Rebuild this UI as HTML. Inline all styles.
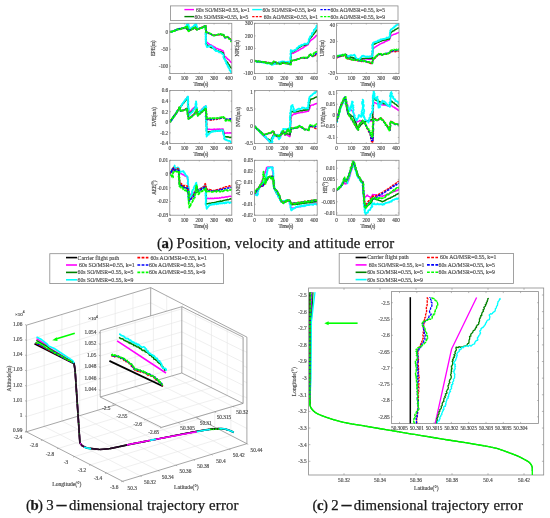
<!DOCTYPE html>
<html><head><meta charset="utf-8"><title>Figure</title>
<style>
html,body{margin:0;padding:0;background:#fff;width:550px;height:518px;overflow:hidden}
svg{position:absolute;left:0;top:0;display:block}
svg text{font-family:"Liberation Serif","Times New Roman",serif;stroke:#5a5a5a;stroke-width:0.18px}
.cap{position:absolute;letter-spacing:0.235px;-webkit-text-stroke:0.25px #1a1a1a;font-family:"Liberation Serif","DejaVu Serif",serif;color:#1a1a1a;white-space:nowrap;line-height:1}
.cap b{font-weight:bold}
.lab{letter-spacing:-0.55px}
.dash{display:inline-block;transform:translateY(-1.4px) scale(0.68,1.6)}
</style></head><body>
<svg width="550" height="518" viewBox="0 0 550 518">
<clipPath id="c0"><rect x="169.8" y="23.3" width="62" height="50.3"/></clipPath>
<g clip-path="url(#c0)">
<polyline points="169.77,32.19 170.51,31.85 171.34,31.79 172.02,31.28 172.85,31.2 173.58,30.87 174.3,30.47 175.12,30.39 175.81,29.93 176.63,29.82 177.34,29.4 178.13,29.14 179.04,29.12 179.96,29.14 180.78,28.67 181.68,28.56 182.59,28.57 183.5,28.55 184.36,28.23 185.21,28 186.01,27.65 186.39,26.8 187.27,26.52 187.9,25.83 188.21,26.58 188.48,27.34 188.66,28.14 188.71,28.98 189.04,29.57 189.94,29.37 190.77,29.02 191.55,28.55 192.41,28.26 193.15,27.7 193.98,27.33 194.85,27.02 196.1,26.79 196.63,27.51 197.1,28.25 197.47,29.1 198.28,28.77 199.08,28.43 199.98,28.36 200.79,28.05 201.55,27.58 202.43,27.45 203.25,27.15 204.1,26.86 204.84,26.37 205.65,25.86 205.37,26.67 205.78,27.45 205.67,28.26 205.55,29.06 205.84,29.85 205.72,30.66 205.94,31.45 205.69,32.26 205.67,33.06 205.78,33.86 205.68,34.66 205.95,35.46 205.81,36.26 205.88,37.06 205.91,37.86 205.99,38.66 205.85,39.46 205.83,40.26 206.06,41.06 206.03,41.92 206.95,42.21 207.57,42.96 208.35,43.45 208.98,44.02 209.72,44.4 210.54,44.64 211.22,45.12 211.86,45.67 212.71,45.87 213.31,46.48 214.08,46.81 214.79,47.23 215.51,47.65 216.07,48.37 216.95,48.39 217.72,48.72 218.48,49.07 219.2,49.55 220.1,49.51 220.83,49.94 221.6,50.27 222.34,50.69 223.05,50.85 223.24,51.71 223.71,52.5 223.86,53.37 224.1,54.22 224.09,55.13 224.33,56.08 225.19,56.41 225.79,57.01 226.38,57.61 226.99,58.2 227.53,58.87 228.11,59.49 228.82,59.97 229.51,60.47 229.99,61.19 230.62,61.76 231.17,62.41 231.8,62.98" fill="none" stroke="#ff00ff" stroke-width="1.5" stroke-linejoin="round"/>
<polyline points="169.87,32.45 170.59,32.07 171.32,31.73 172.1,31.51 172.87,31.26 173.54,30.74 174.42,30.82 175.16,30.5 175.94,30.27 176.68,29.97 177.39,29.54 178.15,29.27 179.01,28.98 179.94,29.05 180.78,28.65 181.66,28.49 182.56,28.39 183.44,28.21 184.34,28.13 185.36,27.88 186.02,28.38 186.62,28.94 187.27,29.43 187.85,30.04 188.37,30.4 189.3,30.41 190.04,29.96 190.75,29.43 191.55,29.13 192.36,28.83 193.14,28.49 193.89,28.05 194.8,28.01 195.33,27.62 195.88,28.24 196.22,28.97 196.49,29.53 197.33,29.22 198.2,28.99 199.03,28.64 199.95,28.55 200.68,27.96 201.5,27.58 202.48,27.64 203.25,27.15 203.94,26.58 204.8,26.3 205.77,25.85 205.57,26.67 205.39,27.48 205.47,28.28 205.56,29.09 205.78,29.89 205.75,30.7 205.86,31.5 205.62,32.32 205.75,33.12 205.66,33.93 205.88,34.73 205.95,35.54 205.71,36.35 205.66,37.16 205.74,37.97 205.78,38.77 205.8,39.58 205.86,40.39 206.1,41.19 206,42 206.09,42.8 206.26,43.61 206.18,44.24 206.84,44.75 207.56,45.15 208.18,45.73 208.84,46.24 209.67,46.46 210.28,47.05 210.98,47.48 211.71,47.88 212.55,48.07 213.3,48.43 214.02,48.84 214.74,49.24 215.46,49.65 216.09,50.23 216.83,50.63 217.63,50.89 218.47,51.02 219.23,51.38 219.99,51.72 220.89,51.71 221.59,52.24 222.33,52.62 223.06,52.76 223.26,53.58 223.56,54.38 223.87,55.18 223.79,56.06 224.17,56.84 224.16,57.7 224.3,58.62 224.99,59.15 225.48,59.84 225.77,60.66 226.34,61.29 227.03,61.83 227.53,62.5 228.01,63.19 228.23,64.06 228.76,64.72 229.48,65.23 229.73,66.09 230.16,66.81 230.77,67.41 231.36,68.02 231.8,68.74" fill="none" stroke="#008000" stroke-width="1.5" stroke-linejoin="round"/>
<polyline points="169.82,32.3 170.44,31.67 171.17,31.28 172.23,31.77 172.89,31.22 173.61,30.83 174.5,30.87 175.1,30.17 176,30.24 176.74,29.91 177.31,29.11 178.12,28.84 179.01,28.72 179.89,28.51 180.83,28.65 181.66,28.21 182.57,28.19 183.41,27.78 184.42,28.29 185.12,27.72 185.57,27.03 186.04,26.35 186.66,25.75 186.64,24.82 187.4,24.29 187.44,23.39 187.78,22.67 187.95,23.5 188.55,24.24 188.34,25.15 188.73,25.93 189.04,26.74 188.51,27.7 189.22,28.43 189.08,29.3 189.93,28.97 190.57,28.33 191.18,27.65 192,27.28 192.74,26.8 193.58,26.45 193.96,25.45 194.93,25.24 195.11,24.19 195.56,23.26 195.93,22.45 196.32,23.24 196.44,24.08 196.43,24.94 196.46,25.8 197.02,26.55 197.04,27.41 197.29,28.23 197.46,29.07 198.34,28.95 199.1,28.47 199.95,28.26 200.76,27.94 201.71,28.06 202.47,27.58 203.4,27.43 204.2,27.05 204.69,26.1 205.51,25.86 205.19,26.67 205.3,27.47 205.94,28.25 205.98,29.05 205.72,29.86 206.06,30.65 205.94,31.45 206.11,32.25 205.6,33.06 205.52,33.87 205.45,34.67 206.12,35.45 205.65,36.26 205.72,37.06 206.19,37.85 205.57,38.67 205.51,39.47 206.19,40.25 205.57,41.07 206.08,41.86 206.02,42.66 205.6,43.47 205.76,44.27 206.34,44.93 206.47,45.76 206.75,46.51 207.05,47.1 207.78,46.68 208.59,46.47 209.49,46.49 210.03,45.61 210.93,45.73 211.57,46.23 212.4,46.54 212.78,47.3 213.17,48.05 213.81,48.55 214.66,48.84 214.66,49.98 215.36,50.43 215.94,51.2 217.04,50.86 217.76,51.34 218.63,51.52 219.15,52.46 220.12,52.41 220.96,52.65 221.64,53.24 222.25,53.99 222.9,54.06 223.55,54.94 223.81,55.89 223.3,56.96 223.77,57.88 224.03,58.66 224.87,59.15 225.26,59.87 225.13,60.84 225.7,61.46 226.34,62.05 226.02,63.12 226.62,63.73 226.85,64.52 227.78,64.97 227.53,66 228.52,66.41 228.25,67.45 228.94,68.02 229.39,68.7 229.58,69.51 229.65,70.39 230.53,70.86 231,71.53 231.05,72.41 231.64,73.03 231.8,73.86" fill="none" stroke="#00ffff" stroke-width="1.8" stroke-linejoin="round"/>
<polyline points="169.73,32.06 170.5,31.82 171.24,31.49 172.03,31.3 172.81,31.09 173.56,30.82 174.41,30.79 175.08,30.28 175.88,30.12 176.58,29.68 177.37,29.5 178.1,29.06 178.95,28.98 179.74,28.66 180.65,28.85 181.44,28.55 182.21,28.16 183.07,28.12 183.95,28.16 184.66,27.52 185.57,27.71 186.34,27.3 187.17,27.14 187.25,27.97 187.74,28.66 187.93,29.44 188.1,30.24 188.57,31.22 189.2,30.52 190.1,30.38 190.86,29.93 191.63,29.51 192.36,29.01 193.13,28.6 193.85,28.07 194.65,27.72 195.75,27.46 195.72,28.65 196.12,29.57 196.89,29.24 197.66,28.92 198.59,29.02 199.38,28.75 200.13,28.37 200.84,27.88 201.62,27.58 202.42,27.32 203.23,27.12 203.92,26.55 204.77,26.26 205.69,25.85 205.38,26.74 205.45,27.6 205.75,28.44 205.99,29.29 205.67,30.18 206.1,31.01 206.11,31.81 206.98,32.06 207.65,32.67 208.4,33.14 209.12,33.52 209.93,33.74 210.59,34.25 211.45,34.37 212.12,34.87 212.9,35.15 213.52,35.66 214.29,35.31 215.09,35.14 215.93,35.13 216.72,34.93 217.56,34.96 218.36,34.77 219.19,34.73 219.95,34.52 220.91,34.74 221.85,35.02 222.87,34.95 223.91,35.16 224.02,36.18 224.85,36.82 225.15,37.88 225.99,37.58 226.75,37.01 227.58,37.14 228.24,37.66 229.02,38.03 229.67,38.57 230.33,39.1 231.23,39.29 231.8,39.94" fill="none" stroke="#ff0000" stroke-width="1.5" stroke-linejoin="round" stroke-dasharray="2.6 0.9"/>
<polyline points="169.8,32.27 170.56,31.99 171.38,31.9 172.14,31.61 172.9,31.36 173.62,30.96 174.43,30.86 175.15,30.48 175.92,30.22 176.59,29.71 177.32,29.34 178.11,29.12 178.96,29.04 179.75,28.71 180.66,28.9 181.44,28.56 182.27,28.39 183.09,28.2 183.91,28.03 184.71,27.73 185.46,27.27 186.39,27.5 187.04,27.18 187.42,27.91 187.66,28.68 187.85,29.47 188.42,30.14 188.51,31.1 189.18,30.47 189.92,30 190.75,29.71 191.65,29.56 192.31,28.91 193.23,28.79 194.07,28.53 194.74,27.9 195.59,27.51 195.86,28.61 196.2,29.79 197.01,29.55 197.76,29.19 198.55,28.92 199.23,28.34 200.03,28.1 200.84,27.87 201.72,27.83 202.42,27.32 203.26,27.17 203.89,26.48 204.67,26.07 205.69,25.85 205.54,26.69 205.6,27.51 205.68,28.34 205.97,29.14 205.92,29.97 206.02,30.79 206.08,31.6 206.95,31.91 207.5,32.74 208.46,32.88 209.01,33.63 209.75,33.97 210.71,33.89 211.34,34.47 211.99,35.01 212.68,35.45 213.53,35.56 214.31,35.3 215.11,35.11 215.99,35.35 216.72,34.79 217.56,34.83 218.32,34.43 219.16,34.48 219.93,34.55 220.96,34.27 221.87,34.8 222.86,34.79 223.63,35.03 224.04,35.76 224.6,36.43 224.59,37.34 225.11,38.01 225.88,37.47 226.74,37.16 227.69,37.12 228.39,37.72 229.13,38.28 229.87,38.83 230.49,39.53 231.18,40.14 231.8,40.83" fill="none" stroke="#0000ff" stroke-width="1.5" stroke-linejoin="round" stroke-dasharray="2.6 0.9" stroke-dashoffset="1.6"/>
<polyline points="169.92,32.57 170.38,31.51 171.41,31.91 172.2,31.7 172.71,30.74 173.75,31.2 174.44,30.71 175.26,30.59 175.81,29.74 176.6,29.52 177.36,29.25 178.01,29.53 179.1,29.46 180.03,29.57 180.85,29.28 181.57,28.79 182.26,28.23 183.07,27.92 184.16,28.22 184.72,27.37 185.77,27.6 186.28,26.63 187.39,26.44 187.41,27.4 187.97,28.21 188.06,29.15 187.76,30.21 188.63,31.31 189.31,30.87 189.93,30.33 190.77,30.19 191.49,29.83 192.01,29.1 192.8,28.87 193.19,27.9 194.22,28.11 194.8,27.48 195.28,27.2 195.6,28.03 196.16,28.79 196.02,29.28 197.1,29.81 197.62,28.78 198.52,28.82 199.26,28.42 200.03,28.09 200.97,28.22 201.83,28.15 202.38,27.2 203.32,27.27 203.92,26.54 204.82,26.34 205.66,25.85 205.96,26.65 206.04,27.48 206.07,28.3 205.45,29.19 205.93,29.97 206.28,30.77 205.88,31.97 206.61,32.48 207.64,32.43 208.55,32.58 209.26,32.99 210.04,33.27 210.66,33.86 211.51,34 212.18,34.5 212.91,34.88 213.55,35.53 214.41,35.68 215.19,35.38 215.93,34.89 216.73,34.74 217.56,34.68 218.33,34.38 219.13,34.18 220.04,33.75 220.97,34.12 221.82,34.96 222.92,34.29 223.82,34.82 224.03,35.67 224.13,36.55 225.05,37.11 225.01,37.82 225.86,37.37 226.78,37.08 227.73,36.71 227.85,37.66 228.44,38.24 228.94,38.89 230.11,39 230.62,39.65 230.61,40.71 230.98,41.46 231.8,41.86" fill="none" stroke="#00ff00" stroke-width="1.7" stroke-linejoin="round" stroke-dasharray="3.6 0.6"/>
</g>
<rect x="169.8" y="23.3" width="62" height="50.3" fill="none" stroke="#8a8a8a" stroke-width="0.8"/>
<line x1="169.8" y1="73.6" x2="169.8" y2="72.4" stroke="#8a8a8a" stroke-width="0.6"/>
<line x1="169.8" y1="23.3" x2="169.8" y2="24.5" stroke="#8a8a8a" stroke-width="0.6"/>
<text x="169.8" y="79.9" font-size="5.2" text-anchor="middle" fill="#4a4a4a">0</text>
<line x1="184.56" y1="73.6" x2="184.56" y2="72.4" stroke="#8a8a8a" stroke-width="0.6"/>
<line x1="184.56" y1="23.3" x2="184.56" y2="24.5" stroke="#8a8a8a" stroke-width="0.6"/>
<text x="184.56" y="79.9" font-size="5.2" text-anchor="middle" fill="#4a4a4a">100</text>
<line x1="199.32" y1="73.6" x2="199.32" y2="72.4" stroke="#8a8a8a" stroke-width="0.6"/>
<line x1="199.32" y1="23.3" x2="199.32" y2="24.5" stroke="#8a8a8a" stroke-width="0.6"/>
<text x="199.32" y="79.9" font-size="5.2" text-anchor="middle" fill="#4a4a4a">200</text>
<line x1="214.09" y1="73.6" x2="214.09" y2="72.4" stroke="#8a8a8a" stroke-width="0.6"/>
<line x1="214.09" y1="23.3" x2="214.09" y2="24.5" stroke="#8a8a8a" stroke-width="0.6"/>
<text x="214.09" y="79.9" font-size="5.2" text-anchor="middle" fill="#4a4a4a">300</text>
<line x1="228.85" y1="73.6" x2="228.85" y2="72.4" stroke="#8a8a8a" stroke-width="0.6"/>
<line x1="228.85" y1="23.3" x2="228.85" y2="24.5" stroke="#8a8a8a" stroke-width="0.6"/>
<text x="228.85" y="79.9" font-size="5.2" text-anchor="middle" fill="#4a4a4a">400</text>
<text x="200.8" y="86.2" font-size="5.3" text-anchor="middle" fill="#4a4a4a" letter-spacing="-0.3">Time(s)</text>
<line x1="169.8" y1="32.24" x2="171" y2="32.24" stroke="#8a8a8a" stroke-width="0.6"/>
<line x1="231.8" y1="32.24" x2="230.6" y2="32.24" stroke="#8a8a8a" stroke-width="0.6"/>
<text x="168.2" y="34.04" font-size="5.2" text-anchor="end" fill="#4a4a4a">0</text>
<line x1="169.8" y1="49.25" x2="171" y2="49.25" stroke="#8a8a8a" stroke-width="0.6"/>
<line x1="231.8" y1="49.25" x2="230.6" y2="49.25" stroke="#8a8a8a" stroke-width="0.6"/>
<text x="168.2" y="51.05" font-size="5.2" text-anchor="end" fill="#4a4a4a">-50</text>
<line x1="169.8" y1="66.25" x2="171" y2="66.25" stroke="#8a8a8a" stroke-width="0.6"/>
<line x1="231.8" y1="66.25" x2="230.6" y2="66.25" stroke="#8a8a8a" stroke-width="0.6"/>
<text x="168.2" y="68.05" font-size="5.2" text-anchor="end" fill="#4a4a4a">-100</text>
<text x="153.2" y="48.45" font-size="5.3" text-anchor="middle" transform="rotate(-90 153.2 48.45)" fill="#4a4a4a" dominant-baseline="central" letter-spacing="-0.3">EPE(m)</text>
<clipPath id="c36"><rect x="254.5" y="23.3" width="62.7" height="50.3"/></clipPath>
<g clip-path="url(#c36)">
<polyline points="254.5,61.05 255.32,61.19 256.17,61.04 256.97,61.3 257.76,61.64 258.58,61.69 259.4,61.8 260.22,61.95 261.08,61.73 261.9,61.77 262.72,61.89 263.52,62.15 264.33,62.32 265.12,62.53 265.93,62.6 266.72,62.74 267.49,62.96 268.31,63 269.09,63.21 269.92,63.16 270.63,63.65 271.47,63.59 272.25,64.06 273.04,63.86 273.83,63.64 274.62,63.49 275.43,63.47 276.25,63.56 277.06,63.51 277.84,63.18 278.64,63.09 279.46,63.21 280.26,63.16 281.06,63 281.88,62.86 282.74,63.09 283.63,62.89 284.49,63.08 285.36,63.22 286.22,63.5 287.1,63.42 287.97,63.59 288.86,63.48 289.74,63.44 290.49,63.61 290.83,62.82 290.74,62.02 290.58,61.21 290.48,60.41 290.71,59.62 290.81,58.82 290.72,58.02 290.67,57.21 290.87,56.42 291.01,55.62 290.72,54.81 290.79,53.82 291.69,53.65 292.56,53.39 293.47,53.19 294.14,52.58 295.04,52.39 295.79,51.95 296.52,51.43 297.22,50.9 298.16,50.77 298.79,50.09 299.67,49.87 300.31,49.22 301.07,48.79 301.91,48.55 302.5,47.93 303.37,47.72 303.97,47.1 304.6,46.54 305.31,46.11 306.07,45.73 306.83,45.38 307.61,45.03 308.07,44.35 308.59,43.54 308.95,42.66 309.63,42.01 309.98,41.2 310.54,40.63 311.14,40.09 311.83,39.66 312.57,39.28 313.16,38.73 313.71,38.14 314.38,37.69 314.96,37.13 315.37,36.39 315.92,35.8 316.74,35.5 317.2,34.82" fill="none" stroke="#ff00ff" stroke-width="1.5" stroke-linejoin="round"/>
<polyline points="254.49,61.16 255.34,60.95 256.13,61.33 256.97,61.3 257.79,61.4 258.61,61.48 259.44,61.5 260.27,61.53 261.07,61.75 261.89,61.88 262.68,62.24 263.54,61.98 264.32,62.44 265.19,62.21 265.96,62.45 266.7,62.82 267.49,62.99 268.31,62.99 269.13,63 269.88,63.35 270.67,63.48 271.41,63.88 272.22,63.74 273.03,63.74 273.85,63.9 274.62,63.44 275.44,63.54 276.26,63.64 277.06,63.54 277.83,63.15 278.64,63.07 279.44,63.01 280.28,63.31 281.05,62.95 281.86,63.09 282.73,63.22 283.62,63.03 284.5,63.07 285.35,63.43 286.23,63.35 287.12,63.26 287.98,63.52 288.86,63.41 289.74,63.45 290.39,63.61 290.73,62.8 290.82,61.98 290.72,61.15 290.87,60.33 290.49,59.5 290.6,58.68 290.72,57.86 290.95,57.04 290.97,56.22 290.74,55.39 290.7,54.56 290.79,53.74 290.84,52.92 290.91,52.28 291.68,51.75 292.61,51.8 293.49,51.55 294.21,51.11 294.9,50.63 295.56,50.1 296.19,49.53 296.89,49.06 297.6,48.61 298.4,48.3 298.93,47.58 299.66,47.16 300.5,46.9 301.1,46.23 301.86,45.87 302.64,45.58 303.5,45.51 304.25,45.13 305.14,45.11 305.91,44.79 306.71,44.55 307.39,43.97 308.03,43.73 308.29,42.83 308.72,41.99 309.07,41.12 309.21,40.19 309.4,39.23 309.98,38.64 310.56,38.05 311.09,37.43 311.63,36.81 312.18,36.19 312.63,35.5 312.96,34.71 313.72,34.27 314.05,33.48 314.65,32.92 315.1,32.22 315.74,31.68 316.07,30.9 316.6,30.27 317.2,29.7" fill="none" stroke="#008000" stroke-width="1.5" stroke-linejoin="round"/>
<polyline points="254.54,60.81 255.37,60.84 256.09,61.67 256.95,61.49 257.81,61.36 258.62,61.55 259.35,62.25 260.24,61.89 261.1,61.74 261.84,62.42 262.68,62.39 263.45,62.84 264.4,62.09 265.17,62.57 265.88,63.14 266.67,63.4 267.46,63.71 268.51,63.12 269.24,63.6 270.09,63.67 270.87,63.98 271.71,64.96 272.4,64.38 273.28,64.49 273.93,63.74 274.85,64 275.53,63.38 276.27,62.98 277.2,63.26 278.03,63.21 278.6,62.19 279.52,62.44 280.32,62.24 281,61.64 281.88,61.57 282.77,61.41 283.64,61.53 284.51,61.65 285.35,62.05 286.22,62.17 287.13,61.79 288.02,61.66 288.87,62.04 289.72,62.45 290.29,62.33 290.44,61.52 290.34,60.71 290.95,59.91 290.72,59.1 290.26,58.27 290.31,57.46 290.62,56.66 290.79,55.85 290.9,55.04 290.37,54.22 290.46,53.41 291,52.61 290.74,51.8 290.63,50.98 290.92,50 291.57,50.9 292.64,50.6 293.47,51.13 293.99,50.46 294.66,50.01 295.58,49.85 296.3,49.46 296.56,48.46 297.1,47.83 298.07,47.74 298.39,46.83 298.91,46.18 300.1,46.37 300.45,45.5 301.22,45.36 301.9,44.76 302.81,45 303.48,44.38 304.19,43.88 304.94,43.53 305.86,43.83 306.67,43.7 307.53,43.74 307.81,43.04 308.54,42.31 308.51,41.4 308.85,40.58 308.72,39.64 309.07,38.82 309.51,38.03 310.28,37.53 310.02,36.4 310.77,35.88 311.46,35.33 312.03,34.7 311.8,33.6 312.17,32.85 313.29,32.56 313.75,31.86 313.76,30.9 313.82,29.97 314.99,29.7 314.96,28.72 315.83,28.27 316.02,27.41 316.62,26.81 316.48,25.76 317.2,25.22" fill="none" stroke="#00ffff" stroke-width="1.8" stroke-linejoin="round"/>
<polyline points="254.48,61.21 255.34,61 256.15,61.2 256.94,61.54 257.76,61.63 258.62,61.38 259.44,61.49 260.25,61.69 261.06,61.85 261.89,61.88 262.73,61.84 263.54,62 264.33,62.36 265.13,62.55 266.09,62.25 266.92,62.69 267.79,62.96 268.74,62.73 269.55,63.32 270.5,63.09 271.34,63.51 272.25,63.63 272.93,62.7 273.55,61.6 274.32,61.94 275.07,62.31 275.89,62.51 276.63,62.92 277.45,63.09 278.24,63.37 279.1,63.44 279.77,64.03 280.58,64.25 281.1,63.22 281.84,62.48 282.64,62.65 283.48,62.63 284.31,62.64 285.08,62.96 285.92,62.92 286.73,63.1 287.5,63.42 288.35,63.4 289.46,63.91 290.61,64.26 290.48,63.42 290.93,62.67 290.76,61.82 291.15,61.18 291.97,60.99 292.75,60.64 293.5,60.18 294.37,60.21 295.17,59.93 296.09,60.01 296.79,59.27 297.78,59.32 298.67,59.07 299.47,58.62 300.34,58.34 301.14,57.69 301.94,58.12 302.75,57.85 303.55,58.11 304.35,58.09 305.15,57.67 305.96,58.02 306.76,58.09 307.38,57.71 308.01,57.17 308.7,56.67 308.96,55.82 309.79,55.43 310.21,54.56 310.67,55.28 311.54,55.46 312.06,56.1 312.79,56.79 313.39,56.11 314.15,55.82 314.95,55.62 315.66,55.21 316.35,54.74 317.2,54.66" fill="none" stroke="#ff0000" stroke-width="1.5" stroke-linejoin="round" stroke-dasharray="2.6 0.9"/>
<polyline points="254.52,60.88 255.34,60.97 256.11,61.49 256.95,61.45 257.76,61.67 258.62,61.37 259.4,61.8 260.27,61.54 261.06,61.86 261.87,62.02 262.71,61.96 263.5,62.34 264.34,62.27 265.16,62.38 266.01,62.7 266.97,62.44 267.77,63.08 268.68,63.05 269.59,63.08 270.43,63.46 271.37,63.33 272.45,63.77 272.91,62.68 273.54,61.62 274.25,62.12 275.1,62.24 275.93,62.38 276.61,62.96 277.53,62.89 278.17,63.57 279.06,63.56 279.77,64.04 280.8,64.4 281.26,63.32 281.85,62.43 282.69,62.4 283.53,62.39 284.33,62.57 285.12,62.79 285.87,63.2 286.69,63.26 287.49,63.46 288.23,63.83 289.5,63.74 290.46,64.23 290.82,63.47 290.6,62.62 290.72,61.81 291.1,60.98 291.88,60.63 292.73,60.55 293.52,60.27 294.38,60.25 295.2,60.04 295.94,59.62 296.88,59.52 297.71,59.12 298.5,58.63 299.51,58.72 300.23,58.05 301.14,57.66 301.94,57.63 302.75,57.93 303.55,58.06 304.35,58.01 305.15,57.8 305.96,57.73 306.76,57.59 307.63,57.91 308.1,57.24 308.53,56.53 309.17,55.99 309.6,55.28 310.01,54.86 310.92,55.28 311.92,55.56 312.82,56.38 313.32,55.51 314.21,55.27 314.92,54.74 315.62,54.19 316.32,53.64 317.2,53.38" fill="none" stroke="#0000ff" stroke-width="1.5" stroke-linejoin="round" stroke-dasharray="2.6 0.9" stroke-dashoffset="1.6"/>
<polyline points="254.47,61.33 255.38,60.68 256.13,61.3 256.91,61.79 257.82,61.1 258.64,61.25 259.41,61.75 260.24,61.75 261.05,61.98 261.85,62.25 262.74,61.72 263.55,61.95 264.37,62.04 265.24,61.9 265.98,62.88 266.88,62.93 267.78,63.03 268.78,62.5 269.52,63.47 270.42,63.54 271.35,63.42 272.43,63.75 272.83,62.63 273.61,61.44 274.44,61.63 275.18,62.05 276.03,62.17 276.71,62.74 277.35,63.42 278.16,63.67 278.89,64.11 279.72,64.28 280.39,64.26 281.06,63.73 281.39,62.99 281.81,62.62 282.67,62.52 283.52,62.43 284.25,62.95 284.99,63.43 285.94,62.86 286.61,63.67 287.58,62.99 288.39,63.4 289.17,63.72 289.74,64.52 291.04,64.7 290.97,63.71 290.69,62.7 291.36,61.81 291.08,60.63 291.88,60.38 292.83,60.85 293.59,60.42 294.41,60.31 295.22,60.11 296.19,60.21 296.84,59.39 297.84,59.36 298.65,58.87 299.56,58.65 300.26,57.91 301.13,57.82 301.94,57.7 302.75,57.48 303.56,57.41 304.35,57.85 305.17,57.34 305.94,58.2 306.77,57.47 307.19,57.58 307.77,56.93 308.93,56.73 308.98,55.69 309.33,54.88 310.37,54 311.22,54.52 311.75,55.59 312.82,56 313.26,55.26 313.68,54.51 313.48,53.44 314.32,52.91 314.6,51.97 315.56,52.19 316.42,51.98 317.2,51.46" fill="none" stroke="#00ff00" stroke-width="1.7" stroke-linejoin="round" stroke-dasharray="3.6 0.6"/>
</g>
<rect x="254.5" y="23.3" width="62.7" height="50.3" fill="none" stroke="#8a8a8a" stroke-width="0.8"/>
<line x1="254.5" y1="73.6" x2="254.5" y2="72.4" stroke="#8a8a8a" stroke-width="0.6"/>
<line x1="254.5" y1="23.3" x2="254.5" y2="24.5" stroke="#8a8a8a" stroke-width="0.6"/>
<text x="254.5" y="79.9" font-size="5.2" text-anchor="middle" fill="#4a4a4a">0</text>
<line x1="269.43" y1="73.6" x2="269.43" y2="72.4" stroke="#8a8a8a" stroke-width="0.6"/>
<line x1="269.43" y1="23.3" x2="269.43" y2="24.5" stroke="#8a8a8a" stroke-width="0.6"/>
<text x="269.43" y="79.9" font-size="5.2" text-anchor="middle" fill="#4a4a4a">100</text>
<line x1="284.36" y1="73.6" x2="284.36" y2="72.4" stroke="#8a8a8a" stroke-width="0.6"/>
<line x1="284.36" y1="23.3" x2="284.36" y2="24.5" stroke="#8a8a8a" stroke-width="0.6"/>
<text x="284.36" y="79.9" font-size="5.2" text-anchor="middle" fill="#4a4a4a">200</text>
<line x1="299.29" y1="73.6" x2="299.29" y2="72.4" stroke="#8a8a8a" stroke-width="0.6"/>
<line x1="299.29" y1="23.3" x2="299.29" y2="24.5" stroke="#8a8a8a" stroke-width="0.6"/>
<text x="299.29" y="79.9" font-size="5.2" text-anchor="middle" fill="#4a4a4a">300</text>
<line x1="314.21" y1="73.6" x2="314.21" y2="72.4" stroke="#8a8a8a" stroke-width="0.6"/>
<line x1="314.21" y1="23.3" x2="314.21" y2="24.5" stroke="#8a8a8a" stroke-width="0.6"/>
<text x="314.21" y="79.9" font-size="5.2" text-anchor="middle" fill="#4a4a4a">400</text>
<text x="285.85" y="86.2" font-size="5.3" text-anchor="middle" fill="#4a4a4a" letter-spacing="-0.3">Time(s)</text>
<line x1="254.5" y1="23.3" x2="255.7" y2="23.3" stroke="#8a8a8a" stroke-width="0.6"/>
<line x1="317.2" y1="23.3" x2="316" y2="23.3" stroke="#8a8a8a" stroke-width="0.6"/>
<text x="252.9" y="25.1" font-size="5.2" text-anchor="end" fill="#4a4a4a">300</text>
<line x1="254.5" y1="35.88" x2="255.7" y2="35.88" stroke="#8a8a8a" stroke-width="0.6"/>
<line x1="317.2" y1="35.88" x2="316" y2="35.88" stroke="#8a8a8a" stroke-width="0.6"/>
<text x="252.9" y="37.67" font-size="5.2" text-anchor="end" fill="#4a4a4a">200</text>
<line x1="254.5" y1="48.45" x2="255.7" y2="48.45" stroke="#8a8a8a" stroke-width="0.6"/>
<line x1="317.2" y1="48.45" x2="316" y2="48.45" stroke="#8a8a8a" stroke-width="0.6"/>
<text x="252.9" y="50.25" font-size="5.2" text-anchor="end" fill="#4a4a4a">100</text>
<line x1="254.5" y1="61.02" x2="255.7" y2="61.02" stroke="#8a8a8a" stroke-width="0.6"/>
<line x1="317.2" y1="61.02" x2="316" y2="61.02" stroke="#8a8a8a" stroke-width="0.6"/>
<text x="252.9" y="62.82" font-size="5.2" text-anchor="end" fill="#4a4a4a">0</text>
<line x1="254.5" y1="73.6" x2="255.7" y2="73.6" stroke="#8a8a8a" stroke-width="0.6"/>
<line x1="317.2" y1="73.6" x2="316" y2="73.6" stroke="#8a8a8a" stroke-width="0.6"/>
<text x="252.9" y="75.4" font-size="5.2" text-anchor="end" fill="#4a4a4a">-100</text>
<text x="237.3" y="48.45" font-size="5.3" text-anchor="middle" transform="rotate(-90 237.3 48.45)" fill="#4a4a4a" dominant-baseline="central" letter-spacing="-0.3">NPE(m)</text>
<clipPath id="c78"><rect x="336.6" y="23.3" width="62.4" height="50.3"/></clipPath>
<g clip-path="url(#c78)">
<polyline points="336.65,57.27 337.36,56.7 338.26,56.81 339.08,56.61 339.89,56.4 340.61,55.82 341.43,55.63 342.23,55.37 343.03,55.11 343.93,55.23 344.74,54.99 345.48,54.68 346.23,55.41 347.1,56 347.97,56.52 348.8,56.66 349.61,56.87 350.35,57.36 351.22,57.34 352.02,57.6 352.82,57.85 353.67,57.89 354.46,58.21 355.26,58.43 356.03,58.83 356.87,58.89 357.69,59.08 358.43,59.57 359.29,59.58 360.12,59.63 360.92,59.43 361.7,59.07 362.53,59.13 363.34,59.04 364.17,59.08 364.96,58.79 365.76,58.85 366.58,58.88 367.41,58.84 368.19,59.22 369.04,58.99 369.81,59.41 370.65,59.23 371.47,59.26 372.13,59.58 372.41,58.76 372.54,57.94 372.15,57.1 372.4,56.28 372.44,55.46 372.61,54.64 372.38,53.8 372.55,52.99 372.53,52.16 372.78,51.34 372.56,50.51 372.9,49.7 372.69,48.78 373.34,48.3 374.13,48.02 374.74,47.49 375.31,46.89 376.11,46.62 376.64,45.96 377.48,45.76 378.12,45.27 378.79,44.85 379.52,44.44 380.22,43.98 380.98,43.64 381.73,43.28 382.58,43.13 383.18,42.45 384.08,42.42 384.67,41.72 385.46,41.44 386.22,41.11 387.09,41.01 387.77,40.5 388.5,40.1 389.43,39.85 389.49,38.92 389.91,38.14 390.26,37.32 390.68,36.53 390.94,35.77 391.73,35.4 392.49,34.95 393.3,34.61 394.08,34.21 395,34.16 395.79,33.76 396.61,33.46 397.32,32.9 398.18,32.68 399,32.37" fill="none" stroke="#ff00ff" stroke-width="1.5" stroke-linejoin="round"/>
<polyline points="336.63,56.73 337.42,56.44 338.18,56.03 339.03,55.97 339.88,55.94 340.62,55.45 341.43,55.22 342.25,55.06 343.11,55.02 343.93,54.87 344.67,54.37 345.61,54.19 346.39,54.88 347.18,55.56 347.94,56.29 348.8,56.38 349.59,56.68 350.41,56.86 351.13,57.43 351.97,57.56 352.86,57.53 353.56,58.13 354.48,58 355.25,58.36 355.99,58.84 356.82,59 357.64,59.21 358.49,59.32 359.26,59.45 360.11,59.48 360.88,59.08 361.7,58.96 362.52,58.87 363.3,58.56 364.14,58.55 364.99,58.55 365.77,58.35 366.58,58.26 367.39,58.32 368.21,58.25 369.02,58.11 369.83,58.31 370.64,58.22 371.45,58.37 372.44,58.27 372.26,57.42 372.35,56.57 372.46,55.73 372.34,54.88 372.29,54.03 372.54,53.19 372.64,52.35 372.62,51.51 372.62,50.66 372.72,49.82 372.67,48.97 372.68,48.12 372.63,47.27 372.6,46.43 372.77,45.59 372.67,44.58 373.5,44.36 374.33,44.17 375.09,43.79 375.85,43.42 376.55,42.92 377.35,42.65 378.12,42.32 378.92,42.04 379.66,41.61 380.47,41.37 381.29,41.13 381.95,40.48 382.81,40.5 383.63,40.37 384.4,40.02 385.22,39.88 386.08,39.9 386.8,39.32 387.66,39.35 388.43,39 389.4,39 389.67,38.19 389.69,37.32 389.71,36.45 390.12,35.68 390.31,34.85 390.58,34.04 390.7,33.2 390.93,32.42 391.71,32.04 392.37,31.48 393.09,30.99 393.95,30.74 394.51,30.01 395.36,29.74 396.03,29.18 396.85,28.87 397.44,28.18 398.37,28.05 399,27.42" fill="none" stroke="#008000" stroke-width="1.5" stroke-linejoin="round"/>
<polyline points="336.58,56.13 337.34,55.68 338.18,55.8 339.02,55.81 339.76,55.27 340.64,55.6 341.45,55.48 342.3,55.66 343.06,55.16 343.86,54.95 344.66,54.78 345.39,55.2 346.09,55.83 347.12,55.87 347.87,55.98 348.84,56.4 349.54,55.76 350.3,55.36 351.09,55.06 352.07,55.55 352.89,55.38 353.65,54.98 354.46,54.62 354.77,55.49 355.51,56.15 355.19,57.33 356.12,57.79 356.79,58.48 357.51,59.07 358.32,59.48 359.26,59.56 359.65,58.75 360.41,58.24 360.59,57.27 361.74,57.06 361.87,56.05 362.36,55.8 363.46,55.64 364.22,56.16 365.09,56.45 365.76,57.03 366.54,56.66 367.33,56.36 368.24,57.04 368.99,56.46 369.79,56.31 370.61,56.27 371.44,56.36 372.18,56.28 372.44,55.46 372.49,54.64 372.2,53.8 372.85,53 372.8,52.18 371.95,51.32 372.83,50.52 372.95,49.7 372.84,48.87 372.17,48.02 372.96,47.23 372.77,46.39 372.12,45.54 372.15,44.72 373.21,43.93 372.79,43.25 373.58,42.55 374.45,42.12 375.32,41.92 376.09,41.64 377.08,41.8 377.58,41.02 378.21,40.46 379.3,40.83 379.97,40.35 380.38,39.37 381.46,39.72 382.01,39.08 382.86,39.09 383.64,38.78 384.51,38.84 385.29,38.54 386.12,38.41 386.77,37.54 387.7,37.89 388.47,37.53 389.54,37.37 389.39,36.48 390.05,35.76 389.87,34.86 389.74,33.96 389.89,33.13 389.97,32.29 390.53,31.54 390.24,30.62 390.87,29.87 391.27,29.07 392.14,28.82 392.76,28.3 393.42,27.8 394.27,27.54 394.28,26.29 395.5,26.45 395.86,25.61 396.55,25.15 397.25,24.71 398,24.32 398.29,23.4 399,22.97" fill="none" stroke="#00ffff" stroke-width="1.8" stroke-linejoin="round"/>
<polyline points="336.58,57.55 337.5,57.65 338.14,56.85 339.06,56.97 339.87,56.73 340.56,56.11 341.48,56.23 342.31,56.04 343.16,55.96 343.86,55.34 344.79,55.51 345.51,54.97 345.73,55.79 345.66,56.68 346.42,57.36 346.29,58.4 347.11,58.55 347.97,58.57 348.7,59.11 349.59,59 350.38,59.28 351.18,59.52 351.95,59.88 352.84,59.72 353.62,59.99 354.44,60.11 355.23,60.32 356.02,60.62 356.88,60.4 357.64,60.87 358.49,60.71 359.29,60.9 360.12,60.83 360.91,61.07 361.69,61.46 362.52,61.33 363.32,61.51 364.16,61.29 364.98,61.36 365.82,61.44 366.57,61.88 367.37,62.18 368.15,62.54 369.11,62.34 369.78,63.04 370.56,63.41 371.44,63.47 371.97,63.65 372.29,62.85 372.26,61.99 372.54,61.19 373.18,60.46 373.12,59.63 373.77,59.07 374.46,58.55 375.14,58.02 375.64,57.29 376.27,56.71 376.91,56.12 377.57,55.57 378.15,54.94 378.72,54.42 379.59,54.28 380.34,54.74 381.18,54.77 382.02,55.13 382.73,54.5 383.55,54.35 384.34,54.05 385.27,54.32 386.1,54.2 386.87,53.83 387.63,53.44 388.56,53.5 389.36,53.07 390.1,52.53 390.82,51.94 391.7,51.54 392.51,51.58 393.32,51.47 394.14,51.51 394.95,51.61 395.77,51.77 396.56,51.15 397.38,51.45 398.18,51.07 399,51.34" fill="none" stroke="#ff0000" stroke-width="1.5" stroke-linejoin="round" stroke-dasharray="2.6 0.9"/>
<polyline points="336.53,56.87 337.47,57.08 338.23,56.71 339.11,56.7 339.83,56.17 340.57,55.67 341.44,55.69 342.29,55.59 343.16,55.59 343.98,55.39 344.7,54.84 345.57,54.62 345.97,55.4 345.83,56.31 346.31,57.06 346.38,57.71 347.21,57.83 348.03,58.03 348.73,58.67 349.63,58.52 350.3,59.26 351.25,58.91 351.94,59.61 352.84,59.34 353.67,59.39 354.41,59.97 355.26,59.78 356.03,60.23 356.89,60 357.71,60.03 358.45,60.63 359.28,60.71 360.08,60.89 360.9,60.89 361.75,60.55 362.52,60.99 363.33,61.12 364.16,61.04 364.93,61.43 365.82,61.08 366.49,61.79 367.35,61.9 368.31,61.73 369.12,62 369.79,62.67 370.57,63.04 371.53,62.84 372.14,63.35 372.61,62.46 372.45,61.43 373.1,60.58 373.06,59.58 373.49,58.75 374.27,58.27 374.99,57.75 375.56,57.06 376.3,56.55 376.68,55.68 377.62,55.36 378.05,54.53 378.72,54.07 379.53,54.22 380.37,54.25 381.19,54.4 382.03,54.82 382.86,54.71 383.65,54.4 384.42,54.06 385.19,53.68 385.96,53.32 386.92,53.7 387.69,53.32 388.58,53.17 389.22,52.4 390.12,52.06 391.06,51.77 391.74,51.22 392.53,50.96 393.31,50.66 394.13,50.63 394.98,50.82 395.75,50.38 396.59,50.47 397.39,50.3 398.22,50.39 399,50.02" fill="none" stroke="#0000ff" stroke-width="1.5" stroke-linejoin="round" stroke-dasharray="2.6 0.9" stroke-dashoffset="1.6"/>
<polyline points="336.68,56.94 337.35,56.17 338.08,55.66 338.97,55.73 339.82,55.69 340.68,55.66 341.55,55.69 342.38,55.56 342.96,54.45 343.99,55.08 344.79,54.85 345.12,54.39 345.64,55.23 346.16,56.06 345.75,57.11 346.24,58.26 347.08,58.34 347.83,58.79 348.8,58.39 349.68,58.32 350.36,59.02 351.11,59.49 352.08,59.06 352.77,59.85 353.56,60.16 354.47,59.5 355.22,60.01 356.02,60.19 356.86,60.06 357.71,59.88 358.51,60.04 359.26,60.68 360.06,60.83 360.92,60.57 361.78,60.27 362.49,61.15 363.31,61.22 364.19,60.73 364.95,61.21 365.65,61.65 366.46,61.88 367.39,61.75 368.21,61.95 368.99,62.31 369.93,62.14 370.74,62.39 371.55,62.63 372.47,63.26 372.31,62.27 372.73,61.41 372.76,60.47 373.08,59.6 373.36,58.73 373.84,58.08 375.16,58.23 375.24,57.18 375.59,56.39 376.58,56.22 377.26,55.76 377.34,54.7 378.25,54.46 378.78,53.64 379.55,54.04 380.49,53.71 381.3,53.93 382.11,55.16 382.89,54.82 383.6,54.21 384.43,54.09 385.16,53.56 386.11,53.9 386.82,53.32 387.78,53.67 388.64,53.22 389.33,52.77 390.07,52.4 390.25,51.29 390.75,50.6 391.63,50.19 392.44,49.99 393.23,49.7 394.03,49.48 394.96,49.84 395.85,49.99 396.56,49.37 397.49,49.71 398.29,49.49 399,48.86" fill="none" stroke="#00ff00" stroke-width="1.7" stroke-linejoin="round" stroke-dasharray="3.6 0.6"/>
</g>
<rect x="336.6" y="23.3" width="62.4" height="50.3" fill="none" stroke="#8a8a8a" stroke-width="0.8"/>
<line x1="336.6" y1="73.6" x2="336.6" y2="72.4" stroke="#8a8a8a" stroke-width="0.6"/>
<line x1="336.6" y1="23.3" x2="336.6" y2="24.5" stroke="#8a8a8a" stroke-width="0.6"/>
<text x="336.6" y="79.9" font-size="5.2" text-anchor="middle" fill="#4a4a4a">0</text>
<line x1="351.46" y1="73.6" x2="351.46" y2="72.4" stroke="#8a8a8a" stroke-width="0.6"/>
<line x1="351.46" y1="23.3" x2="351.46" y2="24.5" stroke="#8a8a8a" stroke-width="0.6"/>
<text x="351.46" y="79.9" font-size="5.2" text-anchor="middle" fill="#4a4a4a">100</text>
<line x1="366.31" y1="73.6" x2="366.31" y2="72.4" stroke="#8a8a8a" stroke-width="0.6"/>
<line x1="366.31" y1="23.3" x2="366.31" y2="24.5" stroke="#8a8a8a" stroke-width="0.6"/>
<text x="366.31" y="79.9" font-size="5.2" text-anchor="middle" fill="#4a4a4a">200</text>
<line x1="381.17" y1="73.6" x2="381.17" y2="72.4" stroke="#8a8a8a" stroke-width="0.6"/>
<line x1="381.17" y1="23.3" x2="381.17" y2="24.5" stroke="#8a8a8a" stroke-width="0.6"/>
<text x="381.17" y="79.9" font-size="5.2" text-anchor="middle" fill="#4a4a4a">300</text>
<line x1="396.03" y1="73.6" x2="396.03" y2="72.4" stroke="#8a8a8a" stroke-width="0.6"/>
<line x1="396.03" y1="23.3" x2="396.03" y2="24.5" stroke="#8a8a8a" stroke-width="0.6"/>
<text x="396.03" y="79.9" font-size="5.2" text-anchor="middle" fill="#4a4a4a">400</text>
<text x="367.8" y="86.2" font-size="5.3" text-anchor="middle" fill="#4a4a4a" letter-spacing="-0.3">Time(s)</text>
<line x1="336.6" y1="25.39" x2="337.8" y2="25.39" stroke="#8a8a8a" stroke-width="0.6"/>
<line x1="399" y1="25.39" x2="397.8" y2="25.39" stroke="#8a8a8a" stroke-width="0.6"/>
<text x="335" y="27.19" font-size="5.2" text-anchor="end" fill="#4a4a4a">40</text>
<line x1="336.6" y1="41.46" x2="337.8" y2="41.46" stroke="#8a8a8a" stroke-width="0.6"/>
<line x1="399" y1="41.46" x2="397.8" y2="41.46" stroke="#8a8a8a" stroke-width="0.6"/>
<text x="335" y="43.26" font-size="5.2" text-anchor="end" fill="#4a4a4a">20</text>
<line x1="336.6" y1="57.53" x2="337.8" y2="57.53" stroke="#8a8a8a" stroke-width="0.6"/>
<line x1="399" y1="57.53" x2="397.8" y2="57.53" stroke="#8a8a8a" stroke-width="0.6"/>
<text x="335" y="59.33" font-size="5.2" text-anchor="end" fill="#4a4a4a">0</text>
<line x1="336.6" y1="73.6" x2="337.8" y2="73.6" stroke="#8a8a8a" stroke-width="0.6"/>
<line x1="399" y1="73.6" x2="397.8" y2="73.6" stroke="#8a8a8a" stroke-width="0.6"/>
<text x="335" y="75.4" font-size="5.2" text-anchor="end" fill="#4a4a4a">-20</text>
<text x="322.4" y="48.45" font-size="5.3" text-anchor="middle" transform="rotate(-90 322.4 48.45)" fill="#4a4a4a" dominant-baseline="central" letter-spacing="-0.3">UPE(m)</text>
<clipPath id="c117"><rect x="169.8" y="90.5" width="62" height="53"/></clipPath>
<g clip-path="url(#c117)">
<polyline points="169.6,122.02 170.31,121.51 170.7,120.78 171.04,120.02 171.89,119.61 172.04,118.72 172.65,118.14 173.16,117.5 173.77,116.92 174.11,116.16 174.46,115.4 174.95,114.75 175.29,113.99 176.13,113.57 176.61,112.9 176.73,111.99 177.12,111.26 177.69,110.66 178.21,110.01 178.92,109.52 179.4,108.85 179.83,108.15 179.96,107.24 180.76,106.82 181.2,106.13 181.65,105.45 182.28,104.9 182.34,103.94 182.86,103.31 183.6,102.85 184.16,102.25 184.52,101.51 184.83,100.72 185.43,100.16 185.98,99.55 186.17,98.68 186.74,98.09 187.19,97.41 187.98,96.82 187.83,97.64 188.04,98.45 188.05,99.27 188.15,100.08 187.9,100.91 188.31,101.7 187.97,102.54 188.3,103.33 188.43,104.14 187.99,104.98 188.42,105.78 188.07,106.61 188.15,107.42 188.19,108.24 188.64,109.03 188.52,109.85 188.76,110.66 188.34,111.5 188.44,112.31 188.72,113.16 189.25,112.49 189.81,111.84 190.59,111.43 191.06,110.69 191.71,110.15 192.12,109.35 192.75,108.78 193.29,108.12 194.14,107.77 194.68,107.1 195.12,106.34 195.66,105.92 196.18,106.65 196.3,107.47 196.64,108.24 196.78,109.06 196.68,109.94 197.14,110.68 197.43,111.46 197.46,112.31 197.59,113.04 198.43,112.72 198.76,111.84 199.7,111.64 199.98,110.7 200.91,110.49 201.45,109.84 201.9,109.1 202.62,108.65 203.18,108.01 203.79,107.45 204.39,106.87 205.07,106.38 205.47,105.89 205.5,106.7 205.57,107.51 206.06,108.3 205.98,109.11 205.68,109.94 206.17,110.73 205.83,111.56 206.1,112.36 205.76,113.18 206.32,113.97 205.91,114.8 206.2,115.6 206.34,116.41 206.45,117.22 206.02,118.05 206.22,118.85 206.44,119.65 206.34,120.47 206.1,121.29 206.52,122.09 206.35,122.91 206.62,123.71 206.63,124.52 206.34,125.34 206.4,126.15 206.71,126.95 206.81,127.76 206.84,128.57 206.64,129.45 207.54,129.39 208.44,129.27 209.34,129.23 210.23,129.45 211.13,129.51 212.03,129.56 212.93,129.44 213.75,129.2 214.57,129.09 215.41,129.43 216.22,129.22 217.05,129.36 217.86,128.97 218.7,129.35 219.52,129.06 220.35,129.31 221.17,129.29 221.99,129.06 223.06,128.92 222.97,129.92 223.55,130.62 223.71,131.5 224.37,132.16 224.61,132.84 225.51,133.19 226.41,132.94 227.31,132.82 228.21,132.94 229.1,133.06 230,132.74 230.9,133.02 231.8,133.01" fill="none" stroke="#ff00ff" stroke-width="1.5" stroke-linejoin="round"/>
<polyline points="169.78,122.14 170.28,121.49 170.57,120.69 171.31,120.21 171.83,119.57 172.32,118.91 172.54,118.07 173.19,117.52 173.51,116.74 174.15,116.19 174.31,115.3 175.15,114.88 175.65,114.24 175.92,113.42 176.4,112.75 176.87,112.09 177.35,111.42 177.59,110.58 178.48,110.21 178.62,109.3 179.07,108.62 179.51,107.91 180.08,107.32 180.83,106.86 181,105.95 181.53,105.33 182.3,104.89 182.58,104.08 183.01,103.37 183.77,102.92 184.27,102.27 184.75,101.61 185.33,101.03 185.58,100.18 186.41,99.79 186.85,99.1 187.07,98.23 187.98,97.72 187.82,98.54 187.86,99.34 188.02,100.13 188.15,100.93 188.04,101.74 188.23,102.53 188.02,103.35 187.92,104.15 188.35,104.93 188.16,105.75 188.11,106.55 188.47,107.34 188.15,108.16 188.13,108.96 188.47,109.75 188.5,110.55 188.31,111.36 188.53,112.16 188.64,112.95 188.38,113.77 188.78,114.67 189.21,113.89 189.77,113.25 190.4,112.69 191.04,112.12 191.85,111.73 192.38,111.06 193.02,110.5 193.58,109.86 194.2,109.27 194.49,108.36 195.27,107.93 195.62,107.39 195.85,108.16 196.44,108.82 196.57,109.62 196.69,110.42 197.05,111.15 197.19,111.94 197.66,112.64 197.63,113.44 198.28,112.96 198.73,112.24 199.39,111.78 200.31,111.61 200.86,111.02 201.54,110.57 202.06,109.93 202.74,109.49 203.39,109 204.01,108.49 204.33,107.61 205.17,107.35 205.87,106.78 205.67,107.6 205.92,108.41 205.81,109.23 205.62,110.06 205.82,110.87 206.05,111.68 205.93,112.5 206.01,113.31 205.76,114.14 206.15,114.94 206.17,115.76 206.01,116.59 206.33,117.39 206.1,118.22 205.93,119.04 206.2,119.85 206.36,120.66 206.28,121.48 206.27,122.3 206.51,123.11 206.56,123.93 206.58,124.74 206.52,125.56 206.49,126.38 206.58,127.2 206.64,128.01 206.75,128.83 206.53,129.65 206.4,130.48 206.55,131.29 206.64,132.14 207.46,132.1 208.24,131.76 209.08,131.95 209.87,131.72 210.69,131.68 211.5,131.62 212.3,131.45 213.1,131.28 213.9,131.15 214.71,131.05 215.54,131.12 216.34,130.95 217.16,130.98 217.93,130.57 218.76,130.67 219.6,130.85 220.37,130.42 221.2,130.51 222.01,130.38 222.93,130.26 222.78,131.16 223.37,131.85 223.34,132.71 223.89,133.41 224.17,134.19 223.97,135.1 224.42,135.83 224.64,136.39 225.42,136.67 226.21,136.79 226.99,137.06 227.83,136.82 228.62,136.98 229.37,137.48 230.19,137.46 231.03,137.24 231.8,137.53" fill="none" stroke="#008000" stroke-width="1.5" stroke-linejoin="round"/>
<polyline points="169.65,122.05 170.14,121.37 170.9,120.89 171.32,120.16 172,119.62 172.45,118.91 172.64,118.03 173.31,117.48 173.79,116.79 174.27,116.11 174.48,115.25 175.24,114.75 175.64,114.02 176.3,113.45 176.05,112.28 177.2,112.05 176.88,110.82 178.04,110.61 178.35,109.8 178.74,109.06 179.63,108.66 179.75,107.73 180.09,106.97 180.89,106.55 181.44,105.95 181.68,105.11 181.96,104.31 182.5,103.7 182.98,103.04 183.69,102.55 183.78,101.61 184.34,101.02 184.97,100.46 185.29,99.69 185.71,98.99 186.6,98.63 187.13,98.01 187.29,97.13 187.83,96.47 188.16,97.26 188.06,98.07 188.27,98.87 187.84,99.7 187.87,100.51 188.45,101.29 187.57,102.14 188.26,102.91 187.73,103.74 187.77,104.55 187.68,105.36 188.55,106.13 188.34,106.95 187.84,107.78 188.87,108.54 188.87,109.35 188.34,110.18 188.45,110.99 188.02,111.81 188.22,112.61 188.51,113.41 188.05,114.24 188.61,115.02 188.68,115.84 189.4,115.3 189.72,114.43 190.27,113.75 191.04,113.26 191.4,112.43 192.47,112.2 192.82,111.35 193.26,110.58 193.48,109.61 194.28,109.16 194.85,108.58 195.13,107.79 195.24,106.99 195.67,106.23 195.87,105.44 195.44,104.57 195.49,103.76 195.79,102.98 196.3,102.22 196.03,101.33 195.94,102.2 195.75,103.09 196.58,103.83 196.54,104.7 195.94,105.65 196.22,106.47 196.68,107.26 197.24,108.05 196.51,109.01 196.85,109.82 196.83,110.69 196.76,111.56 196.99,112.39 197.62,113.16 197.39,113.75 198.07,113.27 198.82,112.86 199.39,112.27 199.72,111.45 200.3,110.86 201.22,110.63 201.78,110.03 202.16,109.25 203.24,109.17 203.54,108.31 203.65,107.26 204.52,106.97 205.39,106.68 205.95,105.87 205.56,106.69 206.33,107.48 206.03,108.3 205.46,109.12 205.77,109.92 205.7,110.74 206.24,111.53 205.93,112.35 205.9,113.16 206.24,113.96 205.84,114.78 205.99,115.59 205.5,116.41 205.99,117.21 206.19,118.01 206.54,118.81 206.52,119.62 205.88,120.45 206.62,121.24 206.65,122.05 206.6,122.86 206.24,123.68 205.93,124.5 206.19,125.3 206,126.12 206.84,126.9 206.92,127.71 206.11,128.54 206.62,129.34 206.21,130.16 206.64,130.96 206.86,131.76 206.78,132.57 206.99,133.38 206.13,134.21 206.5,135.01 206.78,135.81 206.6,136.59 207.08,135.83 207.33,134.89 208.6,134.71 208.87,133.79 209.56,133.46 210.03,132.59 210.83,132.4 211.37,131.68 211.99,131.11 212.97,131.67 213.79,131.51 214.56,130.85 215.44,131.41 216.26,131.24 217.03,130.61 217.88,130.86 218.74,131.18 219.52,130.59 220.39,131.01 221.14,130.16 221.98,130.25 222.58,130.34 223.28,131.06 223.35,131.9 222.9,132.84 223.48,133.58 223.32,134.47 224.07,135.17 224.31,135.98 224.27,136.84 224.62,137.63 223.94,138.62 224.7,139.13 225.38,139.74 226.38,139.63 226.99,140.4 227.86,140.59 228.65,140.95 229.59,140.95 230.37,141.35 230.86,142.4 231.8,142.41" fill="none" stroke="#00ffff" stroke-width="1.8" stroke-linejoin="round"/>
<polyline points="169.72,122.1 170.14,121.39 170.59,120.71 171.12,120.08 171.58,119.4 171.95,118.66 172.76,118.24 173.07,117.45 173.45,116.72 174.22,116.27 174.37,115.37 174.95,114.77 175.73,114.33 175.83,113.39 176.48,112.85 177.18,112.31 177.61,111.49 177.69,110.47 178.25,109.72 178.91,109.02 179.16,108.1 179.39,107.39 180.05,108.08 179.75,108.98 180.22,109.71 180.58,110.47 180.57,111.27 181.27,110.74 182.21,110.75 182.88,110.14 183.83,110.19 184.54,109.66 185.27,109.19 186.02,108.77 186.8,108.6 187.21,109.38 186.93,110.29 187.57,111.03 187.46,111.91 187.59,112.74 187.92,113.54 187.74,114.42 188.15,115.21 188.12,116.07 188.33,116.89 188.64,117.69 188.62,118.48 189.13,117.82 189.79,117.36 190.7,117.2 191.11,116.42 191.88,116.09 192.28,115.3 193.1,115.02 193.64,114.41 194.33,113.98 194.84,113.42 195.06,112.56 195.56,111.83 195.87,111.01 196.17,110.19 196.62,109.52 197.03,110.3 197.08,111.14 196.87,112.02 197.09,112.83 197.15,113.67 197.29,114.49 197.51,115.09 198.26,114.62 198.86,113.95 199.82,113.75 200.52,113.2 201.09,112.49 201.81,111.98 202.61,111.57 203.33,111.04 203.83,110.28 204.71,109.96 205.07,109.12 205.66,108.6 206.02,109.41 206.13,110.24 205.68,111.12 205.86,111.94 205.95,112.77 206.46,113.57 206.53,114.41 206.52,115.25 206.56,116.09 206.56,116.93 206.58,117.77 206.87,118.58 206.66,119.32 207.53,119.64 208.46,119.45 209.31,119.99 210.23,119.92 211.16,120.13 211.92,119.69 212.76,119.68 213.6,119.71 214.38,119.36 215.17,119 216.07,119.41 216.88,119.24 217.65,118.79 218.44,118.5 219.34,118.9 220.14,118.61 220.94,118.02 221.87,117.92 222.75,117.61 223.58,117.77 224.45,118.1 224.72,119.03 225.51,119.61 226.41,119.17 227.31,119.57 228.21,119.37 229.1,119.61 230,119.66 230.9,119.3 231.8,119.44" fill="none" stroke="#ff0000" stroke-width="1.5" stroke-linejoin="round" stroke-dasharray="2.6 0.9"/>
<polyline points="169.58,122 170.52,121.66 170.72,120.8 171.47,120.33 171.82,119.58 172.32,118.93 172.85,118.3 173.22,117.56 173.61,116.83 173.87,116.01 174.7,115.6 175.03,114.83 175.56,114.2 176.26,113.7 176.31,112.73 177.14,112.29 177.17,111.25 178,110.64 178.51,109.86 178.65,108.87 179.26,108.15 179.38,107.39 179.78,108.14 180.02,108.92 180.38,109.67 180.69,110.44 180.55,111.22 181.35,110.91 182.08,110.44 182.89,110.17 183.63,109.73 184.57,109.73 185.34,109.37 186.02,108.77 187.04,108.56 187,109.38 187.18,110.17 187,111.02 187.52,111.74 187.69,112.53 187.45,113.39 188.07,114.1 187.94,114.94 188.22,115.71 188.05,116.56 188.36,117.32 188.36,118.14 188.53,118.73 189.37,118.46 189.97,117.9 190.54,117.31 191.3,116.94 191.95,116.44 192.28,115.56 192.98,115.12 193.64,114.63 194.21,114.03 194.69,113.54 195.19,112.76 195.49,111.91 196.16,111.21 196.37,110.31 197.01,109.46 197,110.33 197.03,111.2 197.23,112.04 197.49,112.87 197.68,113.71 197.85,114.56 197.86,115.72 198.39,115.08 198.74,114.24 199.63,114.05 200.37,113.68 200.83,112.96 201.27,112.22 202.05,111.91 202.66,111.38 203.19,110.74 203.97,110.42 204.31,109.57 205.34,109.39 205.65,108.6 205.73,109.4 205.59,110.23 205.85,111.02 206.18,111.8 206.25,112.61 206.39,113.41 206.54,114.21 206.11,115.06 206.14,115.87 206.57,116.65 206.71,117.45 206.48,118.28 206.63,119.31 207.53,119.4 208.45,118.93 209.33,119.38 210.23,119.44 211.15,119.42 211.94,119.05 212.74,118.86 213.61,119.18 214.39,118.75 215.21,118.68 216.04,118.7 216.84,118.48 217.69,118.69 218.46,118.2 219.27,117.97 220.13,118.22 221.04,118.03 221.97,117.93 222.85,117.63 223.51,117.44 224.09,118.18 224.91,118.72 225.51,119.44 226.39,119.14 227.3,119.16 228.21,119.26 229.08,118.86 230.01,119.18 230.88,118.76 231.8,118.9" fill="none" stroke="#0000ff" stroke-width="1.5" stroke-linejoin="round" stroke-dasharray="2.6 0.9" stroke-dashoffset="1.6"/>
<polyline points="169.75,122.12 170.7,121.79 170.39,120.56 170.83,119.87 171.66,119.46 171.92,118.64 172.87,118.32 172.71,117.19 173.94,117.07 174.43,116.41 174.85,115.71 175.01,114.81 175.36,114.06 176.17,113.64 176.52,112.88 176.91,112.17 177.21,111.35 177.7,110.63 178.31,109.96 178.85,109.27 179.31,108.53 178.97,107.39 179.9,106.74 179.93,107.67 179.98,108.6 180.39,109.46 180.73,110.33 180.4,110.88 181.29,110.78 182.14,110.58 183.15,110.76 183.91,110.36 184.67,109.98 185.51,109.75 186.29,109.39 186.74,108.61 186.67,109.48 187.63,110.18 187.1,111.13 187.31,111.95 187.78,112.73 187.62,113.61 187.35,114.51 188,115.26 187.96,116.13 188.47,116.9 188.56,117.74 188.11,118.68 188.33,119.05 189.07,118.64 190.06,118.51 190.52,117.77 190.89,116.93 191.93,116.86 192.35,116.08 193.13,115.71 193.64,115.03 194.35,114.58 195.03,114.04 195.15,113.22 195.16,112.35 195.53,111.62 196.56,111.16 196.51,110.27 197.18,109.43 196.49,110.45 197.28,111.26 197.58,112.14 197.24,113.12 197.67,113.98 197.54,114.92 197.69,115.87 198.09,115.05 198.97,114.8 199.26,113.87 200.18,113.66 200.86,113.18 201.13,112.22 201.99,111.95 202.38,111.13 203.27,110.89 204.23,110.68 204.58,109.83 205.31,109.36 205.46,108.61 206.24,109.38 205.35,110.3 205.72,111.1 206.48,111.87 205.75,112.77 206.31,113.55 206.63,114.36 205.84,115.27 206.35,116.06 206.19,116.91 206.96,117.67 206.64,118.84 207.54,118.05 208.44,118.25 209.34,118.4 210.23,118 211.14,118.64 211.92,118.14 212.75,118.15 213.61,118.52 214.39,118.13 215.26,118.55 216.05,118.18 216.89,118.37 217.68,117.95 218.53,118.25 219.34,118.12 220.03,117.28 221.08,117.67 221.87,117.01 222.89,117.24 223.54,116.82 223.75,117.61 224.8,117.99 224.92,118.84 224.92,119.74 225.48,120.84 226.39,120.64 227.34,119.95 228.2,120.62 229.13,120.11 230,120.66 230.88,120.99 231.8,120.71" fill="none" stroke="#00ff00" stroke-width="1.7" stroke-linejoin="round" stroke-dasharray="3.6 0.6"/>
</g>
<rect x="169.8" y="90.5" width="62" height="53" fill="none" stroke="#8a8a8a" stroke-width="0.8"/>
<line x1="169.8" y1="143.5" x2="169.8" y2="142.3" stroke="#8a8a8a" stroke-width="0.6"/>
<line x1="169.8" y1="90.5" x2="169.8" y2="91.7" stroke="#8a8a8a" stroke-width="0.6"/>
<text x="169.8" y="149.8" font-size="5.2" text-anchor="middle" fill="#4a4a4a">0</text>
<line x1="184.56" y1="143.5" x2="184.56" y2="142.3" stroke="#8a8a8a" stroke-width="0.6"/>
<line x1="184.56" y1="90.5" x2="184.56" y2="91.7" stroke="#8a8a8a" stroke-width="0.6"/>
<text x="184.56" y="149.8" font-size="5.2" text-anchor="middle" fill="#4a4a4a">100</text>
<line x1="199.32" y1="143.5" x2="199.32" y2="142.3" stroke="#8a8a8a" stroke-width="0.6"/>
<line x1="199.32" y1="90.5" x2="199.32" y2="91.7" stroke="#8a8a8a" stroke-width="0.6"/>
<text x="199.32" y="149.8" font-size="5.2" text-anchor="middle" fill="#4a4a4a">200</text>
<line x1="214.09" y1="143.5" x2="214.09" y2="142.3" stroke="#8a8a8a" stroke-width="0.6"/>
<line x1="214.09" y1="90.5" x2="214.09" y2="91.7" stroke="#8a8a8a" stroke-width="0.6"/>
<text x="214.09" y="149.8" font-size="5.2" text-anchor="middle" fill="#4a4a4a">300</text>
<line x1="228.85" y1="143.5" x2="228.85" y2="142.3" stroke="#8a8a8a" stroke-width="0.6"/>
<line x1="228.85" y1="90.5" x2="228.85" y2="91.7" stroke="#8a8a8a" stroke-width="0.6"/>
<text x="228.85" y="149.8" font-size="5.2" text-anchor="middle" fill="#4a4a4a">400</text>
<text x="200.8" y="156.1" font-size="5.3" text-anchor="middle" fill="#4a4a4a" letter-spacing="-0.3">Time(s)</text>
<line x1="169.8" y1="90.5" x2="171" y2="90.5" stroke="#8a8a8a" stroke-width="0.6"/>
<line x1="231.8" y1="90.5" x2="230.6" y2="90.5" stroke="#8a8a8a" stroke-width="0.6"/>
<text x="168.2" y="92.3" font-size="5.2" text-anchor="end" fill="#4a4a4a">0.6</text>
<line x1="169.8" y1="101.1" x2="171" y2="101.1" stroke="#8a8a8a" stroke-width="0.6"/>
<line x1="231.8" y1="101.1" x2="230.6" y2="101.1" stroke="#8a8a8a" stroke-width="0.6"/>
<text x="168.2" y="102.9" font-size="5.2" text-anchor="end" fill="#4a4a4a">0.4</text>
<line x1="169.8" y1="111.7" x2="171" y2="111.7" stroke="#8a8a8a" stroke-width="0.6"/>
<line x1="231.8" y1="111.7" x2="230.6" y2="111.7" stroke="#8a8a8a" stroke-width="0.6"/>
<text x="168.2" y="113.5" font-size="5.2" text-anchor="end" fill="#4a4a4a">0.2</text>
<line x1="169.8" y1="122.3" x2="171" y2="122.3" stroke="#8a8a8a" stroke-width="0.6"/>
<line x1="231.8" y1="122.3" x2="230.6" y2="122.3" stroke="#8a8a8a" stroke-width="0.6"/>
<text x="168.2" y="124.1" font-size="5.2" text-anchor="end" fill="#4a4a4a">0</text>
<line x1="169.8" y1="132.9" x2="171" y2="132.9" stroke="#8a8a8a" stroke-width="0.6"/>
<line x1="231.8" y1="132.9" x2="230.6" y2="132.9" stroke="#8a8a8a" stroke-width="0.6"/>
<text x="168.2" y="134.7" font-size="5.2" text-anchor="end" fill="#4a4a4a">-0.2</text>
<line x1="169.8" y1="143.5" x2="171" y2="143.5" stroke="#8a8a8a" stroke-width="0.6"/>
<line x1="231.8" y1="143.5" x2="230.6" y2="143.5" stroke="#8a8a8a" stroke-width="0.6"/>
<text x="168.2" y="145.3" font-size="5.2" text-anchor="end" fill="#4a4a4a">-0.4</text>
<text x="153.6" y="117" font-size="5.3" text-anchor="middle" transform="rotate(-90 153.6 117)" fill="#4a4a4a" dominant-baseline="central" letter-spacing="-0.3">EVE(m/s)</text>
<clipPath id="c162"><rect x="254.5" y="90.5" width="62.7" height="53"/></clipPath>
<g clip-path="url(#c162)">
<polyline points="254.66,126.17 254.9,127.11 255.58,127.65 256.32,128.12 256.92,128.73 257.39,129.46 257.81,130.24 258.48,130.78 259.25,131.24 259.86,131.84 260.4,132.5 260.69,133.39 261.5,133.78 261.99,134.5 262.71,134.96 263.19,135.69 263.92,136.13 264.63,136.59 264.98,137.46 265.73,137.89 266.3,138.51 266.88,139.13 267.45,139.75 268.42,139.93 268.92,140.63 269.61,141.12 270.11,141.83 270.59,142.54 271.51,142.99 271.28,142.09 271.54,141.29 272.07,140.55 272.17,139.72 272.2,138.87 272.43,138.07 272.44,137.22 272.99,136.49 272.93,135.62 273.08,135.01 273.93,135.21 274.84,135.28 275.58,135.75 276.4,136.03 277.04,136.71 277.9,136.9 278.81,136.96 279.37,137.42 279.97,136.84 280.53,136.23 281.09,135.62 281.53,134.91 282.03,134.25 282.4,133.48 283.11,133.05 283.94,133.33 284.78,133.58 285.44,134.19 286.07,134.85 287.07,134.8 287.81,135.25 288.44,135.91 289.31,136.11 289.89,136.62 290.05,135.8 289.95,134.96 290.15,134.14 290.15,133.31 290.42,132.49 290.47,131.66 289.97,130.81 290.29,129.99 290.44,129.17 290.52,128.34 290.5,127.51 290.45,126.68 290.48,125.85 290.37,125.02 290.35,124.19 290.66,123.37 290.74,122.54 290.8,121.71 290.69,120.88 290.51,120.04 290.8,119.22 290.81,118.39 290.72,117.56 290.79,116.79 291.34,116.12 292.07,115.66 292.67,115.06 293.2,114.37 293.99,113.93 294.81,113.76 295.7,113.95 296.47,113.51 297.29,113.29 298.1,113.05 298.92,112.89 299.75,112.78 300.55,112.5 301.36,112.27 302.28,112.57 303.06,112.18 303.97,112.03 304.88,111.94 305.77,111.65 306.66,111.42 307.56,111.22 308.4,111.27 308.66,110.49 309.14,109.79 309.31,108.99 309.77,108.28 309.71,107.4 310.27,106.72 310.33,105.92 310.99,105.36 311.78,105.11 312.63,105.01 313.47,104.92 314.11,104.29 314.96,104.21 315.66,103.73 316.51,103.65 317.2,103.16" fill="none" stroke="#ff00ff" stroke-width="1.5" stroke-linejoin="round"/>
<polyline points="254.67,126.15 255.08,126.9 255.49,127.64 256.31,127.99 256.89,128.57 257.56,129.07 258.08,129.71 258.61,130.34 259.01,131.1 259.78,131.5 260.28,132.16 260.93,132.67 261.35,133.41 261.9,134.08 262.63,134.54 263.44,134.91 263.89,135.69 264.46,136.34 265.23,136.75 266.07,137.08 266.45,137.94 267.08,138.53 267.91,138.86 268.64,139.33 269.26,139.91 269.79,140.61 270.63,141.24 270.9,140.41 271.43,139.7 271.47,138.75 271.91,138 272.51,137.33 272.85,136.53 273.17,135.67 273.94,135.93 274.76,135.86 275.58,135.82 276.34,136.13 277.16,136.04 277.91,136.47 278.73,136.42 279.51,136.62 280.15,136 280.62,135.21 281.3,134.62 281.73,133.79 282.7,133.47 283.12,132.68 283.82,133.14 284.74,132.9 285.41,133.43 286.16,133.73 286.99,133.76 287.79,133.88 288.54,134.15 289.31,134.39 290.16,134.82 289.82,134 290.24,133.2 290.05,132.38 290.14,131.57 290.19,130.76 290.2,129.95 290.28,129.14 290.27,128.33 290.15,127.52 290.4,126.71 290.16,125.89 290.43,125.09 290.49,124.28 290.52,123.47 290.29,122.65 290.57,121.85 290.71,121.04 290.44,120.22 290.37,119.41 290.53,118.6 290.79,117.8 290.37,116.97 290.32,116.16 290.6,115.36 290.73,114.55 290.82,113.74 290.62,112.92 290.99,112.12 290.78,111.16 291.52,111.66 292.43,111.54 293.26,111.73 293.97,112.01 294.78,111.8 295.65,111.88 296.48,111.74 297.27,111.38 298.17,111.62 298.93,111.15 299.73,110.87 300.56,110.72 301.44,110.85 302.29,110.79 303.03,110.21 303.93,109.99 304.9,110.25 305.76,109.81 306.73,110.06 307.6,109.64 308.58,109.51 308.57,108.65 308.97,107.86 308.93,107 309.01,106.16 309.48,105.39 309.2,104.48 309.69,103.71 309.47,102.82 309.94,102.05 309.96,101.19 310.36,100.41 310.23,99.32 311.09,99.28 311.83,98.9 312.69,98.85 313.46,98.57 314.17,98.1 314.85,97.59 315.62,97.31 316.39,97.01 317.2,96.83" fill="none" stroke="#008000" stroke-width="1.5" stroke-linejoin="round"/>
<polyline points="254.56,126.26 255.3,126.64 255.9,127.17 256,128.21 256.68,128.67 257.54,128.93 257.53,130.09 258.76,129.97 259.03,130.84 259.95,131.04 259.93,132.21 260.5,132.77 261.59,132.81 261.78,133.83 262.32,134.49 263.38,134.63 263.95,135.28 264.42,136.01 264.68,136.96 265.9,136.94 266.06,137.99 266.74,138.52 267.47,139 267.96,139.71 268.26,140.52 269.46,140.76 269.35,141.97 270.4,142.31 270.54,143.34 271.78,143.97 271.18,142.96 272.18,142.36 272.54,141.6 271.92,140.59 271.8,139.7 272.11,138.92 273.32,138.37 272.39,137.29 273.35,137.09 273.76,135.93 274.78,136.29 275.25,135.27 276.04,135.05 277.02,135.32 278.16,134.63 278.18,135.5 277.83,136.51 278.36,137.18 278.47,138 278.67,138.8 278.96,139.18 279.43,138.46 280.3,137.85 280.41,137.03 279.88,136.02 280.65,135.38 280.55,134.5 281.01,133.78 280.89,132.79 281.16,132.02 282.58,131.83 282.21,130.74 283.18,130.32 283.13,128.93 284.04,129.38 284.94,128.95 285.85,129.3 286.76,129 287.74,129.6 288.29,128.69 289.34,129.06 290.02,128.49 289.58,127.67 289.89,126.87 290.09,126.07 290.63,125.29 289.97,124.46 289.83,123.65 290.77,122.88 290.7,122.07 290.54,121.26 290.01,120.44 289.92,119.63 290.06,118.83 289.85,118.02 289.84,117.21 290.43,116.43 290.34,115.62 290.54,114.82 290.34,114.01 289.94,113.19 290.78,112.42 290.77,111.61 290.66,110.8 290.69,110 290.89,109.2 291.27,108.41 291.17,107.6 290.93,106.97 291.26,106.09 291.8,105.42 292.65,104.95 292.18,105.89 293.05,106.52 293.23,107.31 293.39,108.11 293.88,108.83 293.05,109.85 294.41,110.38 294.06,111.42 294.96,111.4 295.32,110.31 296.24,110.34 296.84,109.72 297.53,109.2 298.29,108.89 299.04,108.54 300.09,109.11 300.84,108.79 301.67,108.67 302.12,107.43 303.02,107.91 304.01,107.66 304.84,108.22 305.77,108.29 306.73,108.19 308.16,108.68 307.13,107.66 308.15,106.95 308.41,106.13 308.13,105.23 308.35,104.41 308.96,103.64 308.18,102.66 308.79,101.89 309.05,101.08 308.75,100.17 309.27,99.39 309.02,98.49 309.31,97.68 309.48,96.94 310.21,96.56 310.65,95.75 311.53,95.6 312.16,95.06 312.54,94.21 313.49,93.99 313.84,93.11 314.99,93.13 315.28,92.17 316.11,91.83 316.58,91.09 317.2,90.5" fill="none" stroke="#00ffff" stroke-width="1.8" stroke-linejoin="round"/>
<polyline points="254.51,126.3 255.22,126.75 255.85,127.28 256.09,128.23 256.87,128.6 257.47,129.17 258.06,129.74 258.54,130.45 259.46,130.73 260.17,131.26 260.57,132.15 261.4,132.54 262.01,133.19 262.61,133.85 263.26,134.45 264.17,135.05 264.81,134.3 265.67,134.29 266.54,134.35 267.33,134.11 268,133.45 268.8,133.24 269.61,133.08 270.3,132.79 271.07,132.48 271.92,132.27 272.49,131.66 273.19,131.19 273.77,131.8 273.95,132.62 273.96,133.52 274.5,134.15 274.99,134.79 275.89,135.09 276.73,135.58 277.64,135.85 278.67,135.75 279.6,136.33 279.95,135.49 280.55,134.83 280.92,133.99 281.51,133.32 282.01,132.59 282.55,131.88 283.42,131.06 283.67,131.83 283.82,132.67 284.48,133.24 284.77,134 285.07,134.88 285.2,133.98 285.62,133.21 285.96,132.42 286.69,131.82 286.64,130.82 287.35,130.21 287.47,129.53 288.36,130 288.79,130.81 289.14,131.68 289.77,132.33 290.3,132.99 290.27,132.04 290.71,131.19 290.84,130.28 291.24,129.42 291.27,128.35 292.07,128.31 292.89,128.36 293.69,128.35 294.44,127.94 295.24,127.85 296.05,127.86 296.88,127.97 297.5,127.42 298.73,127.1 299.37,126.25 300.26,126.53 300.94,127.16 301.83,127.43 302.69,127.75 303.24,128.61 304.14,128.86 304.88,129.41 305.78,129.48 306.66,129.84 307.58,129.83 308.22,129.62 308.92,128.98 309.2,128.15 309.57,127.35 310.16,126.66 310.34,125.72 311.05,126.12 311.65,126.73 312.51,126.82 313.22,127.21 313.93,127.59 314.67,128.14 315.52,128.41 316.32,128.81 317.2,129.03" fill="none" stroke="#ff0000" stroke-width="1.5" stroke-linejoin="round" stroke-dasharray="2.6 0.9"/>
<polyline points="254.54,126.27 255.3,126.66 255.61,127.54 256.26,128.05 256.76,128.72 257.35,129.29 258.25,129.54 258.79,130.15 259.53,130.65 259.89,131.59 260.87,131.79 261.56,132.35 261.96,133.25 262.72,133.72 263.61,134.03 264.14,134.93 264.94,134.73 265.69,134.35 266.4,133.86 267.31,134.03 268.05,133.63 268.88,133.51 269.74,133.55 270.56,133.18 271.26,132.76 271.68,131.91 272.42,131.56 273.15,131.21 273.82,131.78 273.6,132.79 274.39,133.3 274.75,134.02 275.01,134.7 275.93,134.95 276.72,135.62 277.68,135.72 278.6,135.98 279.46,136.23 279.78,135.37 280.44,134.74 281.26,134.23 281.74,133.49 282.29,132.78 282.48,131.83 283.31,131.11 283.76,131.79 283.83,132.66 284.29,133.33 284.6,134.08 284.94,134.81 285.38,134.07 285.64,133.23 286.29,132.58 286.32,131.63 287.13,131.07 287.31,130.18 287.9,129.21 288.3,130.04 288.73,130.85 289.34,131.53 289.8,132.31 290.27,132.99 290.42,132.07 290.93,131.24 290.79,130.27 291.24,129.42 291.31,128.68 292.09,128.43 292.87,128.23 293.71,128.43 294.45,128 295.29,128.17 296,127.52 296.83,127.65 297.69,127.65 298.03,126.82 299,126.67 299.59,125.72 300.09,126.44 300.91,126.63 301.33,127.48 302.14,127.71 302.73,128.27 303.52,128.53 304.14,129.06 304.86,129.5 305.8,129.39 306.72,129.47 307.56,130.02 308.28,129.85 309.06,129.28 308.93,128.35 309.16,127.57 309.46,126.82 310.19,126.23 310.19,125.68 311.24,125.77 312.08,126.32 313.1,126.49 313.97,127.31 314.77,127.07 315.54,126.63 316.35,126.48 317.2,126.68" fill="none" stroke="#0000ff" stroke-width="1.5" stroke-linejoin="round" stroke-dasharray="2.6 0.9" stroke-dashoffset="1.6"/>
<polyline points="254.34,126.49 255.48,126.48 255.41,127.75 256.46,127.84 257.11,128.36 257.41,129.23 258.22,129.57 258.62,130.35 259.62,130.54 259.71,131.81 260.84,131.83 261.12,132.87 262.34,132.8 262.51,133.97 263.05,134.7 264.07,134.69 264.74,134.05 265.65,134.23 266.53,134.3 267.18,133.59 268.08,133.74 268.73,132.99 269.64,133.19 270.6,133.24 271.08,132.49 271.93,132.28 272.23,131.26 272.81,131.38 273.94,131.72 273.43,132.88 273.72,133.64 274.14,134.33 274.97,134.85 275.96,134.87 276.85,135.22 277.6,135.97 278.6,135.97 279.93,136.57 279.62,135.25 280.53,134.81 281.42,134.35 281.67,133.44 282.14,132.68 282.21,131.63 283.52,131 283.74,131.8 283.43,132.86 283.85,133.56 284.88,133.95 285.4,135.05 284.83,133.79 285.83,133.32 286.61,132.74 286.33,131.63 287.37,131.18 287.44,130.25 288.1,129.06 288.37,129.99 288.8,130.8 289.54,131.38 289.6,132.46 290,132.93 290.9,132.17 290.5,131.15 290.41,130.19 291.18,129.4 291.22,128 292.09,128.44 292.92,128.61 293.68,128.26 294.45,127.99 295.17,127.36 296.05,127.82 296.77,127.21 297.75,127.71 297.92,126.66 298.9,126.44 299.54,125.62 300.2,126.1 300.69,126.84 301.71,126.79 302.38,127.25 302.54,128.48 303.63,128.32 303.97,129.28 304.77,129.83 305.79,129.59 306.79,129.43 307.71,129.59 308.94,130.44 308.32,129.37 309.02,128.74 309.32,127.98 309.1,127.05 309.76,126.41 309.67,125.52 310.29,124.91 311.04,125.24 311.84,125.45 312.65,125.63 313.27,126.21 313.67,126.44 314.15,125.77 314.79,125.26 315.9,125.17 316.11,124.27 317.01,123.98 317.2,123.06" fill="none" stroke="#00ff00" stroke-width="1.7" stroke-linejoin="round" stroke-dasharray="3.6 0.6"/>
</g>
<rect x="254.5" y="90.5" width="62.7" height="53" fill="none" stroke="#8a8a8a" stroke-width="0.8"/>
<line x1="254.5" y1="143.5" x2="254.5" y2="142.3" stroke="#8a8a8a" stroke-width="0.6"/>
<line x1="254.5" y1="90.5" x2="254.5" y2="91.7" stroke="#8a8a8a" stroke-width="0.6"/>
<text x="254.5" y="149.8" font-size="5.2" text-anchor="middle" fill="#4a4a4a">0</text>
<line x1="269.43" y1="143.5" x2="269.43" y2="142.3" stroke="#8a8a8a" stroke-width="0.6"/>
<line x1="269.43" y1="90.5" x2="269.43" y2="91.7" stroke="#8a8a8a" stroke-width="0.6"/>
<text x="269.43" y="149.8" font-size="5.2" text-anchor="middle" fill="#4a4a4a">100</text>
<line x1="284.36" y1="143.5" x2="284.36" y2="142.3" stroke="#8a8a8a" stroke-width="0.6"/>
<line x1="284.36" y1="90.5" x2="284.36" y2="91.7" stroke="#8a8a8a" stroke-width="0.6"/>
<text x="284.36" y="149.8" font-size="5.2" text-anchor="middle" fill="#4a4a4a">200</text>
<line x1="299.29" y1="143.5" x2="299.29" y2="142.3" stroke="#8a8a8a" stroke-width="0.6"/>
<line x1="299.29" y1="90.5" x2="299.29" y2="91.7" stroke="#8a8a8a" stroke-width="0.6"/>
<text x="299.29" y="149.8" font-size="5.2" text-anchor="middle" fill="#4a4a4a">300</text>
<line x1="314.21" y1="143.5" x2="314.21" y2="142.3" stroke="#8a8a8a" stroke-width="0.6"/>
<line x1="314.21" y1="90.5" x2="314.21" y2="91.7" stroke="#8a8a8a" stroke-width="0.6"/>
<text x="314.21" y="149.8" font-size="5.2" text-anchor="middle" fill="#4a4a4a">400</text>
<text x="285.85" y="156.1" font-size="5.3" text-anchor="middle" fill="#4a4a4a" letter-spacing="-0.3">Time(s)</text>
<line x1="254.5" y1="91.71" x2="255.7" y2="91.71" stroke="#8a8a8a" stroke-width="0.6"/>
<line x1="317.2" y1="91.71" x2="316" y2="91.71" stroke="#8a8a8a" stroke-width="0.6"/>
<text x="252.9" y="93.51" font-size="5.2" text-anchor="end" fill="#4a4a4a">1</text>
<line x1="254.5" y1="108.97" x2="255.7" y2="108.97" stroke="#8a8a8a" stroke-width="0.6"/>
<line x1="317.2" y1="108.97" x2="316" y2="108.97" stroke="#8a8a8a" stroke-width="0.6"/>
<text x="252.9" y="110.77" font-size="5.2" text-anchor="end" fill="#4a4a4a">0.5</text>
<line x1="254.5" y1="126.24" x2="255.7" y2="126.24" stroke="#8a8a8a" stroke-width="0.6"/>
<line x1="317.2" y1="126.24" x2="316" y2="126.24" stroke="#8a8a8a" stroke-width="0.6"/>
<text x="252.9" y="128.04" font-size="5.2" text-anchor="end" fill="#4a4a4a">0</text>
<line x1="254.5" y1="143.5" x2="255.7" y2="143.5" stroke="#8a8a8a" stroke-width="0.6"/>
<line x1="317.2" y1="143.5" x2="316" y2="143.5" stroke="#8a8a8a" stroke-width="0.6"/>
<text x="252.9" y="145.3" font-size="5.2" text-anchor="end" fill="#4a4a4a">-0.5</text>
<text x="237.7" y="117" font-size="5.3" text-anchor="middle" transform="rotate(-90 237.7 117)" fill="#4a4a4a" dominant-baseline="central" letter-spacing="-0.3">NVE(m/s)</text>
<clipPath id="c201"><rect x="336.6" y="90.5" width="62.4" height="53"/></clipPath>
<g clip-path="url(#c201)">
<polyline points="336.34,121.5 337.06,120.82 337.04,119.94 337.42,119.17 337.53,118.33 337.82,117.54 337.79,116.66 338.29,115.92 338.2,115.02 338.48,114.22 338.58,113.38 339,112.62 339.29,111.82 339.39,110.98 339.93,110.25 339.72,109.32 340.21,108.58 340.25,107.72 340.66,106.97 341.17,106.28 341.54,105.51 341.65,104.59 342.15,103.89 342.74,103.24 343.33,102.59 343.3,101.59 343.99,101 344.44,100.27 344.91,99.56 345.26,98.69 345.3,99.56 345.76,100.26 345.8,101.12 346.55,101.73 346.35,102.67 346.91,103.35 347.19,104.12 347.63,104.83 347.83,105.64 347.86,106.5 348.17,107.26 348.72,107.94 348.87,108.7 349.69,109.06 350.43,109.55 351.18,110.01 351.91,110.52 352.49,111.28 353.12,111.56 353.37,112.39 353.68,113.2 353.81,114.05 353.8,114.92 353.87,115.77 354.09,116.6 354.29,117.43 354.67,118.24 354.58,119.12 354.6,119.98 354.77,120.82 355.29,121.6 355.26,122.59 355.94,122.1 356.66,121.7 357.59,121.81 358.29,121.35 359.06,121.09 359.81,120.46 360.65,121.02 361.55,121.26 362.47,121.42 363.39,121.52 364.35,121.75 365.17,121.64 365.98,121.44 366.79,121.26 367.64,121.38 368.46,121.27 369.28,121.22 370.07,120.82 370.93,121.09 371.72,120.76 372.79,120.67 372.37,119.81 372.88,119.01 372.83,118.17 372.57,117.33 372.94,116.51 372.65,115.66 372.67,114.83 372.85,114.01 372.77,113.17 372.95,112.35 373.22,111.53 373.14,110.69 373.2,109.86 373.07,109.02 373.32,108.2 373.37,107.37 373.35,106.54 373.53,105.71 373.51,104.88 373.32,104.04 373.19,103.2 373.43,102.46 374.18,102.82 375.05,102.82 375.79,103.21 376.53,103.6 377.31,103.84 378.23,103.69 378.93,104.2 379.82,104.09 380.65,104.28 381.43,104.8 382.31,104.73 383.13,104.97 383.99,105.03 384.84,105.1 385.69,105.18 386.52,105.39 387.32,105.8 388.18,105.82 389.05,105.78 389.72,105.87 390.86,105.02 391.41,105.67 392.18,106.01 392.79,106.57 393.43,107.09 394.33,107.23 394.84,107.95 395.72,108.11 396.16,108.92 397.04,109.09 397.7,109.59 398.18,110.36 399,110.6" fill="none" stroke="#ff00ff" stroke-width="1.5" stroke-linejoin="round"/>
<polyline points="336.53,121.55 336.66,120.73 337.23,120.03 337.29,119.19 337.65,118.43 337.6,117.56 337.87,116.78 338.32,116.04 338.29,115.18 338.76,114.45 338.55,113.54 339.1,112.83 338.96,111.94 339.36,111.19 339.29,110.32 339.6,109.55 340.22,108.86 340.17,107.99 340.57,107.24 340.49,106.34 340.92,105.65 341.18,104.87 341.78,104.27 342.31,103.63 342.52,102.82 342.83,102.07 343.48,101.5 343.85,100.78 344.12,100 344.21,99.13 344.86,98.56 345.21,97.81 345.07,98.67 345.54,99.43 345.52,100.28 345.68,101.09 345.96,101.89 346.03,102.72 346.09,103.55 346.11,104.39 346.47,105.17 346.69,105.97 346.5,106.85 347.14,107.58 346.87,108.47 347.09,109.27 347.31,110.08 347.51,110.89 347.49,111.73 347.56,112.56 347.84,113.45 348.52,113.92 349.42,114.05 350.02,114.64 350.76,115.01 351.19,115.84 351.9,116.27 352.81,116.38 353.34,117.02 353.67,117.8 354.27,118.47 354.42,119.33 354.56,120.19 354.94,120.95 355.45,121.65 355.53,122.54 356.1,123.22 356.3,124.06 356.68,124.82 356.73,125.72 357.22,126.43 357.47,127.25 358.02,128.03 358.48,127.34 359.29,126.98 359.77,126.3 360.34,125.71 360.76,124.97 361.3,124.35 362.04,123.92 362.72,123.44 363.29,122.85 363.69,122.09 364.29,121.38 365.16,121.39 366.02,121.41 366.76,120.84 367.65,120.97 368.4,120.48 369.24,120.37 370.03,120.05 370.88,120 371.71,119.86 372.8,119.75 372.83,118.94 372.44,118.12 372.54,117.31 372.93,116.52 372.55,115.69 372.66,114.89 372.76,114.08 372.61,113.27 372.73,112.46 372.84,111.66 372.87,110.85 373.22,110.05 372.87,109.23 372.87,108.42 373.29,107.63 373.08,106.81 373.33,106.01 373.25,105.19 373.36,104.39 373.14,103.57 373.09,102.76 373.46,101.96 373.33,101.15 373.42,100.34 373.51,99.54 373.39,98.85 374.29,99.01 375.05,99.44 375.7,100.1 376.58,100.31 377.42,100.58 378.12,101.14 378.98,101.34 379.65,101.93 380.59,101.89 381.21,102.61 382.04,102.8 382.87,103.02 383.53,103.65 384.45,103.63 385.24,103.95 386.06,104.18 386.74,104.75 387.48,105.18 388.28,105.47 389.11,105.66 390.04,106.06 389.82,105.09 390.08,104.19 390.41,103.31 390.74,102.42 390.71,101.48 390.72,100.64 391.33,101.16 392.09,101.49 392.54,102.22 393.23,102.63 394,102.94 394.62,103.46 395.11,104.13 395.89,104.42 396.58,104.84 396.98,105.63 397.73,105.98 398.36,106.47 399,106.95" fill="none" stroke="#008000" stroke-width="1.5" stroke-linejoin="round"/>
<polyline points="336.82,122.54 337.31,121.84 336.53,120.81 337,120.1 336.85,119.23 337.49,118.57 337.81,117.82 338.45,117.16 338.42,116.32 338.51,115.52 338.48,114.68 338.9,113.96 338.72,113.09 339.65,112.5 339.78,111.7 340.04,110.94 339.37,109.94 340.23,109.34 340.54,108.59 340.41,107.73 341.08,107.18 341.47,106.42 341.66,105.57 342.13,104.85 342.31,103.99 342.96,103.36 342.46,102.16 343.52,101.74 343.9,100.98 344.17,100.16 344.15,99.2 344.28,98.32 345.04,97.83 344.87,98.67 345.7,99.37 345.89,100.16 345.99,100.96 346.28,101.73 345.63,102.64 345.35,103.5 345.73,104.39 346.62,104.86 346.58,105.79 347.69,106.15 347.15,107.33 348.12,107.76 348.86,108.3 348.49,109.4 349.43,109.84 349.64,110.65 349.18,111.36 349.88,110.73 350.23,109.99 350.76,109.3 349.99,108.26 351.21,107.76 350.5,106.74 350.86,106.01 351.59,105.38 351.43,104.5 351.63,103.73 352.14,103.04 351.9,102.14 352.09,101.5 352.92,102.28 352.16,103.2 352.26,104.04 352.69,104.86 353.42,105.66 352.5,106.58 353.55,107.36 352.99,108.25 353.16,109.09 353.7,109.91 353.02,110.81 352.96,111.67 353.21,112.5 353.5,113.29 353.74,114.08 354.01,114.86 354.8,115.38 354.41,116.49 354.63,117.29 355.22,117.91 355.4,118.73 356.51,119.09 356.1,120.21 356.5,120.48 357.27,119.86 357.1,118.94 357.76,118.29 358.31,117.6 358.6,116.83 358.54,115.94 358.98,115 359.77,115.29 360.3,115.98 361.07,116.3 361.19,116.97 361.97,116.2 361.74,115.35 361.7,114.51 361.44,113.66 362.17,112.89 361.56,112.01 361.71,111.19 362.16,110.39 362.41,109.58 362.83,108.78 362.59,107.93 362.92,107.12 362.94,106.29 362.74,105.45 362.8,104.62 361.99,103.73 362.24,102.92 362.05,102.07 363.23,101.33 363.11,100.49 362.7,99.65 363.25,100.41 363.19,101.22 363.5,102 362.94,102.85 362.53,103.68 363.49,104.42 363.9,105.19 363.79,106 363.61,106.82 362.96,107.67 363.14,108.46 363.66,109.23 364.19,109.99 364.24,110.79 364.24,111.6 363.48,112.46 363.95,113.23 363.32,114.08 363.49,114.87 363.7,115.66 364.18,116.43 363.79,117.26 364.76,117.99 364.7,118.46 364.88,119.5 365.54,120.05 366.43,120.38 367,121.03 367.82,121.43 368.49,122.65 368.51,121.79 369.06,121.1 369.37,120.33 368.95,119.32 369.58,118.66 369.4,117.73 370.18,117.18 370.6,116.42 370.16,115.22 370.4,114.36 371.03,113.7 371.86,113.13 372.01,112.23 371.9,111.49 373.02,110.73 372.99,109.93 372.61,109.1 372.09,108.27 373.24,107.52 372.81,106.69 372.23,105.86 372.6,105.07 373.04,104.29 373.42,103.5 372.92,102.67 373.17,101.88 372.63,101.05 372.72,100.24 373.63,99.48 372.97,98.64 372.64,97.82 373.32,97.05 372.74,96.22 372.88,95.42 373.25,94.63 373.46,93.83 373.56,93.03 373.69,92.23 373.53,91.39 374.21,92.09 373.57,93.11 374.64,93.71 374.3,94.65 374.6,95.44 374.45,96.34 374.6,97.17 375.41,97.83 375.42,98.86 376.07,98.29 376.47,97.48 377.57,96.82 376.71,97.83 377.26,98.61 378.1,99.33 378.01,100.21 377.17,101.22 378.3,101.9 378.23,102.78 377.85,103.71 377.95,104.56 378.33,105.36 378.33,106.23 379.39,106.92 378.45,107.62 379.86,107.41 380.02,106.58 379.48,105.4 379.86,104.67 380.45,104.05 381.63,103.73 381.15,102.58 382.05,102.12 382.72,101.54 382.46,100.69 382.82,101.5 384,101.38 384.71,101.81 385.43,102.21 385.4,103.47 386.57,103.36 386.42,104.75 387.26,105.02 388.33,105.04 388.39,106.19 389.56,106.08 389.89,106.95 389.41,106.1 390.36,105.35 390.54,104.54 390.63,103.73 389.47,102.85 390.64,102.1 390.31,101.27 390.71,100.48 390.34,99.64 390.54,98.84 390.56,98.02 390.88,97.23 389.98,96.35 390,95.54 390.7,94.77 390.41,93.93 390.6,93.13 391.39,92.07 390.83,93.25 392.05,93.68 391.42,94.9 391.78,95.69 392.55,96.3 393.3,96.93 393,98 393.77,98.43 394.27,99.22 395.22,99.47 395.18,100.92 396.22,101.06 397.07,101.43 397.97,101.74 398.12,102.96 399,103.29" fill="none" stroke="#00ffff" stroke-width="1.8" stroke-linejoin="round"/>
<polyline points="336.82,121.63 337.02,120.85 336.75,119.95 337.12,119.22 337.28,118.43 337.77,117.73 337.58,116.85 338.07,116.15 338.51,115.43 338.58,114.62 338.29,113.72 338.54,112.95 338.76,112.18 339.33,111.5 339.47,110.71 339.62,109.92 339.78,109.13 339.95,108.35 340.28,107.61 340.51,106.84 340.86,106.16 341.13,105.34 341.55,104.6 342,103.87 342.33,103.09 342.64,102.29 342.62,101.33 343.38,100.76 343.86,100.05 343.99,99.16 344.64,98.53 344.61,97.56 344.89,96.94 345.37,97.8 345.35,98.75 345.79,99.61 345.91,100.53 346.03,101.45 346.2,102.36 346.49,103.18 346.41,104.06 346.2,104.96 346.55,105.77 346.51,106.64 346.76,107.47 346.85,108.32 346.89,109.18 347.19,110 347.64,110.79 347.79,111.63 347.83,112.49 348.18,113.17 348.52,113.93 348.61,114.86 349.05,115.55 349.83,116.02 350.04,116.87 350.5,117.56 350.89,118.28 351.39,118.93 351.97,119.57 352.64,120.16 352.65,121.13 353.37,121.69 353.62,122.52 354.19,123.17 354.52,123.96 354.7,124.83 355.59,125.29 355.8,126.15 356.16,126.92 356.65,127.61 356.85,128.48 357.57,129.03 358.21,129.88 358.33,129.05 358.76,128.32 358.47,127.36 358.81,126.6 359.12,125.83 359.77,125.18 359.51,124.12 360.19,123.48 360.98,122.93 361.67,122.31 361.79,121.26 362.54,120.63 363.03,121.35 363.64,121.96 364.19,122.56 364.55,123.29 365.21,123.87 365.57,124.6 366.07,125.27 366.05,126.19 366.69,126.78 367.03,127.53 366.98,128.47 367.53,129.1 367.93,129.82 368.26,130.57 368.65,131.28 368.96,132.04 369.56,132.66 370.09,133.38 370.27,134.18 370.48,134.96 370.44,135.8 370.77,136.56 370.97,137.35 370.91,138.2 370.78,139.06 371.15,139.81 371.59,140.54 371.46,141.41 372.02,142.11 371.78,142.8 372.78,141.67 372.87,140.85 373.07,140.04 372.93,139.21 373.13,138.4 372.74,137.57 373.31,136.76 372.94,135.94 373.28,135.12 372.77,134.29 373.31,133.48 372.94,132.66 373.37,131.85 373.35,131.03 373.29,130.21 373.05,129.38 372.89,128.56 373.03,127.74 373.52,126.93 373.04,126.1 373.39,125.29 373.36,124.47 373.43,123.65 373.13,122.82 373.13,122 373.11,121.18 373.72,120.38 373.34,119.55 373.54,118.74 373.43,117.95 374.29,118.24 375.07,118.62 375.82,119.07 376.25,120.01 376.97,120.09 378,120.07 378.52,119.26 379.37,118.99 379.89,118.19 380.61,118.04 381.49,118.51 382.04,119.26 382.57,120.03 383.38,120.55 383.92,121.31 384.24,122.23 385.02,122.73 385.46,123.47 385.75,124.31 386.54,124.8 387.06,125.49 387.54,126.2 387.95,126.96 388.46,127.65 388.81,128.45 389.39,129.08 390.12,129.82 389.67,128.94 390.17,128.16 390.37,127.35 390.07,126.48 390.02,125.65 390.38,124.85 390.26,124.01 390.58,123.21 390.84,122.41 390.91,121.33 391.67,121.74 392.32,122.35 393.17,122.57 393.91,123 394.61,123.51 395.4,123.7 396.32,123.85 397.19,124.22 398.09,124.47 399,124.68" fill="none" stroke="#ff0000" stroke-width="1.5" stroke-linejoin="round" stroke-dasharray="2.6 0.9"/>
<polyline points="336.88,121.64 336.84,120.8 336.73,119.94 337.02,119.19 337.56,118.5 337.64,117.7 338.04,116.97 338.3,116.21 338.43,115.41 338.16,114.51 338.89,113.87 338.82,113.03 338.84,112.21 339,111.42 339.64,110.76 339.43,109.87 339.54,109.07 339.86,108.33 340.48,107.66 340.39,106.8 340.75,106.1 340.74,105.15 341.35,104.5 341.65,103.7 341.96,102.9 342.61,102.28 342.81,101.42 343.05,100.59 343.94,100.09 344.02,99.18 344.23,98.33 344.51,97.51 345.08,96.91 345.32,97.81 345.79,98.67 345.65,99.63 345.63,100.58 345.91,101.47 346.26,102.35 346.23,103.22 346.3,104.08 346.41,104.93 346.88,105.71 346.59,106.63 346.64,107.49 346.91,108.31 346.98,109.17 347.44,109.96 347.23,110.86 347.84,111.62 347.95,112.47 347.86,113.38 348.15,114.18 349.05,114.56 349.44,115.3 349.99,115.92 350.23,116.75 350.85,117.33 351.27,118.03 351.42,118.91 351.94,119.59 352.16,120.44 352.89,120.99 353.16,121.81 353.97,122.32 353.86,123.36 354.69,123.86 354.98,124.67 355.39,125.41 355.56,126.29 356.25,126.87 356.39,127.76 357.03,128.37 357.68,128.97 358.16,129.86 358.02,128.95 358.78,128.33 358.7,127.43 358.82,126.6 359.54,125.97 359.4,125.06 359.72,124.27 360.24,123.52 360.96,122.91 361.16,121.93 361.89,121.34 362.67,120.5 362.96,121.42 363.96,121.64 364.27,122.52 364.86,123.12 365.14,123.9 365.47,124.66 365.77,125.42 366.5,125.96 366.83,126.71 367.29,127.39 367.19,128.37 368.06,128.83 368.45,129.55 368.62,130.39 368.98,131.12 369.19,131.94 370.09,132.46 370.2,133.31 370.46,134.12 370.41,135.02 370.71,135.82 370.96,136.63 370.87,137.53 371.24,138.32 371.33,139.17 371.49,140.01 371.89,140.65 373.2,139.85 372.87,139.02 372.66,138.19 373.25,137.38 372.73,136.55 372.7,135.72 372.9,134.91 372.92,134.08 373.39,133.27 373.34,132.45 373.07,131.62 373.16,130.8 373.39,129.98 373.39,129.16 373.3,128.33 373.23,127.51 372.99,126.68 373.1,125.86 373.39,125.04 373.37,124.22 373.53,123.4 373.61,122.58 373.68,121.76 373.19,120.92 373.13,120.1 373.7,119.29 373.43,118.5 374.29,118.72 374.85,119.45 375.73,119.64 376.47,120.07 377.05,120.58 377.84,120.16 378.63,119.73 379.13,118.89 380.12,118.74 380.69,118.15 381.29,118.71 381.71,119.42 382.17,120.1 383.09,120.4 383.37,121.22 383.79,121.93 384.29,122.56 384.82,123.24 385.57,123.76 385.65,124.75 386.24,125.38 387.04,125.87 387.43,126.64 387.64,127.54 388.54,127.95 388.93,128.73 389.13,129.64 390.14,130.19 389.79,129.3 390.21,128.49 390.06,127.63 390.35,126.81 390.51,125.97 390.18,125.09 390.33,124.25 390.42,123.41 390.54,122.58 390.94,121.48 391.67,121.97 392.34,122.55 393.1,122.99 393.97,123.21 394.56,123.93 395.35,124.6 396.26,124.36 397.18,124.22 398.09,124.45 399,124.31" fill="none" stroke="#0000ff" stroke-width="1.5" stroke-linejoin="round" stroke-dasharray="2.6 0.9" stroke-dashoffset="1.6"/>
<polyline points="336.52,121.55 336.39,120.69 336.98,120.01 336.59,119.08 337.63,118.52 337.17,117.57 337.64,116.87 338.6,116.28 338.55,115.44 338.84,114.69 338.79,113.85 338.98,113.07 339.27,112.32 339.81,111.63 339.02,110.59 339.95,110.01 339.56,109.08 339.7,108.28 340.62,107.69 340.54,106.84 341.03,106.24 341.44,105.49 341.48,104.56 341.4,103.57 341.56,102.7 342.56,102.25 343.16,101.6 343.01,100.57 343.15,99.69 343.45,98.89 344.03,98.23 345.03,97.77 345.82,96.79 345.68,97.75 345.79,98.67 345.36,99.68 345.15,100.66 346.56,101.36 346.59,102.3 345.66,103.32 345.76,104.17 346.97,104.83 346.86,105.72 346.76,106.6 347.16,107.4 347.18,108.27 347.24,109.12 347.67,109.92 348.07,110.72 348.17,111.57 348.21,112.43 348.36,113.05 348.23,114.12 348.61,114.86 349.54,115.23 349.42,116.3 349.94,116.94 350.82,117.34 351.11,118.14 351.92,118.62 351.5,119.84 352.34,120.33 353.35,120.72 353.66,121.52 353.47,122.61 354.25,123.14 354.29,124.09 355.28,124.5 355.05,125.6 355.47,126.34 356.71,126.6 356.57,127.66 357.45,128.13 357.28,129.2 358.33,129.92 358.57,129.13 358.13,128.11 358.22,127.27 359.19,126.73 359.33,125.9 359.06,124.94 359.45,124.07 360.41,123.64 360.45,122.54 361.56,122.22 361.69,121.18 362.73,120.43 363.19,121.19 363.69,121.9 364.08,122.63 365.29,122.87 364.92,124.04 365.91,124.4 366.25,125.15 366.28,126.09 366.64,126.83 367.15,127.48 367.25,128.38 368.46,128.61 368.76,129.38 368.78,130.33 369.66,130.76 370.21,131.42 370.52,132.24 370.27,133.35 370.59,134.16 371.12,134.88 371.22,135.81 371.81,136.49 372.29,137.09 372.34,136.26 372.92,135.46 372.08,134.58 372.85,133.79 372.21,132.92 372.2,132.09 372.85,131.29 372.42,130.43 373.49,129.66 373.46,128.82 372.95,127.96 372.64,127.11 372.58,126.28 373.13,125.47 373.19,124.64 373.03,123.8 373.53,123 373.33,122.15 373.69,121.34 372.85,120.46 372.85,119.63 373.52,118.69 374.2,119.17 375.06,119.27 375.55,120.12 376.54,119.96 376.96,120.46 377.82,120.08 378.73,119.78 379.51,119.3 379.92,118.33 380.81,117.87 380.83,118.92 381.35,119.58 382.2,119.97 383.25,120.2 383.41,121.14 383.74,121.94 384.65,122.32 385.37,122.83 384.79,124.21 385.32,124.84 386.64,124.95 386.72,125.88 387.01,126.68 387.82,127.13 388.53,127.65 388.23,128.83 388.67,129.53 389.49,129.98 389.33,130.65 389.82,129.86 389.51,128.99 390.73,128.28 389.62,127.33 390.01,126.53 390.73,125.76 389.98,124.84 390.02,124.01 390.06,123.17 390.27,122.36 390.77,121.61 391.32,122.4 392.53,122.11 393.29,122.57 393.65,123.7 394.64,123.77 395.35,124.1 396.26,123.81 397.18,123.97 398.09,124.93 399,124.31" fill="none" stroke="#00ff00" stroke-width="1.7" stroke-linejoin="round" stroke-dasharray="3.6 0.6"/>
</g>
<rect x="336.6" y="90.5" width="62.4" height="53" fill="none" stroke="#8a8a8a" stroke-width="0.8"/>
<line x1="336.6" y1="143.5" x2="336.6" y2="142.3" stroke="#8a8a8a" stroke-width="0.6"/>
<line x1="336.6" y1="90.5" x2="336.6" y2="91.7" stroke="#8a8a8a" stroke-width="0.6"/>
<text x="336.6" y="149.8" font-size="5.2" text-anchor="middle" fill="#4a4a4a">0</text>
<line x1="351.46" y1="143.5" x2="351.46" y2="142.3" stroke="#8a8a8a" stroke-width="0.6"/>
<line x1="351.46" y1="90.5" x2="351.46" y2="91.7" stroke="#8a8a8a" stroke-width="0.6"/>
<text x="351.46" y="149.8" font-size="5.2" text-anchor="middle" fill="#4a4a4a">100</text>
<line x1="366.31" y1="143.5" x2="366.31" y2="142.3" stroke="#8a8a8a" stroke-width="0.6"/>
<line x1="366.31" y1="90.5" x2="366.31" y2="91.7" stroke="#8a8a8a" stroke-width="0.6"/>
<text x="366.31" y="149.8" font-size="5.2" text-anchor="middle" fill="#4a4a4a">200</text>
<line x1="381.17" y1="143.5" x2="381.17" y2="142.3" stroke="#8a8a8a" stroke-width="0.6"/>
<line x1="381.17" y1="90.5" x2="381.17" y2="91.7" stroke="#8a8a8a" stroke-width="0.6"/>
<text x="381.17" y="149.8" font-size="5.2" text-anchor="middle" fill="#4a4a4a">300</text>
<line x1="396.03" y1="143.5" x2="396.03" y2="142.3" stroke="#8a8a8a" stroke-width="0.6"/>
<line x1="396.03" y1="90.5" x2="396.03" y2="91.7" stroke="#8a8a8a" stroke-width="0.6"/>
<text x="396.03" y="149.8" font-size="5.2" text-anchor="middle" fill="#4a4a4a">400</text>
<text x="367.8" y="156.1" font-size="5.3" text-anchor="middle" fill="#4a4a4a" letter-spacing="-0.3">Time(s)</text>
<line x1="336.6" y1="93.2" x2="337.8" y2="93.2" stroke="#8a8a8a" stroke-width="0.6"/>
<line x1="399" y1="93.2" x2="397.8" y2="93.2" stroke="#8a8a8a" stroke-width="0.6"/>
<text x="335" y="95" font-size="5.2" text-anchor="end" fill="#4a4a4a">0.1</text>
<line x1="336.6" y1="104.26" x2="337.8" y2="104.26" stroke="#8a8a8a" stroke-width="0.6"/>
<line x1="399" y1="104.26" x2="397.8" y2="104.26" stroke="#8a8a8a" stroke-width="0.6"/>
<text x="335" y="106.06" font-size="5.2" text-anchor="end" fill="#4a4a4a">0.05</text>
<line x1="336.6" y1="115.33" x2="337.8" y2="115.33" stroke="#8a8a8a" stroke-width="0.6"/>
<line x1="399" y1="115.33" x2="397.8" y2="115.33" stroke="#8a8a8a" stroke-width="0.6"/>
<text x="335" y="117.13" font-size="5.2" text-anchor="end" fill="#4a4a4a">0</text>
<line x1="336.6" y1="126.39" x2="337.8" y2="126.39" stroke="#8a8a8a" stroke-width="0.6"/>
<line x1="399" y1="126.39" x2="397.8" y2="126.39" stroke="#8a8a8a" stroke-width="0.6"/>
<text x="335" y="128.19" font-size="5.2" text-anchor="end" fill="#4a4a4a">-0.05</text>
<line x1="336.6" y1="137.46" x2="337.8" y2="137.46" stroke="#8a8a8a" stroke-width="0.6"/>
<line x1="399" y1="137.46" x2="397.8" y2="137.46" stroke="#8a8a8a" stroke-width="0.6"/>
<text x="335" y="139.26" font-size="5.2" text-anchor="end" fill="#4a4a4a">-0.1</text>
<text x="323" y="117" font-size="5.3" text-anchor="middle" transform="rotate(-90 323 117)" fill="#4a4a4a" dominant-baseline="central" letter-spacing="-0.3">UVE(m/s)</text>
<clipPath id="c243"><rect x="169.8" y="160.3" width="62" height="54.9"/></clipPath>
<g clip-path="url(#c243)">
<polyline points="169.63,173.59 170.19,172.94 170.9,172.4 171.46,171.75 171.96,171.06 172.26,170.23 172.97,169.68 173.31,168.88 173.66,168.08 174.26,167.43 175.12,167.75 176.01,167.94 176.97,167.79 177.85,168 178.46,168.4 179.1,169.2 178.9,170.17 179.33,171.01 179.56,171.9 179.66,172.7 180.34,173.21 180.93,173.87 181.88,173.87 182.42,174.61 183.29,174.76 184.06,175.1 184.64,175.78 185.47,175.99 186.24,176.33 186.91,176.84 187.44,177.3 187.48,178.12 187.7,178.92 188.08,179.71 187.73,180.55 187.88,181.36 187.79,182.18 187.82,183 188.23,183.78 188.01,184.62 188.09,185.43 188.46,186.22 188.47,187.04 188.53,187.85 188.6,188.66 188.65,189.48 188.87,190.28 188.87,191.1 188.56,191.94 188.9,192.73 188.84,193.55 188.76,194.38 189.12,195.29 189.68,194.61 190.59,194.47 191.27,193.97 192.04,193.61 192.67,193.04 193.39,192.61 194.12,192.19 194.7,191.47 195.66,191.38 196.5,190.94 197.52,190.86 197.97,190.09 198.76,189.82 199.37,189.28 200.19,189.06 200.71,188.39 201.53,188.18 202.2,187.73 202.88,187.3 203.32,186.51 204.23,186.43 204.84,185.89 205.34,185.34 205.4,186.18 205.79,187 205.4,187.86 205.63,188.69 205.73,189.53 205.85,190.36 205.67,191.21 205.72,192.05 205.73,192.89 206.15,193.71 206.13,194.55 206.24,195.39 206.38,196.22 206.31,197.07 206.53,197.89 206.33,198.91 207.15,198.54 207.98,198.4 208.81,198.34 209.67,198.66 210.49,198.3 211.33,198.39 212.17,198.3 213.02,198.47 213.86,198.49 214.67,198.08 215.51,198.21 216.36,198.29 217.18,198.01 218.03,198.18 218.86,198.04 219.67,197.75 220.52,197.94 221.31,197.66 222.08,197.28 222.92,197.42 223.75,197.44 224.53,197.15 225.34,197.01 226.14,196.85 226.98,196.99 227.77,196.75 228.55,196.38 229.37,196.35 230.17,196.23 231.03,196.43 231.8,196.07" fill="none" stroke="#ff00ff" stroke-width="1.5" stroke-linejoin="round"/>
<polyline points="169.88,173.78 170.2,172.91 171.09,172.52 171.27,171.54 172.07,171.06 172.56,170.34 173.23,169.76 173.67,168.99 174.3,168.13 175.14,168.54 176,168.88 176.9,169.04 177.83,168.99 178.86,169.23 178.62,170.05 178.64,170.85 179,171.63 178.69,172.45 178.67,173.26 179.03,174.04 179.1,174.84 178.97,175.65 178.89,176.46 179.34,177.23 179.33,178.04 179.36,178.84 179.19,179.65 179.54,180.43 179.39,181.24 179.46,182.04 179.41,182.85 179.75,183.63 179.48,184.66 180.19,185.09 181.04,185.28 181.71,185.8 182.6,185.92 183.13,186.67 183.96,186.9 184.63,187.41 185.33,187.87 186.2,188.03 186.77,188.71 187.78,188.89 188,189.68 187.87,190.54 187.79,191.39 187.92,192.2 188.02,193.02 188.39,193.79 188.29,194.64 188.62,195.42 188.98,196.2 188.84,197.05 189.14,197.99 189.65,197.32 190.34,196.9 190.86,196.26 191.5,195.77 192.18,195.34 192.85,194.88 193.46,194.36 193.97,193.7 194.57,193.17 195.36,192.78 196.15,192.4 196.83,191.88 197.34,191.11 198.07,190.67 198.88,190.33 199.51,189.72 200.36,189.46 201.18,189.15 201.7,188.37 202.54,188.09 203.31,187.7 204.05,187.26 204.77,186.78 205.32,186.24 205.6,187.04 205.33,187.86 205.32,188.68 205.84,189.47 205.39,190.31 205.71,191.11 205.94,191.91 205.99,192.72 205.63,193.55 205.74,194.36 206.07,195.16 205.94,195.98 205.88,196.8 205.73,197.62 206.13,198.42 205.93,199.24 206.26,200.04 206.33,200.85 206.39,201.66 206.29,202.48 206.22,203.3 206.3,204.01 207.07,203.77 207.86,203.65 208.64,203.42 209.43,203.32 210.23,203.22 211.04,203.17 211.79,202.84 212.61,202.84 213.39,202.66 214.23,202.79 214.97,202.37 215.8,202.46 216.54,202.05 217.29,201.74 218.12,201.8 218.86,201.4 219.65,201.25 220.44,201.02 221.32,201.18 222.16,201.14 222.9,200.66 223.71,200.46 224.52,200.32 225.32,200.1 226.17,200.1 226.94,199.76 227.72,199.46 228.61,199.66 229.39,199.32 230.13,198.84 231.03,199.11 231.8,198.75" fill="none" stroke="#008000" stroke-width="1.5" stroke-linejoin="round"/>
<polyline points="170.04,173.85 170.05,172.9 170.75,172.33 171.46,171.76 171.32,170.73 171.75,170.01 172.02,169.2 172.69,168.62 173.21,167.95 173.69,167.27 174.32,166.66 174.66,165.53 174.71,166.51 174.44,167.59 175.23,168.69 176.06,168.23 176.98,168.11 177.77,167.49 178.18,167.54 178.8,168.36 179.12,169.22 179.53,170.07 179.76,170.95 178.98,172 179.76,173.14 180.23,171.86 181.28,171.73 182.26,171.45 183.17,171.03 183.79,171.63 183.76,172.7 184.79,173.01 185.11,173.83 185.21,174.81 185.99,175.3 186.65,175.88 187.29,176.48 187.75,177.28 187.53,178.1 187.37,178.91 188.05,179.68 187.97,180.49 188,181.29 188.08,182.09 187.46,182.93 187.96,183.7 188.33,184.49 188.31,185.29 187.77,186.13 188.62,186.88 188.03,187.72 188.88,188.48 188.72,189.29 188.93,190.08 188.08,190.94 188.93,191.69 188.88,192.5 189.13,193.29 188.93,194.11 188.42,194.94 188.48,195.74 188.3,196.56 188.31,197.36 188.83,198.14 188.43,198.96 189.49,199.7 189.52,200.73 189.27,199.74 189.31,198.87 190.24,198.35 190.67,197.63 190.44,196.65 190.42,195.76 191.6,195.34 191.76,194.54 191.88,193.72 192.61,193.15 191.85,191.98 192.16,191.25 192.54,190.53 192.72,189.74 193.79,189.3 194,188.52 193.71,187.55 194.07,186.82 194.38,186.09 195.22,185.38 195.65,184.52 196.34,183.76 196.33,182.63 195.71,183.55 196.47,184.27 196.64,185.07 196.92,185.86 197.06,186.67 196.28,187.61 196.37,188.43 196.83,189.19 197.58,189.91 197.69,190.73 197.16,191.26 197.97,190.93 198.93,190.78 199.09,189.61 200.11,189.54 200.89,189.16 201.08,188.02 202.05,187.89 202.98,187.7 203.48,186.97 204.06,186.33 205.05,186.22 205.31,185.34 205.66,186.13 205.62,186.93 204.99,187.76 205.12,188.56 205.08,189.36 205.54,190.15 206.08,190.93 206.07,191.73 205.85,192.55 205.51,193.36 206.37,194.13 205.44,194.97 205.49,195.77 205.84,196.56 206.49,197.34 205.56,198.18 206.06,198.96 205.78,199.77 205.93,200.57 205.77,201.38 206.19,202.17 205.55,202.99 205.59,203.79 205.65,204.6 206.06,205.38 206.45,206.17 206.41,206.97 206.57,207.77 206.71,208.88 207.14,208.08 207.67,207.36 208.24,206.67 208.94,206.08 209.03,205.23 209.78,204.65 210.69,205.04 211.41,204.31 212.31,204.59 213.04,203.91 214,204.61 214.75,204.03 215.53,203.64 216.48,204.27 217.13,203.13 218.13,204.01 218.91,203.66 219.65,202.8 220.52,203.47 221.31,203.19 222.14,203.53 222.92,203.08 223.72,202.83 224.57,203.38 225.3,202.3 226.17,203.08 226.92,202.2 227.74,202.35 228.53,202.1 229.41,202.95 230.18,202.37 231.01,202.66 231.8,202.32" fill="none" stroke="#00ffff" stroke-width="1.8" stroke-linejoin="round"/>
<polyline points="169.66,173.63 170.33,173.09 170.68,172.37 170.76,171.49 171.38,170.93 171.91,170.31 172.01,169.45 172.66,168.89 172.84,168.08 173.44,167.43 173.4,168.43 173.68,169.33 174.4,170.43 175.12,169.65 176.06,169.28 177.02,168.98 177.7,168.47 178.74,169.24 178.52,170.1 178.88,170.91 178.58,171.78 178.95,172.59 179.24,173.42 178.88,174.28 179.33,175.09 179.04,175.96 179.5,176.77 178.94,177.65 179.29,178.46 179.22,179.31 179.67,180.12 179.4,180.98 179.62,181.81 179.7,182.52 180.19,183.36 181.21,183.48 181.75,184.25 182.61,184.58 183.12,185.56 184,185.77 185,185.39 185.84,185.85 186.73,186.03 187.47,186.25 187.56,187.08 187.91,187.89 187.62,188.77 188.2,189.54 188.33,190.38 187.98,191.26 188.53,192.04 188.58,192.88 188.47,193.74 188.67,194.56 188.88,195.38 188.47,196.28 188.87,197.08 188.76,197.93 189.14,198.61 190.5,199.82 190.7,198.85 191.61,198.47 192.02,197.68 192.75,197.16 193.21,196.4 193.7,195.67 194.2,194.96 194.97,194.33 194.9,193.47 194.88,192.62 195.6,191.96 195.73,191.15 195.85,190.33 196.09,189.55 195.96,188.67 196.3,187.91 196.32,187.18 196.45,188.09 196.7,188.98 197.41,189.75 197.48,190.8 198.15,190.28 198.81,189.75 199.44,189.17 200.14,188.71 200.97,188.45 201.69,188.01 202.32,187.44 203.07,187.05 203.85,186.71 204.71,186.28 204.89,185.35 204.92,184.37 205.18,183.59 205.67,184.43 205.43,185.39 205.56,186.28 206.26,187.09 206.12,188.03 206.24,189.21 207.12,189.06 207.87,189.39 208.7,189.46 209.53,189.51 210.27,189.84 211.07,190.02 211.82,190.34 212.58,190.78 213.36,190.54 214.21,190.59 214.96,190.22 215.7,189.82 216.59,189.99 217.33,189.59 218.11,189.34 218.95,189.34 219.72,189.02 220.47,188.59 221.32,188.5 222.07,188.07 223,188.26 223.68,187.56 224.62,187.78 225.26,186.97 226.05,186.69 226.96,186.8 227.71,186.34 228.57,186.29 229.31,185.81 230.25,186.03 231.02,185.68 231.8,185.34" fill="none" stroke="#ff0000" stroke-width="1.5" stroke-linejoin="round" stroke-dasharray="2.6 0.9"/>
<polyline points="169.9,174.13 170.48,173.5 170.97,172.81 171.24,171.99 171.7,171.28 171.75,170.32 172.22,169.62 172.88,169.04 173.08,168.47 173.92,169.37 174.26,170.54 175.12,170.1 176.03,170.29 176.95,170.54 177.82,170.27 178.49,170.15 179.08,170.96 179.01,171.81 179.08,172.65 178.7,173.52 179.23,174.33 178.74,175.2 179.23,176.02 178.88,176.88 179.17,177.71 179.35,178.54 178.98,179.41 179.4,180.23 179.26,181.08 179.73,181.9 179.28,182.77 179.23,183.62 179.75,184.24 180.21,185.11 181.12,185.39 181.88,185.87 182.5,186.52 183.14,187.23 183.99,187.6 184.88,187.8 185.77,187.98 186.71,187.92 187.52,188.03 187.93,188.83 187.65,189.71 187.85,190.54 188.06,191.36 187.8,192.24 188.31,193.03 188.47,193.86 188.55,194.7 188.65,195.54 188.45,196.41 188.4,197.26 188.91,198.05 188.77,198.92 188.81,199.76 188.91,200.6 189,201.39 189.63,200.82 189.95,199.96 190.54,199.36 191.28,198.89 191.76,198.18 192.59,197.79 192.91,196.93 193.76,196.57 194.05,195.68 194.48,195.12 194.89,194.36 194.99,193.53 195.12,192.71 195.56,191.95 195.37,191.07 195.82,190.32 196.09,189.52 196.01,188.66 196.2,187.86 196.64,187.1 196.46,186.25 196.97,187.07 197.27,187.95 197.5,188.84 197.58,189.78 197.97,190.63 198,191.68 198.64,191.11 199.31,190.59 200.09,190.26 200.95,190.05 201.42,189.22 202.1,188.72 202.87,188.36 203.59,187.92 204.51,187.8 204.95,187.18 205.43,187.87 205.9,188.56 206.29,189.29 206.37,189.92 207.17,190.54 208.09,190.57 209.03,190.4 209.87,190.86 210.83,190.64 211.67,191.09 212.54,191.13 213.31,190.86 214.17,191.16 214.96,191.02 215.73,190.77 216.49,190.42 217.33,190.63 218.09,190.36 218.91,190.39 219.62,189.9 220.56,190.22 221.22,189.44 222.06,189.38 222.9,189.29 223.67,188.96 224.46,188.68 225.37,188.87 226.23,188.86 226.93,188.23 227.72,187.99 228.6,188.04 229.33,187.55 230.17,187.47 231.02,187.45 231.8,187.12" fill="none" stroke="#0000ff" stroke-width="1.5" stroke-linejoin="round" stroke-dasharray="2.6 0.9" stroke-dashoffset="1.6"/>
<polyline points="169.86,174.55 170.76,174.98 171.5,175.58 171.77,176.65 173.06,177.39 173.12,176.48 172.29,175.42 172.92,174.61 173.05,173.71 172.85,172.76 173.4,172.13 174.25,171.77 175.21,171.99 175.99,171.23 177.01,171.85 177.88,171.55 178.74,171.03 179.19,171.8 178.82,172.63 179.3,173.4 178.67,174.24 178.7,175.04 178.89,175.84 178.46,176.66 179.63,177.4 178.87,178.25 178.81,179.05 179.69,179.8 179.49,180.62 179.86,181.4 179.26,182.24 179.14,183.05 179.64,183.82 179.27,184.64 179.71,185.42 179.44,186.43 180.4,186.53 180.51,187.7 181.55,187.7 182.52,187.81 183.09,188.4 183.25,189.51 183.89,190.22 184.88,190.32 185.99,190.13 186.56,191.3 187.52,191.48 188.97,191.57 188.7,192.39 188.39,193.22 189.24,193.98 189.24,194.78 188.91,195.61 188.32,196.45 188.22,197.26 189.08,198.02 188.41,198.86 188.61,199.66 188.56,200.47 188.93,201.26 188.52,202.09 188.96,202.87 188.63,203.7 189.14,204.47 189.63,205.25 189.29,206.08 189.37,206.88 189.22,207.6 189.64,206.85 190.17,206.16 190.64,205.44 190.62,204.47 191.07,203.74 191.69,203.09 192.07,202.33 192.36,201.51 193.01,200.88 192.87,199.86 193.63,199.28 193.74,198.37 194.65,197.87 194.99,197 195.21,196.18 195.02,195.3 194.82,194.42 195.76,193.72 195.39,192.81 195.36,191.96 195.38,191.11 195.64,190.3 196.14,189.53 196.4,188.72 196.12,187.82 196.55,187.04 196.05,186.11 196.58,185.32 196.85,186.12 197.08,186.92 197.18,187.74 196.87,188.65 197.06,189.46 197.84,190.14 197.97,190.96 197.48,191.91 197.8,192.69 197.93,193.51 198.41,194.4 199.11,193.88 199.42,192.93 199.9,192.17 200.79,191.87 201.17,191.01 202.56,191.28 202.86,190.32 203.62,189.88 204.51,189.58 205.03,188.86 205.75,187.94 205.85,188.86 206.34,189.69 205.75,190.79 206.33,191.88 207.16,191.56 207.99,191.39 208.82,191.25 209.66,191.49 210.51,191.74 211.35,191.94 212.18,191.86 213.02,191.86 213.84,191.32 214.67,191.28 215.5,191.12 216.36,191.9 217.17,190.92 218,190.87 218.84,190.99 219.74,191.74 220.54,191.57 221.28,190.84 222.16,191.37 222.97,191.33 223.71,190.67 224.49,190.3 225.38,190.9 226.13,190.32 226.9,189.92 227.82,190.77 228.56,190.12 229.36,189.97 230.2,190.11 230.96,189.61 231.8,189.81" fill="none" stroke="#00ff00" stroke-width="1.7" stroke-linejoin="round" stroke-dasharray="3.6 0.6"/>
</g>
<rect x="169.8" y="160.3" width="62" height="54.9" fill="none" stroke="#8a8a8a" stroke-width="0.8"/>
<line x1="169.8" y1="215.2" x2="169.8" y2="214" stroke="#8a8a8a" stroke-width="0.6"/>
<line x1="169.8" y1="160.3" x2="169.8" y2="161.5" stroke="#8a8a8a" stroke-width="0.6"/>
<text x="169.8" y="221.5" font-size="5.2" text-anchor="middle" fill="#4a4a4a">0</text>
<line x1="184.56" y1="215.2" x2="184.56" y2="214" stroke="#8a8a8a" stroke-width="0.6"/>
<line x1="184.56" y1="160.3" x2="184.56" y2="161.5" stroke="#8a8a8a" stroke-width="0.6"/>
<text x="184.56" y="221.5" font-size="5.2" text-anchor="middle" fill="#4a4a4a">100</text>
<line x1="199.32" y1="215.2" x2="199.32" y2="214" stroke="#8a8a8a" stroke-width="0.6"/>
<line x1="199.32" y1="160.3" x2="199.32" y2="161.5" stroke="#8a8a8a" stroke-width="0.6"/>
<text x="199.32" y="221.5" font-size="5.2" text-anchor="middle" fill="#4a4a4a">200</text>
<line x1="214.09" y1="215.2" x2="214.09" y2="214" stroke="#8a8a8a" stroke-width="0.6"/>
<line x1="214.09" y1="160.3" x2="214.09" y2="161.5" stroke="#8a8a8a" stroke-width="0.6"/>
<text x="214.09" y="221.5" font-size="5.2" text-anchor="middle" fill="#4a4a4a">300</text>
<line x1="228.85" y1="215.2" x2="228.85" y2="214" stroke="#8a8a8a" stroke-width="0.6"/>
<line x1="228.85" y1="160.3" x2="228.85" y2="161.5" stroke="#8a8a8a" stroke-width="0.6"/>
<text x="228.85" y="221.5" font-size="5.2" text-anchor="middle" fill="#4a4a4a">400</text>
<text x="200.8" y="227.8" font-size="5.3" text-anchor="middle" fill="#4a4a4a" letter-spacing="-0.3">Time(s)</text>
<line x1="169.8" y1="160.3" x2="171" y2="160.3" stroke="#8a8a8a" stroke-width="0.6"/>
<line x1="231.8" y1="160.3" x2="230.6" y2="160.3" stroke="#8a8a8a" stroke-width="0.6"/>
<text x="168.2" y="162.1" font-size="5.2" text-anchor="end" fill="#4a4a4a">0.01</text>
<line x1="169.8" y1="174.03" x2="171" y2="174.03" stroke="#8a8a8a" stroke-width="0.6"/>
<line x1="231.8" y1="174.03" x2="230.6" y2="174.03" stroke="#8a8a8a" stroke-width="0.6"/>
<text x="168.2" y="175.83" font-size="5.2" text-anchor="end" fill="#4a4a4a">0</text>
<line x1="169.8" y1="187.75" x2="171" y2="187.75" stroke="#8a8a8a" stroke-width="0.6"/>
<line x1="231.8" y1="187.75" x2="230.6" y2="187.75" stroke="#8a8a8a" stroke-width="0.6"/>
<text x="168.2" y="189.55" font-size="5.2" text-anchor="end" fill="#4a4a4a">-0.01</text>
<line x1="169.8" y1="201.47" x2="171" y2="201.47" stroke="#8a8a8a" stroke-width="0.6"/>
<line x1="231.8" y1="201.47" x2="230.6" y2="201.47" stroke="#8a8a8a" stroke-width="0.6"/>
<text x="168.2" y="203.28" font-size="5.2" text-anchor="end" fill="#4a4a4a">-0.02</text>
<line x1="169.8" y1="215.2" x2="171" y2="215.2" stroke="#8a8a8a" stroke-width="0.6"/>
<line x1="231.8" y1="215.2" x2="230.6" y2="215.2" stroke="#8a8a8a" stroke-width="0.6"/>
<text x="168.2" y="217" font-size="5.2" text-anchor="end" fill="#4a4a4a">-0.03</text>
<text x="153.6" y="187.75" font-size="5.3" text-anchor="middle" transform="rotate(-90 153.6 187.75)" fill="#4a4a4a" dominant-baseline="central" letter-spacing="-0.3">AEE(°)</text>
<clipPath id="c285"><rect x="254.5" y="160.3" width="62.7" height="54.9"/></clipPath>
<g clip-path="url(#c285)">
<polyline points="254.71,192.64 255.15,193.56 255.75,194.35 256.04,195.09 256.52,194.42 257.02,193.75 257.1,192.92 257.58,192.24 257.85,191.49 257.92,190.65 258.14,189.88 258.77,189.26 259.04,188.51 259.17,187.7 259.42,186.93 260.06,186.32 260.38,185.59 260.34,184.71 260.81,184.03 261.11,183.29 261.28,182.49 261.43,181.69 261.86,180.98 262.31,180.26 262.57,179.48 262.8,178.69 262.88,177.85 263.21,177.09 263.55,176.34 263.89,175.58 264.14,174.8 264.7,174.13 264.58,173.21 265.31,172.6 265.21,171.68 265.81,171.03 265.78,170.14 266.24,169.43 266.41,168.62 266.52,167.78 267.04,167.26 267.94,167.26 268.83,166.97 269.73,167.25 270.62,167.08 271.52,167.36 272.66,167.08 272.54,167.94 272.69,168.79 272.54,169.66 272.52,170.52 272.55,171.37 272.77,172.21 272.92,173.06 272.76,173.93 273.21,174.75 273.19,175.61 272.98,176.48 273.21,177.32 272.98,178.2 273.53,179.01 273.41,179.86 273.63,180.68 273.83,181.51 273.86,182.35 273.94,183.18 273.87,184.03 273.92,184.87 273.96,185.71 274.16,186.53 274.01,187.39 274.2,188.21 274.35,189.06 275.12,189.57 275.33,190.39 275.72,191.11 276.15,191.8 276.29,192.65 276.99,193.21 277.04,194.1 277.67,194.7 278.06,195.42 278.3,196.21 278.7,196.92 279.21,197.58 279.69,198.25 279.64,199.2 280.3,199.77 280.81,200.43 280.92,201.29 281.38,202 282.13,201.66 282.91,201.43 283.78,201.47 284.48,200.98 285.28,200.79 286.14,200.84 286.84,200.3 287.67,200.1 288.62,200.44 289.35,201.08 289.54,201.9 289.86,202.69 290.08,203.5 290.37,204.29 290.27,205.18 290.65,205.95 290.65,206.82 291.09,207.57 291.25,208.53 291.96,207.99 292.77,207.93 293.65,208.17 294.41,207.86 295.2,207.69 295.97,207.43 296.75,207.26 297.51,206.95 298.3,206.77 299.14,206.86 299.94,206.73 300.68,206.33 301.51,206.38 302.25,205.94 303.09,206.04 303.83,205.64 304.66,205.66 305.42,205.38 306.23,205.34 306.97,204.94 307.79,204.95 308.59,204.85 309.32,204.42 310.12,204.34 310.95,204.37 311.72,204.13 312.51,203.99 313.31,203.91 314.07,203.62 314.82,203.27 315.63,203.21 316.46,203.25 317.2,202.9" fill="none" stroke="#ff00ff" stroke-width="1.5" stroke-linejoin="round"/>
<polyline points="254.52,192.83 255.25,192.46 255.8,191.82 256.5,191.4 257.4,191.12 257.82,190.4 258.23,189.68 258.48,188.83 259.19,188.33 259.42,187.47 260.31,187.1 260.82,186.44 261.2,185.7 261.48,184.88 262.23,184.4 262.43,183.5 263.24,183.09 263.65,182.34 263.97,181.52 264.88,181.19 265.22,180.38 265.93,179.88 266.4,179.19 266.87,178.49 267.55,177.96 267.91,177.03 268.78,177.25 269.53,176.8 270.31,176.48 271.14,176.49 271.92,176.19 273.01,176.25 272.8,177.08 273.17,177.84 273.25,178.64 273.27,179.44 273.37,180.24 273.12,181.08 273.22,181.87 273.33,182.66 273.36,183.47 273.76,184.23 273.66,185.05 274.04,185.81 273.78,186.65 273.94,187.43 274.09,188.27 274.74,188.88 275.2,189.59 275.19,190.55 275.77,191.2 276.14,191.96 276.42,192.77 277.17,193.33 277.29,194.22 277.81,194.9 278.05,195.73 278.61,196.39 279.13,197.07 279.16,198.01 279.89,198.58 280.06,199.44 280.41,200.21 281.1,200.8 281.4,201.72 282.14,201.37 282.9,201.1 283.69,200.91 284.56,201.12 285.27,200.62 286.08,200.52 286.86,200.33 287.72,199.89 288.5,200.55 289.31,200.75 289.6,201.59 290.22,202.28 290.65,203.05 290.94,203.89 291.24,204.86 292.07,204.73 292.9,204.5 293.74,204.47 294.56,204.18 295.45,204.5 296.26,204.17 297.1,204.1 297.96,204.16 298.76,203.74 299.63,203.94 300.45,203.64 301.32,203.8 302.12,203.32 302.97,203.33 303.83,203.43 304.66,203.26 305.49,203.08 306.34,203.06 307.15,202.74 308,202.74 308.8,202.38 309.7,202.69 310.49,202.27 311.37,202.47 312.19,202.19 313.03,202.1 313.87,201.99 314.66,201.59 315.55,201.82 316.35,201.44 317.2,201.43" fill="none" stroke="#008000" stroke-width="1.5" stroke-linejoin="round"/>
<polyline points="254.19,193.11 254.92,193.73 255.69,194.33 256.24,195.13 257.11,195.54 257.59,194.79 258.12,194.05 257.42,193.02 257.51,192.17 258.08,191.45 258.39,190.66 258.17,189.74 258.45,188.95 259.34,188.46 259.36,187.42 259.63,186.54 260.16,185.85 261.05,185.41 261.16,184.42 261.94,183.91 262.5,183.24 262.9,182.45 263.46,181.79 264.54,181.69 264.68,180.74 265.93,180.17 265.23,179.18 265.21,178.34 266.24,177.72 266.17,176.87 266.3,176.05 266.09,175.17 266.93,174.51 266.53,173.59 267.2,172.89 266.77,171.96 267.35,171.24 267.61,170.46 267.45,169.59 267.74,168.81 267.83,167.5 268.87,168 269.77,167.87 270.54,167.05 271.53,167.34 272.13,167.12 272.97,167.89 272.16,168.81 272.19,169.66 273.25,170.41 273.09,171.27 273.36,172.1 273.23,172.96 273.51,173.78 273.1,174.67 273.46,175.48 273.48,176.33 273.36,177.19 273.53,178.03 273.1,178.92 273.25,179.76 274.05,180.54 273.99,181.4 274.32,182.23 274,183.11 274.33,183.93 273.69,184.84 273.66,185.69 273.47,186.56 274.49,187.33 274.7,187.95 274.31,189.08 275.05,189.61 274.87,190.62 275.83,191.05 276.29,191.73 276.93,192.32 276.36,193.53 277.21,194.01 277.66,194.7 278.04,195.42 278.07,196.33 278.38,197.09 279.13,197.62 279.83,198.18 279.96,199.03 279.82,200.02 280.72,200.48 280.82,201.35 281.39,202.05 282.14,201.71 282.96,201.61 283.64,201 284.53,201.13 285.41,201.26 285.93,200.11 286.81,200.22 287.43,200.55 288.27,201.12 290.01,200.95 289.44,201.93 289.6,202.76 289.51,203.65 290.12,204.39 290.69,205.15 290.65,206.02 290.32,206.95 290.46,207.79 291.25,208.5 290.89,209.44 291.32,210.41 292.02,210 292.33,208.93 293.28,208.96 293.9,208.43 294.77,208.3 295.3,207.62 295.87,207 296.9,207.16 297.46,206.31 298.34,206.82 299.06,206.13 299.89,206.32 300.73,206.53 301.42,205.6 302.31,206.24 303,205.34 303.93,206.28 304.58,205.08 305.54,205.8 306.31,205.25 307.11,204.9 307.99,205.04 308.84,205.04 309.66,204.82 310.45,204.34 311.35,204.7 312.15,204.31 313.1,204.99 313.84,204.17 314.68,204.11 315.48,203.74 316.45,204.5 317.2,203.82" fill="none" stroke="#00ffff" stroke-width="1.8" stroke-linejoin="round"/>
<polyline points="254.4,193.65 255.03,193.1 255.58,192.49 255.78,191.66 256.43,191.12 256.62,190.27 256.98,189.53 257.48,188.77 258.23,188.19 259,187.62 259.18,186.62 259.88,185.97 260.75,186.3 261.69,186.1 262.37,186.24 263.05,185.67 263.49,184.93 264.25,184.42 264.71,183.7 264.83,182.74 265.49,182.16 265.89,181.4 266.17,180.55 266.87,180 267.61,179.47 267.76,178.53 268.4,177.93 268.86,177.33 269.55,176.73 270.47,177.1 271.14,176.39 271.95,176.33 272.63,176.29 273.18,177.03 273.05,177.86 273.3,178.63 273.17,179.45 273.57,180.21 273.57,181.02 273.62,181.82 273.81,182.61 273.9,183.4 273.93,184.21 273.81,185.03 274.16,185.79 273.8,186.64 274.16,187.41 274.33,188.1 274.93,188.77 275.23,189.7 276.22,190.03 276.47,191.01 277.39,191.4 277.52,192.36 278.14,192.99 278.33,193.8 278.46,194.63 279.23,195.21 279.55,195.97 279.46,196.89 279.82,197.62 280.04,198.42 280.61,199.08 280.78,199.9 281.27,200.59 281.4,201.4 282.36,202.05 283.19,202.95 283.82,202.41 284.53,202.03 285.36,201.88 285.9,201.19 286.81,201.25 287.64,200.75 288.48,200.28 289.66,200.02 289.88,200.97 290.33,201.8 290.65,202.69 291.21,203.37 292.11,203.26 293.05,203.44 293.89,202.91 294.85,203.24 295.74,203.05 296.65,202.98 297.53,202.82 298.27,202.27 299.11,202.53 299.89,202.3 300.65,201.93 301.52,202.35 302.28,202.02 303.09,202.02 303.87,201.75 304.62,201.34 305.53,201.71 306.3,201.13 307.14,201.05 308.02,201.15 308.81,200.74 309.67,200.78 310.53,200.81 311.31,200.27 312.2,200.51 312.98,200.01 313.85,200.12 314.71,200.09 315.55,199.98 316.32,199.43 317.2,199.59" fill="none" stroke="#ff0000" stroke-width="1.5" stroke-linejoin="round" stroke-dasharray="2.6 0.9"/>
<polyline points="254.33,193.6 255.2,193.21 255.34,192.33 255.8,191.67 256.22,190.98 256.85,190.42 257.32,189.77 257.8,189 258.21,188.17 258.84,187.5 259.35,186.75 259.87,185.8 260.77,186.3 261.67,186.31 262.71,186.11 263.31,185.52 263.51,184.64 264.19,184.1 264.35,183.19 265.1,182.71 265.57,182.02 266.17,181.43 266.6,180.71 267.11,180.05 267.26,179.14 268.02,178.66 268.34,177.86 268.81,177.07 269.6,176.96 270.44,177.09 271.24,176.97 272.03,176.83 272.66,176.47 273.09,177.27 273.2,178.11 273.04,178.98 273.37,179.79 273.39,180.64 273.65,181.46 273.72,182.31 273.45,183.19 273.87,183.99 273.57,184.88 274.01,185.68 273.77,186.56 274.23,187.35 274.32,188.11 274.85,188.84 275.64,189.34 276.03,190.2 276.65,190.85 277.43,191.36 277.57,192.34 278.16,192.98 278.69,193.66 278.4,194.65 279.15,195.24 279.43,196.01 279.87,196.72 280.12,197.51 280.05,198.42 280.43,199.15 280.77,199.9 281.23,200.6 281.46,201.32 282.07,202.4 283.12,202.82 284.03,202.82 284.71,202.39 285.2,201.58 286.13,201.63 286.66,200.76 287.68,200.95 288.59,200.77 289.32,200.39 289.85,201.17 290.15,202.08 290.98,202.7 291.23,203.66 292.1,203.35 293.01,203.3 293.88,203.04 294.83,203.24 295.71,203.02 296.63,203.03 297.51,202.8 298.3,202.68 299.12,202.79 299.91,202.61 300.68,202.35 301.46,202.09 302.31,202.38 303.06,201.92 303.83,201.64 304.64,201.69 305.52,201.81 306.37,201.83 307.18,201.52 308.02,201.41 308.88,201.47 309.7,201.24 310.51,200.9 311.34,200.79 312.21,200.86 313,200.45 313.82,200.2 314.7,200.41 315.56,200.41 316.34,199.92 317.2,199.96" fill="none" stroke="#0000ff" stroke-width="1.5" stroke-linejoin="round" stroke-dasharray="2.6 0.9" stroke-dashoffset="1.6"/>
<polyline points="254.68,192.93 255.42,192.35 255.21,191.06 255.76,190.34 256.64,189.86 257.03,189.01 258.16,188.71 258.75,188.01 258.75,186.88 259.62,186.4 259.99,185.57 260.26,184.49 261.63,184.48 261.61,183.11 262.05,182.66 262.57,181.85 262.12,180.96 262.74,180.16 262.73,179.3 263.45,178.51 262.87,177.61 263.47,176.8 263.45,175.95 263.29,175.08 262.93,174.2 263.08,173.36 263.38,172.53 263.58,171.67 263.4,172.51 263.69,173.28 264.03,174.04 263.81,174.89 263.46,175.75 264.53,176.4 264.49,177.22 265,177.96 265.02,178.77 265.18,179.56 264.86,180.42 264.49,181.29 264.77,182.06 264.57,182.91 265.62,183.8 265.73,182.88 266.1,182.09 265.87,181 266.66,180.41 266.91,179.56 267.68,178.96 267.56,177.74 268.57,177.53 269.02,176.78 269.74,176.27 270.27,176.9 271.03,177.39 270.84,178.49 271.78,179.28 272.2,178.5 272.38,177.48 273.19,177.2 272.93,178.08 272.86,178.93 273.2,179.76 274.13,180.54 273.2,181.47 273.52,182.29 274.06,183.1 273.35,184.01 273.54,184.85 273.52,185.71 274.37,186.49 274.04,187.37 274.31,188.11 274.98,188.65 275.17,189.65 275.9,190.14 276.74,190.52 277.15,191.31 277.31,192.07 278.01,192.68 277.92,193.59 278.61,194.21 278.43,195.16 279.81,195.5 279.63,196.45 279.82,197.26 279.92,198.1 279.95,198.97 280.64,199.59 281.1,200.29 281.26,201.18 281.94,201.7 282.39,202.46 283.41,203.38 283.61,202.01 284.5,201.97 285.52,202.2 285.79,200.95 286.86,201.39 287.46,200.22 288.6,200.62 289.11,200.3 290.08,200.74 290.28,201.55 290.81,202.2 290.64,203.19 291.23,203.85 292.14,203.81 292.99,203.34 293.93,203.53 294.89,203.84 295.75,203.49 296.68,203.57 297.46,202.59 298.29,202.82 299.07,202.56 299.86,202.41 300.73,202.85 301.43,202 302.28,202.36 303.11,202.51 303.93,202.6 304.58,201.4 305.46,201.58 306.33,201.73 307.24,202.14 307.94,201.09 308.9,201.78 309.66,201.12 310.52,201.18 311.42,201.51 312.11,200.36 312.99,200.55 313.8,200.22 314.63,200.07 315.49,200.15 316.4,200.51 317.2,200.14" fill="none" stroke="#00ff00" stroke-width="1.7" stroke-linejoin="round" stroke-dasharray="3.6 0.6"/>
</g>
<rect x="254.5" y="160.3" width="62.7" height="54.9" fill="none" stroke="#8a8a8a" stroke-width="0.8"/>
<line x1="254.5" y1="215.2" x2="254.5" y2="214" stroke="#8a8a8a" stroke-width="0.6"/>
<line x1="254.5" y1="160.3" x2="254.5" y2="161.5" stroke="#8a8a8a" stroke-width="0.6"/>
<text x="254.5" y="221.5" font-size="5.2" text-anchor="middle" fill="#4a4a4a">0</text>
<line x1="269.43" y1="215.2" x2="269.43" y2="214" stroke="#8a8a8a" stroke-width="0.6"/>
<line x1="269.43" y1="160.3" x2="269.43" y2="161.5" stroke="#8a8a8a" stroke-width="0.6"/>
<text x="269.43" y="221.5" font-size="5.2" text-anchor="middle" fill="#4a4a4a">100</text>
<line x1="284.36" y1="215.2" x2="284.36" y2="214" stroke="#8a8a8a" stroke-width="0.6"/>
<line x1="284.36" y1="160.3" x2="284.36" y2="161.5" stroke="#8a8a8a" stroke-width="0.6"/>
<text x="284.36" y="221.5" font-size="5.2" text-anchor="middle" fill="#4a4a4a">200</text>
<line x1="299.29" y1="215.2" x2="299.29" y2="214" stroke="#8a8a8a" stroke-width="0.6"/>
<line x1="299.29" y1="160.3" x2="299.29" y2="161.5" stroke="#8a8a8a" stroke-width="0.6"/>
<text x="299.29" y="221.5" font-size="5.2" text-anchor="middle" fill="#4a4a4a">300</text>
<line x1="314.21" y1="215.2" x2="314.21" y2="214" stroke="#8a8a8a" stroke-width="0.6"/>
<line x1="314.21" y1="160.3" x2="314.21" y2="161.5" stroke="#8a8a8a" stroke-width="0.6"/>
<text x="314.21" y="221.5" font-size="5.2" text-anchor="middle" fill="#4a4a4a">400</text>
<text x="285.85" y="227.8" font-size="5.3" text-anchor="middle" fill="#4a4a4a" letter-spacing="-0.3">Time(s)</text>
<line x1="254.5" y1="160.3" x2="255.7" y2="160.3" stroke="#8a8a8a" stroke-width="0.6"/>
<line x1="317.2" y1="160.3" x2="316" y2="160.3" stroke="#8a8a8a" stroke-width="0.6"/>
<text x="252.9" y="162.1" font-size="5.2" text-anchor="end" fill="#4a4a4a">0.03</text>
<line x1="254.5" y1="171.28" x2="255.7" y2="171.28" stroke="#8a8a8a" stroke-width="0.6"/>
<line x1="317.2" y1="171.28" x2="316" y2="171.28" stroke="#8a8a8a" stroke-width="0.6"/>
<text x="252.9" y="173.08" font-size="5.2" text-anchor="end" fill="#4a4a4a">0.02</text>
<line x1="254.5" y1="182.26" x2="255.7" y2="182.26" stroke="#8a8a8a" stroke-width="0.6"/>
<line x1="317.2" y1="182.26" x2="316" y2="182.26" stroke="#8a8a8a" stroke-width="0.6"/>
<text x="252.9" y="184.06" font-size="5.2" text-anchor="end" fill="#4a4a4a">0.01</text>
<line x1="254.5" y1="193.24" x2="255.7" y2="193.24" stroke="#8a8a8a" stroke-width="0.6"/>
<line x1="317.2" y1="193.24" x2="316" y2="193.24" stroke="#8a8a8a" stroke-width="0.6"/>
<text x="252.9" y="195.04" font-size="5.2" text-anchor="end" fill="#4a4a4a">0</text>
<line x1="254.5" y1="204.22" x2="255.7" y2="204.22" stroke="#8a8a8a" stroke-width="0.6"/>
<line x1="317.2" y1="204.22" x2="316" y2="204.22" stroke="#8a8a8a" stroke-width="0.6"/>
<text x="252.9" y="206.02" font-size="5.2" text-anchor="end" fill="#4a4a4a">-0.01</text>
<line x1="254.5" y1="215.2" x2="255.7" y2="215.2" stroke="#8a8a8a" stroke-width="0.6"/>
<line x1="317.2" y1="215.2" x2="316" y2="215.2" stroke="#8a8a8a" stroke-width="0.6"/>
<text x="252.9" y="217" font-size="5.2" text-anchor="end" fill="#4a4a4a">-0.02</text>
<text x="238" y="187.75" font-size="5.3" text-anchor="middle" transform="rotate(-90 238 187.75)" fill="#4a4a4a" dominant-baseline="central" letter-spacing="-0.3">ANE(°)</text>
<clipPath id="c330"><rect x="336.6" y="160.3" width="62.4" height="54.9"/></clipPath>
<g clip-path="url(#c330)">
<polyline points="336.63,190.21 337.14,189.46 338.04,189.18 338.61,188.5 339.15,187.79 340.06,187.51 340.76,186.92 341.04,185.98 341.9,185.47 342.39,184.68 342.68,183.74 343.44,182.82 344.2,183.58 345.12,183.87 345.9,183.9 346.67,183.31 347.13,182.54 347.52,181.72 348.07,181 348.6,180.26 348.73,179.32 349.23,178.6 349.5,177.82 349.41,176.94 349.83,176.2 350.06,175.41 350.38,174.64 350.46,173.8 350.53,172.96 350.75,172.17 351.13,171.42 351.14,170.56 351.75,169.88 352,169.09 351.88,168.2 352.35,167.47 352.57,166.68 352.5,165.8 353.08,165.1 353.3,164.31 353.48,163.43 354.04,164.31 354.41,165.3 354.42,166.19 354.84,166.94 354.92,167.8 355.52,168.49 355.81,169.28 355.94,170.12 355.92,171.01 356.56,171.69 356.87,172.47 356.77,173.39 357.38,174.08 357.34,174.97 357.9,175.67 358.06,176.46 358.4,177.27 358.83,178.01 359.55,178.52 360.05,179.2 360.76,179.72 361.14,180.49 361.68,181.1 362.72,182.16 362.81,182.96 362.82,183.76 363.01,184.55 362.97,185.36 363.34,186.14 363.25,186.95 363.35,187.74 363.41,188.54 363.21,189.36 363.55,190.14 363.54,190.94 363.62,191.74 363.35,192.56 363.53,193.36 363.67,194.15 363.77,194.95 363.53,195.77 363.57,196.57 363.89,197.35 363.88,198.16 364.12,199.08 364.38,198.25 364.9,197.62 365.35,196.95 366.04,196.46 366.67,195.94 367.17,195.06 367.85,195.65 368.45,196.38 369.36,196.61 370.14,197.03 370.77,197.71 371.84,198.07 371.79,197.07 371.89,196.1 372.39,195.24 372.52,194.42 373.34,194.67 374.2,194.68 375.07,194.65 375.89,194.92 376.75,194.95 377.57,195.19 378.4,195.36 379.19,195.75 380.03,195.91 380.86,196.07 381.74,195.99 382.67,196.39 383.25,195.67 384.16,195.77 384.85,195.33 385.64,195.16 386.29,194.62 387.16,194.62 387.71,193.83 388.62,193.95 389.36,193.64 390.02,193.12 390.86,193.05 391.48,192.44 392.33,192.42 393.02,191.98 393.76,191.65 394.46,191.24 395.33,191.26 396.06,190.92 396.68,190.3 397.6,190.46 398.2,189.77 399,189.62" fill="none" stroke="#ff00ff" stroke-width="1.5" stroke-linejoin="round"/>
<polyline points="336.56,190.12 337.24,189.58 337.97,189.09 338.74,188.66 339.43,188.12 339.99,187.43 340.55,186.78 340.88,185.93 341.32,185.14 341.99,184.49 342.48,183.73 342.87,182.91 343.61,182.21 343.53,181.2 343.73,180.26 343.99,179.34 344.41,178.31 344.52,179.25 345.13,179.84 345.61,180.53 346.05,181.2 346.36,180.35 346.78,179.57 347.26,178.81 347.63,178 348.28,177.33 348.46,176.43 348.67,175.56 348.84,174.76 349.15,174 349.5,173.25 349.99,172.55 350.3,171.79 350.21,170.9 350.75,170.21 350.82,169.38 351.12,168.62 351.38,167.84 351.37,166.98 351.64,166.2 352.21,165.53 352.47,164.75 352.56,163.92 353.1,163.23 353.3,162.44 353.49,161.57 353.92,162.47 353.97,163.48 354.22,164.43 354.7,165.16 355.06,165.93 355.09,166.81 355.58,167.53 355.48,168.45 355.8,169.23 356.24,169.97 356.41,170.8 356.78,171.57 357.07,172.36 357.33,173.16 357.26,174.07 357.71,174.8 357.85,175.68 358.47,176.27 358.72,177.1 359.27,177.74 359.7,178.46 360.28,179.08 360.66,179.83 361.28,180.42 361.44,181.42 362.78,182.15 362.91,182.95 362.9,183.75 363.25,184.53 363.17,185.34 363.28,186.14 363,186.96 363.51,187.73 363.32,188.55 363.14,189.36 363.24,190.16 363.33,190.96 363.61,191.74 363.7,192.54 363.49,193.36 363.77,194.15 363.59,194.96 363.84,195.75 363.67,196.56 363.82,197.36 363.74,198.17 363.7,198.99 364.16,199.78 363.96,200.67 364.62,201.43 364.27,202.35 364.86,203.12 364.71,204 364.92,204.83 364.84,205.7 365.22,206.5 365.15,207.23 366.05,206.96 366.68,206.34 367.46,205.91 368.08,205.28 368.64,204.56 369.59,204.37 370.12,203.6 370.91,203.19 371.36,202.64 371.68,201.73 372.09,200.84 372.32,199.92 372.44,198.97 372.55,197.99 373.27,198.43 374.06,198.68 374.92,198.73 375.62,199.19 376.38,199.51 377.13,199.86 378.01,199.88 378.76,200.22 379.52,200.53 380.34,200.68 381.06,201.1 381.76,201.59 382.6,201.79 383.21,201.23 384.06,201.14 384.62,200.47 385.5,200.42 386.06,199.76 386.76,199.37 387.51,199.08 388.29,198.84 388.95,198.35 389.81,198.29 390.54,197.95 391.09,197.26 391.92,197.13 392.62,196.74 393.3,196.3 393.94,195.79 394.83,195.76 395.54,195.4 396.02,194.58 396.82,194.36 397.53,194 398.21,193.57 399,193.35" fill="none" stroke="#008000" stroke-width="1.5" stroke-linejoin="round"/>
<polyline points="336.55,190.11 337.58,189.99 337.57,188.62 338.87,188.81 339.13,187.76 339.57,186.93 341.02,187.08 340.84,185.98 341.24,185.25 341.6,184.51 342.3,183.99 342.51,183.14 343.01,182.52 343.54,181.72 344.35,181.07 344.66,180.16 345.39,179.24 345.51,180.11 345.61,180.99 346.03,181.71 346.81,182.25 347.49,183.22 347.57,182.36 347.53,181.47 347.66,180.62 347.71,179.76 347.71,178.88 348.82,178.31 348.72,177.4 348.36,176.4 349.57,175.93 349.78,175.13 349.05,174.04 350.07,173.51 349.79,172.56 350.39,171.89 350.98,171.22 350.68,170.27 351.1,169.54 351.55,168.83 351.26,167.87 352.01,167.26 352.03,166.4 352.93,165.83 352.27,164.76 353.12,164.18 352.6,163.15 353.65,162.48 354.06,163.36 354.25,164.31 354.04,165.35 354.67,166.14 354.24,167.18 355.32,167.69 355,168.7 355.01,169.58 356.13,170.07 356.3,170.9 355.96,171.91 356.58,172.58 356.33,173.56 357.29,174.11 357.5,174.92 357.14,175.94 358.11,176.44 357.93,177.55 358.46,178.2 359.62,178.45 359.73,179.38 359.78,180.34 361.07,180.49 360.79,181.68 361.4,182.42 362.57,183.1 362.8,183.89 363.46,184.65 362.48,185.52 363.56,186.25 362.79,187.11 362.92,187.9 363.46,188.67 363.07,189.5 363.45,190.28 363.09,191.1 364,191.85 362.98,192.72 363.69,193.48 363.24,194.31 363.69,195.08 363.33,195.91 364,196.67 363.76,197.49 364.44,198.25 363.93,199.09 364.48,199.84 363.61,200.75 363.9,201.57 364.27,202.37 363.68,203.26 363.78,204.08 363.84,204.91 364.97,205.65 364.29,206.55 364.33,207.38 364.55,208.2 365.33,208.97 364.31,209.89 364.96,210.67 364.85,211.52 364.65,212.37 365.37,213.14 365.74,213.95 365.63,215.16 365.57,214.02 365.89,213.22 366.51,212.67 367.83,212.73 368.13,211.9 368.17,210.86 368.65,210.19 369.87,210.16 370.19,209.35 370.64,208.67 370.76,207.69 371.53,207.33 372.38,206.55 371.5,205.35 372.22,204.53 372.59,203.09 373.32,204.3 374.26,203.3 375,204.4 375.85,204.34 376.7,204.29 377.61,203.54 378.38,204.4 379.23,204.24 380.07,204.31 380.95,203.97 381.74,204.49 382.71,204.9 383.16,203.84 384.24,204.38 384.78,203.57 385.46,203.1 386.19,202.78 387.04,202.73 387.87,202.64 388.58,202.26 389.47,202.32 390.05,201.6 390.8,201.3 391.75,201.54 392.15,200.37 392.81,199.85 393.7,199.91 394.44,199.59 395.1,199.08 395.98,199.12 396.55,198.39 397.7,199.09 398.25,198.3 399,198.02" fill="none" stroke="#00ffff" stroke-width="1.8" stroke-linejoin="round"/>
<polyline points="336.76,190.37 337.35,189.72 338.04,189.17 338.72,188.63 339.19,187.84 340.04,187.49 340.45,186.71 341.1,186.15 341.58,185.48 342.13,184.86 342.26,183.96 342.81,183.34 343.56,182.75 343.73,181.89 344.02,181.06 343.65,180.08 343.89,179.23 344.49,178.28 344.59,179.28 345.03,180.08 345.55,180.84 346.26,181.66 346.44,180.85 346.81,180.11 347.37,179.46 347.55,178.64 347.89,177.9 348.19,177.13 348.48,176.36 348.99,175.66 349.12,174.85 349.1,173.98 349.54,173.26 349.79,172.48 350.05,171.71 350.38,170.96 350.51,170.14 350.78,169.37 351.06,168.59 351.28,167.81 351.91,167.15 351.61,166.19 351.82,165.4 352.51,164.76 352.56,163.92 352.85,163.15 353.19,162.4 353.47,161.58 353.85,162.49 354.3,163.38 354.06,164.48 354.28,165.3 354.95,165.96 355.1,166.8 355.45,167.57 355.88,168.32 355.62,169.29 355.91,170.08 356.55,170.76 356.8,171.56 356.78,172.45 356.98,173.27 357.45,174.01 357.76,174.79 358.09,175.52 358.24,176.42 358.66,177.14 359.12,177.84 359.99,178.27 360.18,179.15 360.42,179.99 361.02,180.59 361.61,181.19 363.11,182.13 363.22,182.94 362.83,183.78 363.32,184.57 362.89,185.41 363.04,186.22 363.22,187.02 363,187.85 363.03,188.67 363.29,189.46 363.68,190.25 363.42,191.09 363.58,191.89 363.75,192.7 363.36,193.54 363.54,194.34 364,195.13 363.98,195.94 363.96,196.76 363.87,197.58 364.08,198.37 364.15,199.18 364.05,200.01 364.6,200.72 364.39,201.57 364.79,202.32 364.53,203.18 364.67,203.97 365.22,204.68 365.3,205.53 365.55,204.71 366.21,204.21 366.83,203.67 367.34,203.06 367.7,202.31 368.05,201.56 368.6,200.98 369.33,200.54 369.63,199.76 370.25,199.07 370.96,198.44 371.66,197.8 372,196.91 372.54,195.99 373.46,196.21 374.37,196 375.37,196.32 375.91,195.58 376.67,195.27 377.45,195 378.32,194.9 378.83,194.09 379.57,193.73 380.28,193.32 381.03,193 381.8,192.69 382.54,192.36 383.36,192.09 383.91,191.43 384.62,191 385.28,190.49 386.1,190.23 386.83,189.84 387.34,189.11 388.21,188.91 388.64,188.08 389.6,188.01 390.11,187.3 390.86,186.92 391.43,186.28 392.07,185.76 392.71,185.22 393.67,185.16 394.16,184.41 394.97,184.12 395.56,183.53 396.27,183.1 396.84,182.45 397.51,181.97 398.25,181.59 399,181.21" fill="none" stroke="#ff0000" stroke-width="1.5" stroke-linejoin="round" stroke-dasharray="2.6 0.9"/>
<polyline points="336.68,190.27 337.29,189.64 337.73,188.81 338.7,188.6 339.25,187.9 339.76,187.16 340.48,186.73 340.91,186.03 341.7,185.57 342.01,184.78 342.34,184.01 342.76,183.3 343.22,182.68 343.39,181.82 343.62,180.97 344.09,180.17 344.27,179.31 344.15,178.48 344.5,179.33 345.09,180.05 345.85,180.67 345.81,181.46 346.23,180.75 346.63,180.03 347.13,179.35 347.65,178.69 347.85,177.88 348.1,177.09 348.33,176.29 349.13,175.71 349.24,174.9 349.23,174.04 349.3,173.22 350.14,172.64 349.94,171.72 350.56,171.08 350.36,170.16 350.95,169.5 351.02,168.67 351.6,168.02 351.48,167.13 351.62,166.32 351.93,165.57 352.56,164.93 352.93,164.2 352.97,163.36 353.25,162.6 353.52,161.75 353.83,162.62 354.25,163.45 353.99,164.51 354.85,165.12 354.75,166.03 355.17,166.78 355.54,167.55 355.64,168.4 355.59,169.3 356.28,169.96 356.59,170.74 356.56,171.64 356.81,172.44 357.16,173.21 357.63,173.95 357.45,174.89 358.16,175.47 358.58,176.2 359,176.92 359.31,177.72 359.79,178.4 360.2,179.13 360.56,179.9 360.92,180.66 361.61,181.2 363.18,182.13 362.71,182.96 363.3,183.73 363.15,184.54 363.32,185.33 363.07,186.15 363,186.96 363.48,187.73 363.43,188.54 363.11,189.37 363.27,190.16 363.7,190.93 363.38,191.76 363.36,192.56 363.66,193.35 363.88,194.14 363.6,194.96 363.88,195.75 364.05,196.54 364.08,197.34 363.98,198.15 364.21,198.92 364.17,199.78 364.19,200.64 364.32,201.48 364.54,202.31 364.41,203.19 365,203.96 364.97,204.82 364.71,205.72 364.88,206.55 365.46,207.54 365.94,206.83 366.39,206.08 367.07,205.54 367.53,204.8 367.86,203.96 368.49,203.37 368.97,202.66 369.92,202.35 370.21,201.46 370.81,200.85 371.44,200.26 371.78,199.43 372.59,199.08 373.52,198.83 374.43,198.52 375.41,198.23 375.89,197.49 376.51,196.97 377.41,196.89 378.06,196.42 378.62,195.81 379.29,195.37 379.9,194.84 380.82,194.79 381.37,194.16 382.17,193.93 382.68,193.24 383.35,192.8 384.1,192.48 384.85,192.18 385.58,191.83 386.07,191.11 386.87,190.87 387.45,190.28 388.28,190.11 388.93,189.63 389.53,189.09 390.14,188.55 390.79,188.08 391.68,187.99 392.33,187.52 392.83,186.81 393.43,186.26 394.15,185.9 395.1,185.9 395.45,184.96 396.4,184.96 396.98,184.38 397.66,183.97 398.34,183.53 399,183.08" fill="none" stroke="#0000ff" stroke-width="1.5" stroke-linejoin="round" stroke-dasharray="2.6 0.9" stroke-dashoffset="1.6"/>
<polyline points="336.53,190.1 337.32,189.61 337.6,188.57 338.95,188.68 338.95,187.34 339.65,186.75 340.79,186.56 341.21,185.85 341.84,185.28 342.18,184.52 342.87,183.99 342.44,182.72 342.77,182.23 343.19,181.47 343.99,180.78 343.39,179.83 344,179.1 344.43,178.35 344.64,177.3 344.6,178.24 344.56,179.19 345.09,179.85 345.83,180.41 346.06,181.2 346.19,180.36 347.28,179.95 347.42,179.12 347.65,178.32 347.58,177.38 348.4,176.85 348.47,175.98 349.17,175.34 348.91,174.4 349.75,173.8 349.76,172.95 349.73,172.08 350.1,171.33 350.62,170.63 350.54,169.75 351.28,169.11 350.41,167.99 351.69,167.52 351.71,166.67 351.69,165.8 352.35,165.14 351.78,164.11 352.24,163.39 352.91,162.73 353.28,161.99 353,161.04 352.81,160.44 353.44,161.28 354.38,162.04 354.51,162.99 354.79,163.88 354.46,164.83 354.99,165.51 355.3,166.26 355.33,167.1 356,167.74 355.29,168.81 355.61,169.56 356.18,170.23 356.55,170.96 356.95,171.68 356.86,172.56 357.39,173.24 356.91,174.24 357.18,175.01 357.72,175.76 358.07,176.53 359.29,176.73 359.7,177.46 359.93,178.31 360.61,178.87 360.76,179.76 360.65,180.84 361.36,181.54 362.32,182.19 363.26,182.94 363.32,183.75 363.61,184.55 363.37,185.38 363.68,186.17 363.17,187.02 363.5,187.82 363.1,188.66 363.29,189.46 363.3,190.28 363.72,191.07 363.25,191.91 363.36,192.72 363.38,193.54 363.73,194.33 363.79,195.14 364.06,195.94 364.41,196.73 363.95,197.58 363.83,198.41 364.44,199.15 363.73,200.06 363.81,200.86 363.94,201.66 364.08,202.46 364.57,203.22 365.05,203.98 365.03,204.8 364.57,205.67 364.37,206.51 365.52,207.19 365.74,207.97 365.1,208.75 365.61,208.06 366.35,207.55 366.39,206.52 367.61,206.36 367.62,205.31 368.68,205.04 368.63,203.94 369.11,203.23 369.46,202.5 370.69,202.24 370.68,201.3 371.33,200.72 370.91,199.56 371.81,199.11 372.4,198.5 372.39,198.21 373.32,198.41 374.49,197.68 375.28,198.24 376.09,199 376.9,198.44 377.71,198.95 378.52,198.1 379.34,197.82 380.15,198.93 380.96,198.11 381.77,198.47 382.48,198.26 383.29,198.01 384.2,197.9 384.86,197.45 385.47,196.91 385.69,195.84 386.74,195.93 386.84,194.68 387.78,194.61 388.8,194.67 388.98,193.52 389.71,193.17 390.52,192.92 390.93,192.11 391.92,192.12 392.54,191.6 392.81,190.58 394.04,190.94 394.1,189.63 395.2,189.79 395.61,188.98 396.12,188.32 396.74,187.79 398.03,188.23 398.55,187.58 399,186.82" fill="none" stroke="#00ff00" stroke-width="1.7" stroke-linejoin="round" stroke-dasharray="3.6 0.6"/>
</g>
<rect x="336.6" y="160.3" width="62.4" height="54.9" fill="none" stroke="#8a8a8a" stroke-width="0.8"/>
<line x1="336.6" y1="215.2" x2="336.6" y2="214" stroke="#8a8a8a" stroke-width="0.6"/>
<line x1="336.6" y1="160.3" x2="336.6" y2="161.5" stroke="#8a8a8a" stroke-width="0.6"/>
<text x="336.6" y="221.5" font-size="5.2" text-anchor="middle" fill="#4a4a4a">0</text>
<line x1="351.46" y1="215.2" x2="351.46" y2="214" stroke="#8a8a8a" stroke-width="0.6"/>
<line x1="351.46" y1="160.3" x2="351.46" y2="161.5" stroke="#8a8a8a" stroke-width="0.6"/>
<text x="351.46" y="221.5" font-size="5.2" text-anchor="middle" fill="#4a4a4a">100</text>
<line x1="366.31" y1="215.2" x2="366.31" y2="214" stroke="#8a8a8a" stroke-width="0.6"/>
<line x1="366.31" y1="160.3" x2="366.31" y2="161.5" stroke="#8a8a8a" stroke-width="0.6"/>
<text x="366.31" y="221.5" font-size="5.2" text-anchor="middle" fill="#4a4a4a">200</text>
<line x1="381.17" y1="215.2" x2="381.17" y2="214" stroke="#8a8a8a" stroke-width="0.6"/>
<line x1="381.17" y1="160.3" x2="381.17" y2="161.5" stroke="#8a8a8a" stroke-width="0.6"/>
<text x="381.17" y="221.5" font-size="5.2" text-anchor="middle" fill="#4a4a4a">300</text>
<line x1="396.03" y1="215.2" x2="396.03" y2="214" stroke="#8a8a8a" stroke-width="0.6"/>
<line x1="396.03" y1="160.3" x2="396.03" y2="161.5" stroke="#8a8a8a" stroke-width="0.6"/>
<text x="396.03" y="221.5" font-size="5.2" text-anchor="middle" fill="#4a4a4a">400</text>
<text x="367.8" y="227.8" font-size="5.3" text-anchor="middle" fill="#4a4a4a" letter-spacing="-0.3">Time(s)</text>
<line x1="336.6" y1="168.2" x2="337.8" y2="168.2" stroke="#8a8a8a" stroke-width="0.6"/>
<line x1="399" y1="168.2" x2="397.8" y2="168.2" stroke="#8a8a8a" stroke-width="0.6"/>
<text x="335" y="170" font-size="5.2" text-anchor="end" fill="#4a4a4a">0.01</text>
<line x1="336.6" y1="179.39" x2="337.8" y2="179.39" stroke="#8a8a8a" stroke-width="0.6"/>
<line x1="399" y1="179.39" x2="397.8" y2="179.39" stroke="#8a8a8a" stroke-width="0.6"/>
<text x="335" y="181.19" font-size="5.2" text-anchor="end" fill="#4a4a4a">0.005</text>
<line x1="336.6" y1="190.58" x2="337.8" y2="190.58" stroke="#8a8a8a" stroke-width="0.6"/>
<line x1="399" y1="190.58" x2="397.8" y2="190.58" stroke="#8a8a8a" stroke-width="0.6"/>
<text x="335" y="192.38" font-size="5.2" text-anchor="end" fill="#4a4a4a">0</text>
<line x1="336.6" y1="201.77" x2="337.8" y2="201.77" stroke="#8a8a8a" stroke-width="0.6"/>
<line x1="399" y1="201.77" x2="397.8" y2="201.77" stroke="#8a8a8a" stroke-width="0.6"/>
<text x="335" y="203.57" font-size="5.2" text-anchor="end" fill="#4a4a4a">-0.005</text>
<line x1="336.6" y1="212.96" x2="337.8" y2="212.96" stroke="#8a8a8a" stroke-width="0.6"/>
<line x1="399" y1="212.96" x2="397.8" y2="212.96" stroke="#8a8a8a" stroke-width="0.6"/>
<text x="335" y="214.76" font-size="5.2" text-anchor="end" fill="#4a4a4a">-0.01</text>
<text x="324.6" y="187.75" font-size="5.3" text-anchor="middle" transform="rotate(-90 324.6 187.75)" fill="#4a4a4a" dominant-baseline="central" letter-spacing="-0.3">HE(°)</text>
<rect x="170.4" y="5.9" width="227.6" height="14.6" fill="#fff" stroke="#8a8a8a" stroke-width="0.8"/>
<polyline points="184.4,9.6 194,9.6" fill="none" stroke="#ff00ff" stroke-width="1.4" stroke-linejoin="round"/>
<text x="194.6" y="11.5" font-size="5.55" fill="#4a4a4a">&#160;60s SO/MSR=0.55, k=1</text>
<polyline points="252.2,9.6 261.8,9.6" fill="none" stroke="#00ffff" stroke-width="1.4" stroke-linejoin="round"/>
<text x="262.4" y="11.5" font-size="5.55" fill="#4a4a4a">60s SO/MSR=0.55, k=9</text>
<polyline points="320.4,9.6 330,9.6" fill="none" stroke="#0000ff" stroke-width="1.4" stroke-linejoin="round" stroke-dasharray="2.3 1.3"/>
<text x="330.6" y="11.5" font-size="5.55" fill="#4a4a4a">60s AO/MSR=0.55, k=5</text>
<polyline points="184.4,16.6 194,16.6" fill="none" stroke="#008000" stroke-width="1.4" stroke-linejoin="round"/>
<text x="194.6" y="18.5" font-size="5.55" fill="#4a4a4a">60s SO/MSR=0.55, k=5</text>
<polyline points="252.2,16.6 261.8,16.6" fill="none" stroke="#ff0000" stroke-width="1.4" stroke-linejoin="round" stroke-dasharray="2.3 1.3"/>
<text x="262.4" y="18.5" font-size="5.55" fill="#4a4a4a">&#160;60s AO/MSR=0.55, k=1</text>
<polyline points="320.4,16.6 330,16.6" fill="none" stroke="#00ff00" stroke-width="1.4" stroke-linejoin="round" stroke-dasharray="2.3 1.3"/>
<text x="330.6" y="18.5" font-size="5.55" fill="#4a4a4a">60s AO/MSR=0.55, k=9</text>
<line x1="44.16" y1="426.43" x2="140.36" y2="475.93" stroke="#e4e4e4" stroke-width="0.6"/>
<line x1="61.91" y1="421.06" x2="158.11" y2="470.56" stroke="#e4e4e4" stroke-width="0.6"/>
<line x1="79.67" y1="415.69" x2="175.87" y2="465.19" stroke="#e4e4e4" stroke-width="0.6"/>
<line x1="97.43" y1="410.31" x2="193.63" y2="459.81" stroke="#e4e4e4" stroke-width="0.6"/>
<line x1="115.19" y1="404.94" x2="211.39" y2="454.44" stroke="#e4e4e4" stroke-width="0.6"/>
<line x1="132.94" y1="399.57" x2="229.14" y2="449.07" stroke="#e4e4e4" stroke-width="0.6"/>
<line x1="42.43" y1="440.05" x2="166.73" y2="402.45" stroke="#e4e4e4" stroke-width="0.6"/>
<line x1="58.47" y1="448.3" x2="182.77" y2="410.7" stroke="#e4e4e4" stroke-width="0.6"/>
<line x1="74.5" y1="456.55" x2="198.8" y2="418.95" stroke="#e4e4e4" stroke-width="0.6"/>
<line x1="90.53" y1="464.8" x2="214.83" y2="427.2" stroke="#e4e4e4" stroke-width="0.6"/>
<line x1="106.57" y1="473.05" x2="230.87" y2="435.45" stroke="#e4e4e4" stroke-width="0.6"/>
<line x1="44.16" y1="426.43" x2="44.16" y2="319.83" stroke="#e4e4e4" stroke-width="0.6"/>
<line x1="61.91" y1="421.06" x2="61.91" y2="314.46" stroke="#e4e4e4" stroke-width="0.6"/>
<line x1="79.67" y1="415.69" x2="79.67" y2="309.09" stroke="#e4e4e4" stroke-width="0.6"/>
<line x1="97.43" y1="410.31" x2="97.43" y2="303.71" stroke="#e4e4e4" stroke-width="0.6"/>
<line x1="115.19" y1="404.94" x2="115.19" y2="298.34" stroke="#e4e4e4" stroke-width="0.6"/>
<line x1="132.94" y1="399.57" x2="132.94" y2="292.97" stroke="#e4e4e4" stroke-width="0.6"/>
<line x1="26.4" y1="416.57" x2="150.7" y2="378.97" stroke="#e4e4e4" stroke-width="0.6"/>
<line x1="26.4" y1="401.34" x2="150.7" y2="363.74" stroke="#e4e4e4" stroke-width="0.6"/>
<line x1="26.4" y1="386.11" x2="150.7" y2="348.51" stroke="#e4e4e4" stroke-width="0.6"/>
<line x1="26.4" y1="370.89" x2="150.7" y2="333.29" stroke="#e4e4e4" stroke-width="0.6"/>
<line x1="26.4" y1="355.66" x2="150.7" y2="318.06" stroke="#e4e4e4" stroke-width="0.6"/>
<line x1="26.4" y1="340.43" x2="150.7" y2="302.83" stroke="#e4e4e4" stroke-width="0.6"/>
<line x1="166.73" y1="402.45" x2="166.73" y2="295.85" stroke="#e4e4e4" stroke-width="0.6"/>
<line x1="182.77" y1="410.7" x2="182.77" y2="304.1" stroke="#e4e4e4" stroke-width="0.6"/>
<line x1="198.8" y1="418.95" x2="198.8" y2="312.35" stroke="#e4e4e4" stroke-width="0.6"/>
<line x1="214.83" y1="427.2" x2="214.83" y2="320.6" stroke="#e4e4e4" stroke-width="0.6"/>
<line x1="230.87" y1="435.45" x2="230.87" y2="328.85" stroke="#e4e4e4" stroke-width="0.6"/>
<line x1="150.7" y1="378.97" x2="246.9" y2="428.47" stroke="#e4e4e4" stroke-width="0.6"/>
<line x1="150.7" y1="363.74" x2="246.9" y2="413.24" stroke="#e4e4e4" stroke-width="0.6"/>
<line x1="150.7" y1="348.51" x2="246.9" y2="398.01" stroke="#e4e4e4" stroke-width="0.6"/>
<line x1="150.7" y1="333.29" x2="246.9" y2="382.79" stroke="#e4e4e4" stroke-width="0.6"/>
<line x1="150.7" y1="318.06" x2="246.9" y2="367.56" stroke="#e4e4e4" stroke-width="0.6"/>
<line x1="150.7" y1="302.83" x2="246.9" y2="352.33" stroke="#e4e4e4" stroke-width="0.6"/>
<line x1="26.4" y1="431.8" x2="122.6" y2="481.3" stroke="#8a8a8a" stroke-width="0.75"/>
<line x1="122.6" y1="481.3" x2="246.9" y2="443.7" stroke="#8a8a8a" stroke-width="0.75"/>
<line x1="246.9" y1="443.7" x2="150.7" y2="394.2" stroke="#8a8a8a" stroke-width="0.75"/>
<line x1="150.7" y1="394.2" x2="26.4" y2="431.8" stroke="#8a8a8a" stroke-width="0.75"/>
<line x1="26.4" y1="431.8" x2="26.4" y2="325.2" stroke="#8a8a8a" stroke-width="0.75"/>
<line x1="150.7" y1="394.2" x2="150.7" y2="287.6" stroke="#8a8a8a" stroke-width="0.75"/>
<line x1="246.9" y1="443.7" x2="246.9" y2="337.1" stroke="#8a8a8a" stroke-width="0.75"/>
<line x1="26.4" y1="325.2" x2="150.7" y2="287.6" stroke="#8a8a8a" stroke-width="0.75"/>
<line x1="150.7" y1="287.6" x2="246.9" y2="337.1" stroke="#8a8a8a" stroke-width="0.75"/>
<line x1="26.4" y1="431.8" x2="25" y2="431.1" stroke="#8a8a8a" stroke-width="0.6"/>
<text x="22.4" y="432.2" font-size="5.3" text-anchor="end" fill="#4a4a4a">0.99</text>
<line x1="26.4" y1="416.57" x2="25" y2="415.87" stroke="#8a8a8a" stroke-width="0.6"/>
<text x="22.4" y="416.97" font-size="5.3" text-anchor="end" fill="#4a4a4a">1</text>
<line x1="26.4" y1="401.34" x2="25" y2="400.64" stroke="#8a8a8a" stroke-width="0.6"/>
<text x="22.4" y="401.74" font-size="5.3" text-anchor="end" fill="#4a4a4a">1.01</text>
<line x1="26.4" y1="386.11" x2="25" y2="385.41" stroke="#8a8a8a" stroke-width="0.6"/>
<text x="22.4" y="386.51" font-size="5.3" text-anchor="end" fill="#4a4a4a">1.02</text>
<line x1="26.4" y1="370.89" x2="25" y2="370.19" stroke="#8a8a8a" stroke-width="0.6"/>
<text x="22.4" y="371.29" font-size="5.3" text-anchor="end" fill="#4a4a4a">1.03</text>
<line x1="26.4" y1="355.66" x2="25" y2="354.96" stroke="#8a8a8a" stroke-width="0.6"/>
<text x="22.4" y="356.06" font-size="5.3" text-anchor="end" fill="#4a4a4a">1.04</text>
<line x1="26.4" y1="340.43" x2="25" y2="339.73" stroke="#8a8a8a" stroke-width="0.6"/>
<text x="22.4" y="340.83" font-size="5.3" text-anchor="end" fill="#4a4a4a">1.05</text>
<line x1="26.4" y1="325.2" x2="25" y2="324.5" stroke="#8a8a8a" stroke-width="0.6"/>
<text x="22.4" y="325.6" font-size="5.3" text-anchor="end" fill="#4a4a4a">1.06</text>
<text x="15" y="315.6" font-size="5.0" fill="#4a4a4a">×10<tspan font-size="3.6" dy="-2.2">4</tspan></text>
<text x="9.3" y="378.6" font-size="5.5" text-anchor="middle" transform="rotate(-90 9.3 378.6)" fill="#4a4a4a" dominant-baseline="central">Altitude(m)</text>
<line x1="26.4" y1="431.8" x2="24.9" y2="432.25" stroke="#8a8a8a" stroke-width="0.6"/>
<text x="17.9" y="439.1" font-size="5.3" text-anchor="middle" fill="#4a4a4a">-2.4</text>
<line x1="42.43" y1="440.05" x2="40.93" y2="440.5" stroke="#8a8a8a" stroke-width="0.6"/>
<text x="33.93" y="447.35" font-size="5.3" text-anchor="middle" fill="#4a4a4a">-2.6</text>
<line x1="58.47" y1="448.3" x2="56.97" y2="448.75" stroke="#8a8a8a" stroke-width="0.6"/>
<text x="49.97" y="455.6" font-size="5.3" text-anchor="middle" fill="#4a4a4a">-2.8</text>
<line x1="74.5" y1="456.55" x2="73" y2="457" stroke="#8a8a8a" stroke-width="0.6"/>
<text x="66" y="463.85" font-size="5.3" text-anchor="middle" fill="#4a4a4a">-3</text>
<line x1="90.53" y1="464.8" x2="89.03" y2="465.25" stroke="#8a8a8a" stroke-width="0.6"/>
<text x="82.03" y="472.1" font-size="5.3" text-anchor="middle" fill="#4a4a4a">-3.2</text>
<line x1="106.57" y1="473.05" x2="105.07" y2="473.5" stroke="#8a8a8a" stroke-width="0.6"/>
<text x="98.07" y="480.35" font-size="5.3" text-anchor="middle" fill="#4a4a4a">-3.4</text>
<line x1="122.6" y1="481.3" x2="121.1" y2="481.75" stroke="#8a8a8a" stroke-width="0.6"/>
<text x="114.1" y="488.6" font-size="5.3" text-anchor="middle" fill="#4a4a4a">-3.6</text>
<text x="66.8" y="486.4" font-size="5.6" text-anchor="middle" fill="#4a4a4a">Longitude(°)</text>
<line x1="122.6" y1="481.3" x2="123.9" y2="481.97" stroke="#8a8a8a" stroke-width="0.6"/>
<text x="132.2" y="489.6" font-size="5.3" text-anchor="middle" fill="#4a4a4a">50.3</text>
<line x1="140.36" y1="475.93" x2="141.66" y2="476.6" stroke="#8a8a8a" stroke-width="0.6"/>
<text x="149.96" y="484.23" font-size="5.3" text-anchor="middle" fill="#4a4a4a">50.32</text>
<line x1="158.11" y1="470.56" x2="159.41" y2="471.23" stroke="#8a8a8a" stroke-width="0.6"/>
<text x="167.71" y="478.86" font-size="5.3" text-anchor="middle" fill="#4a4a4a">50.34</text>
<line x1="175.87" y1="465.19" x2="177.17" y2="465.86" stroke="#8a8a8a" stroke-width="0.6"/>
<text x="185.47" y="473.49" font-size="5.3" text-anchor="middle" fill="#4a4a4a">50.36</text>
<line x1="193.63" y1="459.81" x2="194.93" y2="460.48" stroke="#8a8a8a" stroke-width="0.6"/>
<text x="203.23" y="468.11" font-size="5.3" text-anchor="middle" fill="#4a4a4a">50.38</text>
<line x1="211.39" y1="454.44" x2="212.69" y2="455.11" stroke="#8a8a8a" stroke-width="0.6"/>
<text x="220.99" y="462.74" font-size="5.3" text-anchor="middle" fill="#4a4a4a">50.4</text>
<line x1="229.14" y1="449.07" x2="230.44" y2="449.74" stroke="#8a8a8a" stroke-width="0.6"/>
<text x="238.74" y="457.37" font-size="5.3" text-anchor="middle" fill="#4a4a4a">50.42</text>
<line x1="246.9" y1="443.7" x2="248.2" y2="444.37" stroke="#8a8a8a" stroke-width="0.6"/>
<text x="256.5" y="452" font-size="5.3" text-anchor="middle" fill="#4a4a4a">50.44</text>
<text x="186.3" y="488.6" font-size="5.6" text-anchor="middle" fill="#4a4a4a">Latitude(°)</text>
<polygon points="100.2,397 161.5,427.4 243.1,403.4 243.1,337.1 181.8,306.7 100.2,330.7" fill="#ffffff" stroke="none"/>
<line x1="116.93" y1="392.08" x2="178.23" y2="422.48" stroke="#e4e4e4" stroke-width="0.6"/>
<line x1="116.93" y1="392.08" x2="116.93" y2="325.78" stroke="#e4e4e4" stroke-width="0.6"/>
<line x1="135.12" y1="386.73" x2="196.42" y2="417.13" stroke="#e4e4e4" stroke-width="0.6"/>
<line x1="135.12" y1="386.73" x2="135.12" y2="320.43" stroke="#e4e4e4" stroke-width="0.6"/>
<line x1="153.4" y1="381.35" x2="214.7" y2="411.75" stroke="#e4e4e4" stroke-width="0.6"/>
<line x1="153.4" y1="381.35" x2="153.4" y2="315.05" stroke="#e4e4e4" stroke-width="0.6"/>
<line x1="171.6" y1="376" x2="232.9" y2="406.4" stroke="#e4e4e4" stroke-width="0.6"/>
<line x1="171.6" y1="376" x2="171.6" y2="309.7" stroke="#e4e4e4" stroke-width="0.6"/>
<line x1="113.99" y1="403.84" x2="195.59" y2="379.84" stroke="#e4e4e4" stroke-width="0.6"/>
<line x1="195.59" y1="379.84" x2="195.59" y2="313.54" stroke="#e4e4e4" stroke-width="0.6"/>
<line x1="129.81" y1="411.68" x2="211.41" y2="387.68" stroke="#e4e4e4" stroke-width="0.6"/>
<line x1="211.41" y1="387.68" x2="211.41" y2="321.38" stroke="#e4e4e4" stroke-width="0.6"/>
<line x1="145.62" y1="419.53" x2="227.22" y2="395.53" stroke="#e4e4e4" stroke-width="0.6"/>
<line x1="227.22" y1="395.53" x2="227.22" y2="329.23" stroke="#e4e4e4" stroke-width="0.6"/>
<line x1="161.5" y1="427.4" x2="243.1" y2="403.4" stroke="#e4e4e4" stroke-width="0.6"/>
<line x1="243.1" y1="403.4" x2="243.1" y2="337.1" stroke="#e4e4e4" stroke-width="0.6"/>
<line x1="100.2" y1="390.4" x2="181.8" y2="366.4" stroke="#e4e4e4" stroke-width="0.6"/>
<line x1="181.8" y1="366.4" x2="243.1" y2="396.8" stroke="#e4e4e4" stroke-width="0.6"/>
<line x1="100.2" y1="378.9" x2="181.8" y2="354.9" stroke="#e4e4e4" stroke-width="0.6"/>
<line x1="181.8" y1="354.9" x2="243.1" y2="385.3" stroke="#e4e4e4" stroke-width="0.6"/>
<line x1="100.2" y1="367.4" x2="181.8" y2="343.4" stroke="#e4e4e4" stroke-width="0.6"/>
<line x1="181.8" y1="343.4" x2="243.1" y2="373.8" stroke="#e4e4e4" stroke-width="0.6"/>
<line x1="100.2" y1="355.89" x2="181.8" y2="331.89" stroke="#e4e4e4" stroke-width="0.6"/>
<line x1="181.8" y1="331.89" x2="243.1" y2="362.29" stroke="#e4e4e4" stroke-width="0.6"/>
<line x1="100.2" y1="344.39" x2="181.8" y2="320.39" stroke="#e4e4e4" stroke-width="0.6"/>
<line x1="181.8" y1="320.39" x2="243.1" y2="350.79" stroke="#e4e4e4" stroke-width="0.6"/>
<line x1="100.2" y1="332.89" x2="181.8" y2="308.89" stroke="#e4e4e4" stroke-width="0.6"/>
<line x1="181.8" y1="308.89" x2="243.1" y2="339.29" stroke="#e4e4e4" stroke-width="0.6"/>
<line x1="100.2" y1="397" x2="161.5" y2="427.4" stroke="#8a8a8a" stroke-width="0.75"/>
<line x1="161.5" y1="427.4" x2="243.1" y2="403.4" stroke="#8a8a8a" stroke-width="0.75"/>
<line x1="243.1" y1="403.4" x2="181.8" y2="373" stroke="#8a8a8a" stroke-width="0.75"/>
<line x1="181.8" y1="373" x2="100.2" y2="397" stroke="#8a8a8a" stroke-width="0.75"/>
<line x1="100.2" y1="397" x2="100.2" y2="330.7" stroke="#8a8a8a" stroke-width="0.75"/>
<line x1="181.8" y1="373" x2="181.8" y2="306.7" stroke="#8a8a8a" stroke-width="0.75"/>
<line x1="243.1" y1="403.4" x2="243.1" y2="337.1" stroke="#8a8a8a" stroke-width="0.75"/>
<line x1="100.2" y1="330.7" x2="181.8" y2="306.7" stroke="#8a8a8a" stroke-width="0.75"/>
<line x1="181.8" y1="306.7" x2="243.1" y2="337.1" stroke="#8a8a8a" stroke-width="0.75"/>
<line x1="100.2" y1="390.4" x2="98.8" y2="389.7" stroke="#8a8a8a" stroke-width="0.6"/>
<text x="96.4" y="391.3" font-size="5.3" text-anchor="end" fill="#4a4a4a">1.044</text>
<line x1="100.2" y1="378.9" x2="98.8" y2="378.2" stroke="#8a8a8a" stroke-width="0.6"/>
<text x="96.4" y="379.8" font-size="5.3" text-anchor="end" fill="#4a4a4a">1.046</text>
<line x1="100.2" y1="367.4" x2="98.8" y2="366.7" stroke="#8a8a8a" stroke-width="0.6"/>
<text x="96.4" y="368.3" font-size="5.3" text-anchor="end" fill="#4a4a4a">1.048</text>
<line x1="100.2" y1="355.89" x2="98.8" y2="355.19" stroke="#8a8a8a" stroke-width="0.6"/>
<text x="96.4" y="356.79" font-size="5.3" text-anchor="end" fill="#4a4a4a">1.05</text>
<line x1="100.2" y1="344.39" x2="98.8" y2="343.69" stroke="#8a8a8a" stroke-width="0.6"/>
<text x="96.4" y="345.29" font-size="5.3" text-anchor="end" fill="#4a4a4a">1.052</text>
<line x1="100.2" y1="332.89" x2="98.8" y2="332.19" stroke="#8a8a8a" stroke-width="0.6"/>
<text x="96.4" y="333.79" font-size="5.3" text-anchor="end" fill="#4a4a4a">1.054</text>
<text x="88.2" y="320.3" font-size="5.0" fill="#4a4a4a">×10<tspan font-size="3.6" dy="-2.2">4</tspan></text>
<line x1="113.99" y1="403.84" x2="112.49" y2="404.29" stroke="#8a8a8a" stroke-width="0.6"/>
<text x="106.19" y="410.14" font-size="5.3" text-anchor="middle" fill="#4a4a4a">-2.5</text>
<line x1="129.81" y1="411.68" x2="128.31" y2="412.13" stroke="#8a8a8a" stroke-width="0.6"/>
<text x="122.01" y="417.98" font-size="5.3" text-anchor="middle" fill="#4a4a4a">-2.55</text>
<line x1="145.62" y1="419.53" x2="144.12" y2="419.98" stroke="#8a8a8a" stroke-width="0.6"/>
<text x="137.82" y="425.83" font-size="5.3" text-anchor="middle" fill="#4a4a4a">-2.6</text>
<line x1="161.5" y1="427.4" x2="160" y2="427.85" stroke="#8a8a8a" stroke-width="0.6"/>
<text x="153.7" y="433.7" font-size="5.3" text-anchor="middle" fill="#4a4a4a">-2.65</text>
<line x1="178.23" y1="422.48" x2="179.53" y2="423.15" stroke="#8a8a8a" stroke-width="0.6"/>
<text x="187.53" y="430.08" font-size="5.3" text-anchor="middle" fill="#4a4a4a">50.305</text>
<line x1="196.42" y1="417.13" x2="197.72" y2="417.8" stroke="#8a8a8a" stroke-width="0.6"/>
<text x="205.72" y="424.73" font-size="5.3" text-anchor="middle" fill="#4a4a4a">50.31</text>
<line x1="214.7" y1="411.75" x2="216" y2="412.42" stroke="#8a8a8a" stroke-width="0.6"/>
<text x="224" y="419.35" font-size="5.3" text-anchor="middle" fill="#4a4a4a">50.315</text>
<line x1="232.9" y1="406.4" x2="234.2" y2="407.07" stroke="#8a8a8a" stroke-width="0.6"/>
<text x="242.2" y="414" font-size="5.3" text-anchor="middle" fill="#4a4a4a">50.32</text>
<polyline points="109.4,360.9 162.9,386.3" fill="none" stroke="#000000" stroke-width="1.8" stroke-linejoin="round"/>
<polyline points="117.1,340.9 163.7,371.5 166,373" fill="none" stroke="#ff00ff" stroke-width="1.6" stroke-linejoin="round"/>
<polyline points="119.22,337.16 119.79,337.85 120.44,338.4 121.19,338.75 122.11,338.8 122.97,338.96 123.58,339.57 124.1,340.37 124.95,340.54 125.71,340.88 126.36,341.42 127.3,341.43 127.96,341.96 128.55,342.6 129.59,342.42 130.01,343.4 131.14,343.05 131.63,343.9 132.34,344.32 133.27,344.34 133.64,345.41 134.6,345.38 135.45,345.55 136.08,346.14 136.72,346.69 137.54,346.94 138.46,346.98 139.12,347.46 139.52,348.41 140.51,348.31 141.16,348.82 141.59,349.71 142.27,350.16 142.97,350.59 144.03,350.38 144.82,350.64 145.15,351.7 145.94,351.97 146.76,352.18 147.72,352.34 148.07,353.2 148.82,353.6 149.21,354.41 149.58,355.25 150.71,355.22 151.42,355.67 151.64,356.68 152.65,356.79 153.2,357.42 153.68,358.13 153.94,359.09 155,359.14 155.63,359.68 156.15,360.35 156.98,360.66 157.45,361.39 157.87,362.16 158.74,362.42 159.06,363.33 160.08,363.42 160.82,363.96 160.89,364.93 161.52,365.47 161.64,366.4 162.78,366.56 162.75,367.6 163.3,368.2 164.03,368.67 164.72,369.18 164.82,370.12 165.4,370.7" fill="none" stroke="#008000" stroke-width="1.6" stroke-linejoin="round"/>
<polyline points="119.02,334.21 119.92,334.27 120.63,334.68 121.18,335.35 121.94,335.66 122.77,335.85 123.64,335.97 124.15,336.71 124.8,337.22 125.26,338.05 125.89,338.58 126.9,338.45 127.77,338.58 128.54,338.86 128.96,339.77 129.59,340.3 130.64,340.12 131.03,341.06 131.52,341.84 132.65,341.51 132.97,342.59 134.03,342.38 134.58,343.05 135.13,343.72 136.3,343.33 136.9,343.91 137.2,345.11 138.51,344.32 139.09,344.99 139.71,345.57 140.28,346.27 141.08,346.5 141.63,347.24 142.53,347.28 143.68,346.81 144.52,347.38 145.17,347.95 145.39,348.96 146.41,349.17 146.52,350.28 147.03,350.99 148.07,351.18 148.03,352.44 149.07,352.6 149.26,353.7 150.42,353.52 150.85,354.3 151.56,354.71 152.45,354.89 152.66,355.95 153.97,355.58 154.41,356.34 155,356.91 155.13,357.98 156.12,358.21 157.2,358.36 157.57,359.24 157.89,360.16 158.32,360.97 159.63,360.88 159.6,362.17 160.63,362.43 160.87,363.24 161.4,363.9 161.78,364.63 161.5,365.73 161.99,366.41 162.39,367.13 163.01,367.73 163.58,368.55 164.74,368.25 165.63,368.51 165.97,369.92 167,369.9" fill="none" stroke="#00ffff" stroke-width="1.7" stroke-linejoin="round"/>
<polyline points="111.36,355.9 112.18,356.01 113.06,355.8 113.88,355.91 114.54,356.84 115.44,356.54 116.37,356.09 117.11,356.63 117.92,356.8 118.79,356.63 119.21,357.79 120,358.16 120.8,358.52 122.04,358.13 122.53,359 123.47,359.13 123.83,360.21 124.53,360.74 125.29,361.16 126.03,361.61 127.19,361.36 128.03,361.72 128.81,362.36 129.14,363.67 129.88,364.13 130.7,364.62 131.48,365.14 131.39,366.29 132.62,366.48 132.93,367.34 133.76,367.83 133.32,369.23 134.33,369.5 135.01,370.18 135.82,370.49 136.72,370.52 137.38,371.25 138.28,371.29 139.04,371.74 139.84,372.05 140.99,371.32 141.55,372.36 142.57,372.04 143.35,372.43 144.17,372.72 144.63,373.76 145.81,373.04 146.39,373.77 147.29,373.75 147.64,375.03 148.62,374.79 149.28,375.33 150.12,375.45 150.76,376.03 151.71,375.87 152.43,376.27 153.03,376.96 153.73,377.17 154.18,377.94 155.29,378.06 155.44,379.13 156.15,379.65 156.9,380.12 157.65,380.6 158.13,381.34 159.16,381.54 159.73,382.14 160.13,382.91 160.88,383.34 161.53,383.86 161.54,385.01 162.12,385.61 162.9,386" fill="none" stroke="#ff0000" stroke-width="1.6" stroke-linejoin="round" stroke-dasharray="2.6 0.9"/>
<polyline points="111.37,355.34 112.28,355.01 112.97,355.78 113.75,356.06 114.61,355.98 115.51,355.68 116.24,356.24 117.09,356.2 117.93,356.21 118.77,356.23 119.28,357.18 120.16,357.38 120.72,358.14 121.94,357.8 122.63,358.34 123.22,359.04 124.24,359.02 124.84,359.71 125.44,360.4 126.22,360.79 126.7,361.68 127.65,361.78 128.44,362.4 129.31,362.92 129.92,363.6 130.84,364.02 131.71,364.48 131.27,365.87 131.97,366.45 133.13,366.7 133.65,367.4 134.06,368.19 134.24,369.28 135.26,368.96 136.12,369.1 136.75,369.92 137.76,369.64 138.48,370.2 139.25,370.62 140.13,370.69 141.02,370.73 141.74,371.3 142.56,371.56 143.35,371.93 144.14,372.31 144.92,372.56 145.69,372.84 146.58,372.81 146.96,374.03 147.76,374.24 148.63,374.28 149.61,374.06 150.25,374.63 150.7,375.68 151.66,375.51 152.53,375.54 153,376.54 153.57,376.83 154.83,376.79 155.12,377.73 155.69,378.39 156.67,378.63 157.12,379.41 157.47,380.28 158.04,380.93 158.69,381.51 159.28,382.09 160.07,382.47 160.92,382.79 161.55,383.33 161.44,384.62 162,385.22 162.9,385.5" fill="none" stroke="#0000ff" stroke-width="1.6" stroke-linejoin="round" stroke-dasharray="2.6 0.9" stroke-dashoffset="1.6"/>
<polyline points="111.27,355.44 112.34,354.29 112.94,355.54 113.93,354.76 114.69,355.2 115.54,355.13 116.15,356.33 116.97,356.42 117.78,356.6 118.73,356.05 119.14,357 120.44,356.52 120.93,357.39 121.59,357.97 122.7,357.82 123.32,358.46 124.3,358.52 124.47,359.93 125.72,359.53 126.51,359.91 127.14,360.55 127.57,361.49 128.41,362.05 129.34,362.47 129.74,363.33 130.38,363.95 131.6,364.15 131.69,365.17 132.68,365.54 133.1,366.32 133.73,366.95 134.34,367.59 134.38,368.47 134.92,369.56 135.85,369.49 136.96,368.9 137.71,369.37 138.34,370.21 139.18,370.4 140.26,369.91 141.04,370.28 141.62,371.28 142.42,371.6 143.5,371.09 143.93,372.4 145.01,371.93 145.55,372.76 146.34,372.99 147.21,373.03 147.59,374.24 148.69,373.74 149.42,374.09 150.11,374.58 150.67,375.34 151.34,375.87 152.23,375.87 153.12,375.84 153.65,376.35 154.36,376.87 154.61,377.84 155.21,378.47 156.06,378.84 157.28,378.84 157.5,379.85 158.26,380.32 159.1,380.7 159.07,381.9 160.29,381.86 160.32,382.99 161.15,383.33 161.81,383.85 162.08,384.75 162.9,385.1" fill="none" stroke="#00ff00" stroke-width="1.6" stroke-linejoin="round" stroke-dasharray="3.6 0.6"/>
<polyline points="34.5,343.8 72.7,362.9 74,363.2 75.1,370.5 79.9,442.9 79.9,442.9 82.2,445.8 87,448.1 100,449.5 110,448.6 130,444.3 160,438.5 196,431.5 204.2,430.2 211,429.2 219.3,428.6 224,428.8 228,429.9 231,431 233.8,432.4" fill="none" stroke="#000000" stroke-width="1.7" stroke-linejoin="round"/>
<polyline points="36.5,338.7 47.3,345.4 49.2,347.9 72.7,361.9 74,363.2 75.1,370.5 79.9,442.9 79.9,442.9 82.2,445.8 87,448.1" fill="none" stroke="#ff00ff" stroke-width="1.5" stroke-linejoin="round"/>
<polyline points="36.3,340.3 47.3,346.6 49.2,348.6 72.7,362.2 74,363.2 75.1,370.5 79.9,442.9" fill="none" stroke="#008000" stroke-width="1.4" stroke-linejoin="round"/>
<polyline points="36.5,337.1 41.5,339.6 47.3,344.1 48.5,346 54.3,348.5 72.7,360.6 74,363.2" fill="none" stroke="#00ffff" stroke-width="1.7" stroke-linejoin="round"/>
<polyline points="35.5,343 46,348.5 72.7,362.6" fill="none" stroke="#ff0000" stroke-width="1.5" stroke-linejoin="round" stroke-dasharray="2.6 0.9"/>
<polyline points="35.6,342.6 46,348.2 72.7,362.5" fill="none" stroke="#0000ff" stroke-width="1.5" stroke-linejoin="round" stroke-dasharray="2.6 0.9" stroke-dashoffset="1.6"/>
<polyline points="35.75,342.37 36.52,342.83 37.36,343.1 38.25,343.21 39.22,343.06 39.92,343.61 40.67,343.99 41.12,344.76 42.03,344.93 42.73,345.36 43.56,345.64 44.01,346.41 44.65,346.94 45.42,347.29 46.15,347.62 46.73,348.28 47.61,348.38 48.29,348.84 48.91,349.42 49.67,349.74 50.33,350.24 51.04,350.65 51.82,350.93 52.63,351.14 53.4,351.45 53.92,352.22 54.48,352.9 55.46,352.81 56.16,353.24 56.89,353.61 57.45,354.3 58.27,354.51 58.88,355.11 59.9,354.95 60.57,355.43 61.27,355.87 61.93,356.37 62.64,356.78 63.36,357.16 63.86,357.96 64.79,357.98 65.46,358.46 66.03,359.12 66.87,359.29 67.61,359.64 68.25,360.2 69.15,360.24 69.99,360.42 70.36,361.45 71.24,361.55 71.95,361.97 72.7,362.3" fill="none" stroke="#00ff00" stroke-width="1.5" stroke-linejoin="round" stroke-dasharray="3.6 0.6"/>
<polyline points="74,363.2 75.1,370.5 79.9,442.9 79.9,442.9 82.2,445.8 87,448.1 100,449.5 110,448.6 130,444.3 160,438.5 196,431.5 204.2,430.2 211,429.2 219.3,428.6 224,428.8 228,429.9 231,431 233.8,432.4" fill="none" stroke="#2a0a2a" stroke-width="1.6" stroke-linejoin="round" stroke-dasharray="9 1.2"/>
<polyline points="84,447.2 91,448.9" fill="none" stroke="#00ffff" stroke-width="1.6" stroke-linejoin="round"/>
<polyline points="127,445 130,444.3 160,438.5 196.8,431.8" fill="none" stroke="#ff00ff" stroke-width="1.6" stroke-linejoin="round"/>
<polyline points="150,440.4 156,439.3" fill="none" stroke="#00ffff" stroke-width="1.6" stroke-linejoin="round"/>
<polyline points="196.8,431.8 204.2,430.2 210,429.5" fill="none" stroke="#00ffff" stroke-width="1.6" stroke-linejoin="round"/>
<polyline points="210,429.5 218.9,429 222,429" fill="none" stroke="#00ff00" stroke-width="1.6" stroke-linejoin="round" stroke-dasharray="1.6 1"/>
<path d="M219.3,428.6 C220.08,428.63 222.55,428.58 224,428.8 C225.45,429.02 226.83,429.53 228,429.9 C229.17,430.27 230.03,430.58 231,431 C231.97,431.42 233.33,432.17 233.8,432.4" fill="none" stroke="#00ffff" stroke-width="1.6"/>
<polyline points="74.8,333.2 55,339.3" fill="none" stroke="#00ff00" stroke-width="1.7" stroke-linejoin="round"/>
<polygon points="52.2,340.2 56.8,337.3 57.6,341.1" fill="#00ff00"/>
<rect x="49.8" y="253.7" width="173.7" height="29.9" fill="#fff" stroke="#8a8a8a" stroke-width="0.8"/>
<polyline points="66,257.6 77,257.6" fill="none" stroke="#000000" stroke-width="1.6" stroke-linejoin="round"/>
<text x="77.6" y="259.5" font-size="5.75" fill="#4a4a4a">Carrier flight path</text>
<polyline points="66,265 77,265" fill="none" stroke="#ff00ff" stroke-width="1.6" stroke-linejoin="round"/>
<text x="77.6" y="266.9" font-size="5.75" fill="#4a4a4a">&#160;60s SO/MSR=0.55, k=1</text>
<polyline points="66,272.4 77,272.4" fill="none" stroke="#008000" stroke-width="1.6" stroke-linejoin="round"/>
<text x="77.6" y="274.3" font-size="5.75" fill="#4a4a4a">60s SO/MSR=0.55, k=5</text>
<polyline points="66,279.8 77,279.8" fill="none" stroke="#00ffff" stroke-width="1.6" stroke-linejoin="round"/>
<text x="77.6" y="281.7" font-size="5.75" fill="#4a4a4a">60s SO/MSR=0.55, k=9</text>
<polyline points="137.4,257.6 148.4,257.6" fill="none" stroke="#ff0000" stroke-width="1.6" stroke-linejoin="round" stroke-dasharray="2.8 1.4"/>
<text x="149" y="259.5" font-size="5.75" fill="#4a4a4a">&#160;60s AO/MSR=0.55, k=1</text>
<polyline points="137.4,265 148.4,265" fill="none" stroke="#0000ff" stroke-width="1.6" stroke-linejoin="round" stroke-dasharray="2.8 1.4"/>
<text x="149" y="266.9" font-size="5.75" fill="#4a4a4a">60s AO/MSR=0.55, k=5</text>
<polyline points="137.4,272.4 148.4,272.4" fill="none" stroke="#00ff00" stroke-width="1.6" stroke-linejoin="round" stroke-dasharray="2.8 1.4"/>
<text x="149" y="274.3" font-size="5.75" fill="#4a4a4a">60s AO/MSR=0.55, k=9</text>
<rect x="308.6" y="288" width="235.1" height="187" fill="none" stroke="#8a8a8a" stroke-width="0.8"/>
<line x1="344" y1="475" x2="344" y2="473.2" stroke="#8a8a8a" stroke-width="0.6"/>
<line x1="344" y1="288" x2="344" y2="289.8" stroke="#8a8a8a" stroke-width="0.6"/>
<text x="344" y="482" font-size="5.3" text-anchor="middle" fill="#4a4a4a">50.32</text>
<line x1="380" y1="475" x2="380" y2="473.2" stroke="#8a8a8a" stroke-width="0.6"/>
<line x1="380" y1="288" x2="380" y2="289.8" stroke="#8a8a8a" stroke-width="0.6"/>
<text x="380" y="482" font-size="5.3" text-anchor="middle" fill="#4a4a4a">50.34</text>
<line x1="416" y1="475" x2="416" y2="473.2" stroke="#8a8a8a" stroke-width="0.6"/>
<line x1="416" y1="288" x2="416" y2="289.8" stroke="#8a8a8a" stroke-width="0.6"/>
<text x="416" y="482" font-size="5.3" text-anchor="middle" fill="#4a4a4a">50.36</text>
<line x1="452" y1="475" x2="452" y2="473.2" stroke="#8a8a8a" stroke-width="0.6"/>
<line x1="452" y1="288" x2="452" y2="289.8" stroke="#8a8a8a" stroke-width="0.6"/>
<text x="452" y="482" font-size="5.3" text-anchor="middle" fill="#4a4a4a">50.38</text>
<line x1="488" y1="475" x2="488" y2="473.2" stroke="#8a8a8a" stroke-width="0.6"/>
<line x1="488" y1="288" x2="488" y2="289.8" stroke="#8a8a8a" stroke-width="0.6"/>
<text x="488" y="482" font-size="5.3" text-anchor="middle" fill="#4a4a4a">50.4</text>
<line x1="524" y1="475" x2="524" y2="473.2" stroke="#8a8a8a" stroke-width="0.6"/>
<line x1="524" y1="288" x2="524" y2="289.8" stroke="#8a8a8a" stroke-width="0.6"/>
<text x="524" y="482" font-size="5.3" text-anchor="middle" fill="#4a4a4a">50.42</text>
<text x="426.3" y="489.8" font-size="5.6" text-anchor="middle" fill="#4a4a4a">Latitude(°)</text>
<line x1="308.6" y1="295" x2="310.4" y2="295" stroke="#8a8a8a" stroke-width="0.6"/>
<line x1="543.7" y1="295" x2="541.9" y2="295" stroke="#8a8a8a" stroke-width="0.6"/>
<text x="306.6" y="296.9" font-size="5.3" text-anchor="end" fill="#4a4a4a">-2.5</text>
<line x1="308.6" y1="311.63" x2="310.4" y2="311.63" stroke="#8a8a8a" stroke-width="0.6"/>
<line x1="543.7" y1="311.63" x2="541.9" y2="311.63" stroke="#8a8a8a" stroke-width="0.6"/>
<text x="306.6" y="313.53" font-size="5.3" text-anchor="end" fill="#4a4a4a">-2.6</text>
<line x1="308.6" y1="328.26" x2="310.4" y2="328.26" stroke="#8a8a8a" stroke-width="0.6"/>
<line x1="543.7" y1="328.26" x2="541.9" y2="328.26" stroke="#8a8a8a" stroke-width="0.6"/>
<text x="306.6" y="330.16" font-size="5.3" text-anchor="end" fill="#4a4a4a">-2.7</text>
<line x1="308.6" y1="344.89" x2="310.4" y2="344.89" stroke="#8a8a8a" stroke-width="0.6"/>
<line x1="543.7" y1="344.89" x2="541.9" y2="344.89" stroke="#8a8a8a" stroke-width="0.6"/>
<text x="306.6" y="346.79" font-size="5.3" text-anchor="end" fill="#4a4a4a">-2.8</text>
<line x1="308.6" y1="361.52" x2="310.4" y2="361.52" stroke="#8a8a8a" stroke-width="0.6"/>
<line x1="543.7" y1="361.52" x2="541.9" y2="361.52" stroke="#8a8a8a" stroke-width="0.6"/>
<text x="306.6" y="363.42" font-size="5.3" text-anchor="end" fill="#4a4a4a">-2.9</text>
<line x1="308.6" y1="378.15" x2="310.4" y2="378.15" stroke="#8a8a8a" stroke-width="0.6"/>
<line x1="543.7" y1="378.15" x2="541.9" y2="378.15" stroke="#8a8a8a" stroke-width="0.6"/>
<text x="306.6" y="380.05" font-size="5.3" text-anchor="end" fill="#4a4a4a">-3</text>
<line x1="308.6" y1="394.78" x2="310.4" y2="394.78" stroke="#8a8a8a" stroke-width="0.6"/>
<line x1="543.7" y1="394.78" x2="541.9" y2="394.78" stroke="#8a8a8a" stroke-width="0.6"/>
<text x="306.6" y="396.68" font-size="5.3" text-anchor="end" fill="#4a4a4a">-3.1</text>
<line x1="308.6" y1="411.41" x2="310.4" y2="411.41" stroke="#8a8a8a" stroke-width="0.6"/>
<line x1="543.7" y1="411.41" x2="541.9" y2="411.41" stroke="#8a8a8a" stroke-width="0.6"/>
<text x="306.6" y="413.31" font-size="5.3" text-anchor="end" fill="#4a4a4a">-3.2</text>
<line x1="308.6" y1="428.04" x2="310.4" y2="428.04" stroke="#8a8a8a" stroke-width="0.6"/>
<line x1="543.7" y1="428.04" x2="541.9" y2="428.04" stroke="#8a8a8a" stroke-width="0.6"/>
<text x="306.6" y="429.94" font-size="5.3" text-anchor="end" fill="#4a4a4a">-3.3</text>
<line x1="308.6" y1="444.67" x2="310.4" y2="444.67" stroke="#8a8a8a" stroke-width="0.6"/>
<line x1="543.7" y1="444.67" x2="541.9" y2="444.67" stroke="#8a8a8a" stroke-width="0.6"/>
<text x="306.6" y="446.57" font-size="5.3" text-anchor="end" fill="#4a4a4a">-3.4</text>
<line x1="308.6" y1="461.3" x2="310.4" y2="461.3" stroke="#8a8a8a" stroke-width="0.6"/>
<line x1="543.7" y1="461.3" x2="541.9" y2="461.3" stroke="#8a8a8a" stroke-width="0.6"/>
<text x="306.6" y="463.2" font-size="5.3" text-anchor="end" fill="#4a4a4a">-3.5</text>
<text x="294.4" y="381.7" font-size="5.6" text-anchor="middle" transform="rotate(-90 294.4 381.7)" fill="#4a4a4a" dominant-baseline="central">Longitude(°)</text>
<polyline points="309.9,292.2 309.9,404.8" fill="none" stroke="#000000" stroke-width="1.5" stroke-linejoin="round"/>
<polyline points="312,292.2 310.6,330 310,404" fill="none" stroke="#ff00ff" stroke-width="1.2" stroke-linejoin="round"/>
<polyline points="313,292.2 310.8,330 310,404" fill="none" stroke="#008000" stroke-width="1.2" stroke-linejoin="round"/>
<polyline points="315,292.2 311.4,322 311,378 310,400" fill="none" stroke="#00ffff" stroke-width="1.3" stroke-linejoin="round"/>
<polyline points="310.6,292.2 310,330 309.9,404" fill="none" stroke="#ff0000" stroke-width="1.2" stroke-linejoin="round" stroke-dasharray="2.6 0.9"/>
<polyline points="311,292.2 310,330 309.9,404" fill="none" stroke="#0000ff" stroke-width="1.2" stroke-linejoin="round" stroke-dasharray="2.6 0.9" stroke-dashoffset="1.6"/>
<polyline points="310.4,292.2 310,330 309.9,404" fill="none" stroke="#00ff00" stroke-width="1.5" stroke-linejoin="round" stroke-dasharray="3.2 0.9"/>
<path d="M309.9,400 C309.9,400.8 309.65,403.38 309.9,404.8 C310.15,406.22 310.5,407.22 311.4,408.5 C312.3,409.78 313.57,411.3 315.3,412.5 C317.03,413.7 318.9,414.55 321.8,415.7 C324.7,416.85 329.07,418.3 332.7,419.4 C336.33,420.5 338.13,421.17 343.6,422.3 C349.07,423.43 358.22,424.93 365.5,426.2 C372.78,427.47 380.03,428.67 387.3,429.9 C394.57,431.13 403.65,432.7 409.1,433.6 C414.55,434.5 414.4,434.38 420,435.3 C425.6,436.22 435.12,437.87 442.7,439.1 C450.28,440.33 457.62,441.42 465.5,442.7 C473.38,443.98 484.4,445.73 490,446.8 C495.6,447.87 496.07,448.18 499.1,449.1 C502.13,450.02 505.17,451.17 508.2,452.3 C511.23,453.43 514.58,454.7 517.3,455.9 C520.02,457.1 522.53,458.43 524.5,459.5 C526.47,460.57 527.92,461.3 529.1,462.3 C530.28,463.3 531.07,464.52 531.6,465.5 C532.13,466.48 532.18,467.28 532.3,468.2 C532.42,469.12 532.3,470.53 532.3,471" fill="none" stroke="#00b000" stroke-width="1.35"/>
<path d="M309.9,400 C309.9,400.8 309.65,403.38 309.9,404.8 C310.15,406.22 310.5,407.22 311.4,408.5 C312.3,409.78 313.57,411.3 315.3,412.5 C317.03,413.7 318.9,414.55 321.8,415.7 C324.7,416.85 329.07,418.3 332.7,419.4 C336.33,420.5 338.13,421.17 343.6,422.3 C349.07,423.43 358.22,424.93 365.5,426.2 C372.78,427.47 380.03,428.67 387.3,429.9 C394.57,431.13 403.65,432.7 409.1,433.6 C414.55,434.5 414.4,434.38 420,435.3 C425.6,436.22 435.12,437.87 442.7,439.1 C450.28,440.33 457.62,441.42 465.5,442.7 C473.38,443.98 484.4,445.73 490,446.8 C495.6,447.87 496.07,448.18 499.1,449.1 C502.13,450.02 505.17,451.17 508.2,452.3 C511.23,453.43 514.58,454.7 517.3,455.9 C520.02,457.1 522.53,458.43 524.5,459.5 C526.47,460.57 527.92,461.3 529.1,462.3 C530.28,463.3 531.07,464.52 531.6,465.5 C532.13,466.48 532.18,467.28 532.3,468.2 C532.42,469.12 532.3,470.53 532.3,471" fill="none" stroke="#00ff00" stroke-width="1.35" stroke-dasharray="6 0.7"/>
<polyline points="532.3,471 532.3,475" fill="none" stroke="#00ff00" stroke-width="1.35" stroke-linejoin="round"/>
<polyline points="357.6,323.2 327.5,323.2" fill="none" stroke="#00ff00" stroke-width="1.6" stroke-linejoin="round"/>
<polygon points="324.3,323.2 328.6,321.2 328.6,325.2" fill="#00ff00"/>
<rect x="391.4" y="291.6" width="147.2" height="131.8" fill="#fff" stroke="#8a8a8a" stroke-width="0.8"/>
<line x1="399.5" y1="423.4" x2="399.5" y2="421.9" stroke="#8a8a8a" stroke-width="0.6"/>
<line x1="399.5" y1="291.6" x2="399.5" y2="293.1" stroke="#8a8a8a" stroke-width="0.6"/>
<text x="399.5" y="430" font-size="5.1" text-anchor="middle" fill="#4a4a4a">50.3005</text>
<line x1="416.8" y1="423.4" x2="416.8" y2="421.9" stroke="#8a8a8a" stroke-width="0.6"/>
<line x1="416.8" y1="291.6" x2="416.8" y2="293.1" stroke="#8a8a8a" stroke-width="0.6"/>
<text x="416.8" y="430" font-size="5.1" text-anchor="middle" fill="#4a4a4a">50.301</text>
<line x1="434.1" y1="423.4" x2="434.1" y2="421.9" stroke="#8a8a8a" stroke-width="0.6"/>
<line x1="434.1" y1="291.6" x2="434.1" y2="293.1" stroke="#8a8a8a" stroke-width="0.6"/>
<text x="434.1" y="430" font-size="5.1" text-anchor="middle" fill="#4a4a4a">50.3015</text>
<line x1="451.4" y1="423.4" x2="451.4" y2="421.9" stroke="#8a8a8a" stroke-width="0.6"/>
<line x1="451.4" y1="291.6" x2="451.4" y2="293.1" stroke="#8a8a8a" stroke-width="0.6"/>
<text x="451.4" y="430" font-size="5.1" text-anchor="middle" fill="#4a4a4a">50.302</text>
<line x1="468.7" y1="423.4" x2="468.7" y2="421.9" stroke="#8a8a8a" stroke-width="0.6"/>
<line x1="468.7" y1="291.6" x2="468.7" y2="293.1" stroke="#8a8a8a" stroke-width="0.6"/>
<text x="468.7" y="430" font-size="5.1" text-anchor="middle" fill="#4a4a4a">50.3025</text>
<line x1="486" y1="423.4" x2="486" y2="421.9" stroke="#8a8a8a" stroke-width="0.6"/>
<line x1="486" y1="291.6" x2="486" y2="293.1" stroke="#8a8a8a" stroke-width="0.6"/>
<text x="486" y="430" font-size="5.1" text-anchor="middle" fill="#4a4a4a">50.303</text>
<line x1="503.3" y1="423.4" x2="503.3" y2="421.9" stroke="#8a8a8a" stroke-width="0.6"/>
<line x1="503.3" y1="291.6" x2="503.3" y2="293.1" stroke="#8a8a8a" stroke-width="0.6"/>
<text x="503.3" y="430" font-size="5.1" text-anchor="middle" fill="#4a4a4a">50.3035</text>
<line x1="520.6" y1="423.4" x2="520.6" y2="421.9" stroke="#8a8a8a" stroke-width="0.6"/>
<line x1="520.6" y1="291.6" x2="520.6" y2="293.1" stroke="#8a8a8a" stroke-width="0.6"/>
<text x="520.6" y="430" font-size="5.1" text-anchor="middle" fill="#4a4a4a">50.304</text>
<line x1="391.4" y1="302.7" x2="392.9" y2="302.7" stroke="#8a8a8a" stroke-width="0.6"/>
<line x1="538.6" y1="302.7" x2="537.1" y2="302.7" stroke="#8a8a8a" stroke-width="0.6"/>
<text x="389.6" y="304.6" font-size="5.3" text-anchor="end" fill="#4a4a4a">-2.5</text>
<line x1="391.4" y1="319" x2="392.9" y2="319" stroke="#8a8a8a" stroke-width="0.6"/>
<line x1="538.6" y1="319" x2="537.1" y2="319" stroke="#8a8a8a" stroke-width="0.6"/>
<text x="389.6" y="320.9" font-size="5.3" text-anchor="end" fill="#4a4a4a">-2.55</text>
<line x1="391.4" y1="335.3" x2="392.9" y2="335.3" stroke="#8a8a8a" stroke-width="0.6"/>
<line x1="538.6" y1="335.3" x2="537.1" y2="335.3" stroke="#8a8a8a" stroke-width="0.6"/>
<text x="389.6" y="337.2" font-size="5.3" text-anchor="end" fill="#4a4a4a">-2.6</text>
<line x1="391.4" y1="351.6" x2="392.9" y2="351.6" stroke="#8a8a8a" stroke-width="0.6"/>
<line x1="538.6" y1="351.6" x2="537.1" y2="351.6" stroke="#8a8a8a" stroke-width="0.6"/>
<text x="389.6" y="353.5" font-size="5.3" text-anchor="end" fill="#4a4a4a">-2.65</text>
<line x1="391.4" y1="367.9" x2="392.9" y2="367.9" stroke="#8a8a8a" stroke-width="0.6"/>
<line x1="538.6" y1="367.9" x2="537.1" y2="367.9" stroke="#8a8a8a" stroke-width="0.6"/>
<text x="389.6" y="369.8" font-size="5.3" text-anchor="end" fill="#4a4a4a">-2.7</text>
<line x1="391.4" y1="384.2" x2="392.9" y2="384.2" stroke="#8a8a8a" stroke-width="0.6"/>
<line x1="538.6" y1="384.2" x2="537.1" y2="384.2" stroke="#8a8a8a" stroke-width="0.6"/>
<text x="389.6" y="386.1" font-size="5.3" text-anchor="end" fill="#4a4a4a">-2.75</text>
<line x1="391.4" y1="400.5" x2="392.9" y2="400.5" stroke="#8a8a8a" stroke-width="0.6"/>
<line x1="538.6" y1="400.5" x2="537.1" y2="400.5" stroke="#8a8a8a" stroke-width="0.6"/>
<text x="389.6" y="402.4" font-size="5.3" text-anchor="end" fill="#4a4a4a">-2.8</text>
<line x1="391.4" y1="416.8" x2="392.9" y2="416.8" stroke="#8a8a8a" stroke-width="0.6"/>
<line x1="538.6" y1="416.8" x2="537.1" y2="416.8" stroke="#8a8a8a" stroke-width="0.6"/>
<text x="389.6" y="418.7" font-size="5.3" text-anchor="end" fill="#4a4a4a">-2.85</text>
<polyline points="410.3,297.2 410.3,423.4" fill="none" stroke="#000000" stroke-width="1.5" stroke-linejoin="round"/>
<polyline points="476.6,297.5 451.6,349 435.2,423.4" fill="none" stroke="#ff00ff" stroke-width="1.3" stroke-linejoin="round"/>
<polyline points="488.79,298.27 487.72,298.89 487.84,299.91 487.24,300.68 487.35,301.7 486.35,302.28 486.58,303.3 486.32,304.07 485.29,304.46 485.65,305.55 485.23,306.25 484.64,306.86 483.75,307.32 484.34,308.44 483.95,309.27 483,309.91 483.54,311.04 482.88,311.77 482.19,312.47 481.93,313.31 481.51,314.09 481.92,315.21 480.73,315.67 480.99,316.72 480.15,317.32 480.2,318.29 479.4,318.91 479.53,319.91 479.5,320.87 479.34,321.79 478.66,322.54 478.89,323.58 478.43,324.53 477.24,324.77 477.06,325.68 476.29,326.21 476.51,327.4 475.7,327.9 475.23,328.62 475.11,329.59 474.47,330.22 473.33,330.52 473.04,331.39 472.77,332.26 472.19,332.93 471.46,333.5 470.88,334.17 470.76,335.14 470.82,336.23 469.51,336.42 469.8,337.44 469.63,338.28 469.67,339.14 469.14,339.95 468.97,340.79 469.03,341.65 468.93,342.52 468.69,343.45 467.6,343.7 467.21,344.52 466.88,345.38 465.84,345.67 465.55,346.08 464.74,346.17 463.91,346.17 463.19,347.33 462.34,347.02 461.51,347.02 460.72,347.33 459.85,346.82 459.01,346.7 458.27,347.69 457.42,347.32 456.06,347.25 455.92,348.09 456.2,349.05 456.38,349.98 455.74,350.69 455.44,351.49 454.91,352.22 455.37,353.23 455.04,354.02 453.99,354.61 454.89,355.74 453.97,356.36 454.3,357.37 453.28,357.94 453.39,358.88 452.55,359.51 453.08,360.59 452.05,361.24 452.71,362.17 452.81,363.02 452.65,363.84 452.55,364.67 452.07,365.44 451.26,366.17 451.89,367.1 451.34,367.88 452.08,368.77 451.42,369.53 451.32,370.34 451.77,371.2 451.11,371.96 451.19,372.79 451.26,373.62 450.58,374.38 450.66,375.21 451.27,376.09 451.21,376.9 451.19,377.72 450.86,378.51 450.34,379.25 449.71,379.96 449.46,380.79 449.33,381.65 449.93,382.73 448.91,383.32 448.7,384.16 448.78,385.08 447.93,385.73 448.14,386.69 448.44,387.68 448.08,388.47 447.92,389.34 447.11,389.98 446.83,390.79 446.29,391.52 446.99,392.65 446.73,393.47 445.36,393.92 445.9,395.01 445.64,395.82 444.68,396.41 445.28,397.51 444.23,398.07 443.86,398.82 443.93,399.72 443.58,400.44 443.95,401.46 442.98,401.93 442.67,402.68 442.2,403.35 442.18,404.21 442.33,405.14 441.91,405.83 441.13,406.39 441.48,407.36 441.17,408.17 440.73,408.93 439.84,409.54 439.85,410.45 439.79,411.34 438.82,411.92 438.98,412.89 439.1,413.83 438.45,414.52 437.85,415.23 438.12,416.23 437.78,417.02 437.45,417.78 436.8,418.48 437.05,419.37 437.42,420.28 436.79,420.98 436.94,421.84 436.59,422.61 436.4,423.4" fill="none" stroke="#008000" stroke-width="1.3" stroke-linejoin="round"/>
<polyline points="499.62,297.99 500.2,299.16 499.25,299.72 499.18,300.63 498.48,301.29 497.87,301.99 498.01,302.98 497.48,303.71 497.6,304.7 497.32,305.53 496.66,306.19 496.31,306.98 496.39,307.94 495.37,308.46 495.39,309.4 495.25,310.28 495.06,311.13 493.98,311.62 493.92,312.07 493.02,312.32 492.45,313.53 491.65,314.07 490.52,313.63 490.37,314.1 489.2,314.98 489.45,315.86 489.93,316.74 489.78,317.62 489.52,318.32 489.42,319.45 488.61,319.86 487.57,320.06 487.06,320.78 486.54,321.49 486.41,322.58 485.77,322.93 485.42,323.79 485.42,324.77 484.31,325.38 484.1,326.29 483.64,326.67 483.14,327.48 482.2,327.37 481.74,328.29 480.98,328.59 481.08,329.52 480.62,330.3 479.76,330.98 480.16,331.98 480.6,332.99 479.91,333.71 479.89,334.68 478.99,335.21 478.77,336.07 478.46,336.87 477.53,337.4 477.38,338.28 477.88,339.45 477.51,340.42 476.21,340.52 475.75,341.31 475.12,341.97 474.71,342.8 474.65,343.91 473.62,344.24 472.89,344.44 472.14,344.95 471.5,345.91 470.65,345.99 469.58,345.12 468.87,345.8 468.17,346.51 467.17,345.96 466.28,345.86 465.48,346.13 464.72,346.62 463.85,346.6 463.25,347.77 462.34,347.44 461.41,347.68 461.29,348.73 460.9,349.51 459.6,349.38 459.17,350.13 459.27,351.4 458.78,351.69 457.86,352.29 457.06,352.94 457.24,353.9 456.63,354.6 457.39,355.75 456.5,356.36 456.7,357.38 456.2,358.13 456.12,359.05 455.4,359.72 455.63,360.75 454.52,361.27 454.22,362.1 453.59,363.25 454.16,363.97 455.43,364.33 454.84,365.63 455.64,366.18 454.81,366.8 455.07,367.84 455.29,368.87 454.15,369.38 454.55,370.24 453.54,371.22 454.27,371.96 453.88,372.86 454.57,373.61 454.91,374.41 454.56,375.3 454.63,375.99 454.63,376.94 454.55,377.85 454.04,378.6 453.34,379.27 453.67,380.3 453.53,381.15 452.87,381.84 452.41,382.6 452.98,383.64 452.47,384.38 451.3,384.93 452.02,386.01 451.12,386.64 451.52,387.64 451.59,388.54 450.82,389.21 450.04,389.79 449.89,390.6 450.58,391.71 449.44,392.17 449.27,392.98 449.18,393.81 448.67,394.49 448.58,395.32 448.76,396.25 447.81,396.77 448.28,397.81 447.77,398.49 446.78,399 446.88,399.9 446.69,400.69 446.15,401.36 446.16,402.22 446.03,403.03 445.54,403.72 445.96,404.73 445.26,405.33 445.39,406.24 443.86,406.55 443.7,407.35 443.76,408.23 444.14,409.22 442.95,409.65 443.43,410.68 442.47,411.2 442.4,412.02 442.12,412.87 441.6,413.63 441.87,414.71 440.8,415.24 440.83,416.22 440.21,416.93 439.79,417.66 440.08,418.76 439.48,419.34 439.13,420.06 439.06,420.95 437.69,421.07 437.5,421.89 437.32,422.72 436.9,423.4" fill="none" stroke="#00ffff" stroke-width="1.3" stroke-linejoin="round"/>
<polyline points="427.55,297.2 427.16,298.04 427.91,298.97 427.56,299.82 427.17,300.67 427.27,301.55 427.24,302.42 427.42,303.31 427.4,304.18 426.89,305.02 427.16,305.92 426.47,306.69 426.4,307.54 426.23,308.38 426.82,309.31 426.49,310.13 426.79,311.02 426.44,311.83 426.62,312.71 426.1,313.51 425.55,314.3 425.65,315.13 425.79,316.15 425.64,317.1 424.76,317.85 425.37,318.99 424.36,319.75 424.21,320.62 424.85,321.62 423.84,322.35 424.01,323.28 424.12,324.19 423.95,325.06 423.63,325.91 423.57,326.8 423.19,327.61 423.12,328.44 423.64,329.29 423.92,330.14 423.11,330.93 423.2,331.76 423.15,332.59 423.68,333.45 423.64,334.28 422.77,335.07 423.26,335.92 423.11,336.74 422.57,337.55 423.29,338.49 422.61,339.19 422.9,340.19 422.17,340.87 421.74,341.64 422.04,342.64 421.21,343.29 420.8,343.96 420.49,344.76 420.1,345.5 419.54,346.15 419.31,346.99 419.03,347.8 418.37,348.39 417.96,349.12 417.67,350 417.66,350.82 418.18,351.61 418.05,352.43 418.09,353.24 417.59,354.07 417.7,354.88 418.22,355.67 417.54,356.5 418.51,357.28 418.54,358.09 418.3,358.91 418.58,359.71 417.74,360.56 418.36,361.35 418.36,362.16 417.92,362.99 418.27,363.78 418.2,364.6 418.42,365.4 418.43,366.21 417.97,367.04 418.68,367.83 418.46,368.65 418.53,369.46 418.9,370.26 418.93,371.07 418.6,371.89 418.33,372.71 418.73,373.51 419.13,374.31 418.29,375.15 419.11,375.93 418.4,376.77 419.27,377.55 418.69,378.38 419.22,379.18 419.14,380.01 418.95,380.81 418.59,381.6 418.88,382.42 418.87,383.23 418.85,384.04 418.71,384.84 418.92,385.65 418.21,386.44 418.95,387.27 418.98,388.08 418.53,388.87 418.7,389.68 418.3,390.48 418.95,391.31 418.29,392.09 418.57,392.91 417.98,393.69 418.58,394.52 418.42,395.32 418.5,396.14 418.26,396.93 418.48,397.75 418.06,398.54 418.29,399.36 417.97,400.15 418.35,400.98 418.16,401.78 418.03,402.58 417.84,403.38 417.88,404.19 418.07,405.01 418.34,405.84 418.25,406.63 418.14,407.43 418.04,408.23 417.97,409.03 417.42,409.79 417.67,410.61 417.04,411.36 417.64,412.22 417.56,413.02 417.55,413.83 417.52,414.63 416.91,415.38 416.95,416.19 417.2,417.02 416.58,417.77 416.64,418.58 416.82,419.41 416.57,420.19 416.45,420.99 416.6,421.81 416.88,422.64 416.4,423.4" fill="none" stroke="#ff0000" stroke-width="1.3" stroke-linejoin="round" stroke-dasharray="2.6 0.9"/>
<polyline points="430.05,297.15 429.68,298.18 430.62,298.75 430.61,299.66 431.51,300.23 431.03,301.31 431.21,302.15 432.06,302.75 432.35,303.65 431.91,304.47 431.93,305.44 431.71,306.33 431.53,307.21 430.64,307.96 430.61,308.94 429.85,309.72 429.6,310.64 429.53,311.96 430.06,312.86 430.74,313.21 431.19,314.43 430.66,315.13 429.36,315.4 429.05,316.21 428.91,317.12 428.49,317.87 428.25,318.76 427.53,319.35 427.01,320.18 425.99,320.38 425.49,321.19 425.05,321.9 423.84,321.84 423.51,322.66 422.55,323.35 423.33,324.1 423.08,324.97 423.52,325.76 422.95,326.66 423.78,327.41 423.34,328.29 423.54,329.12 423.99,329.83 424.47,330.54 424.18,331.43 424.33,332.22 424.17,333.08 425.08,333.68 425.29,334.46 425.34,335.27 424.95,336.01 425.37,337.1 424.66,337.9 425.12,339 424.83,339.91 423.88,340.57 423.68,341.43 423.65,342.39 422.85,342.89 421.94,343.33 422.09,344.39 421.49,345.02 421.21,345.82 420.69,346.5 420.68,347.56 419.34,347.79 419.17,348.75 418.92,349.66 418.5,350.47 418.18,351.11 417.26,351.91 417.36,352.73 417.89,353.56 417.61,354.37 417.65,355.19 418.05,356.01 418.24,356.84 417.38,357.64 418.05,358.47 417.55,359.27 418.19,360.11 418.16,360.92 417.97,361.74 417.37,362.54 417.4,363.36 416.93,364.17 417.31,365.01 417.5,365.83 418.14,366.65 417.03,367.52 417.62,368.33 417.21,369.18 418.22,369.98 417.29,370.85 417.75,371.67 418.09,372.49 417.89,373.33 418.32,374.15 417.74,375 418.2,375.82 417.65,376.67 418.31,377.49 417.72,378.34 417.83,379.17 417.75,379.99 417.43,380.82 418.19,381.67 417.7,382.49 418.01,383.34 417.39,384.15 417.44,384.99 417.49,385.82 417.66,386.66 418.04,387.51 417.23,388.32 417.13,389.15 417.13,389.98 417.83,390.84 417.22,391.65 417.37,392.49 417.15,393.32 417.17,394.15 417.55,395 417.65,395.83 417.2,396.68 417.4,397.51 417.56,398.33 417.19,399.18 418.23,399.98 418.28,400.81 417.76,401.67 418.23,402.48 417.37,403.35 418.3,404.15 417.38,405.02 418.19,405.82 418.33,406.65 417.61,407.51 417.73,408.34 418.08,409.16 417.89,409.98 417.8,410.83 417.19,411.59 417.58,412.51 417.4,413.34 417.36,414.19 417.28,415.04 416.81,415.83 417.36,416.78 416.53,417.5 416.12,418.29 416.18,419.16 416.3,420.04 416.39,420.92 416.55,421.8 416.42,422.64 415.8,423.4" fill="none" stroke="#0000ff" stroke-width="1.3" stroke-linejoin="round" stroke-dasharray="2.6 0.9" stroke-dashoffset="1.6"/>
<polyline points="431.67,297.24 432.08,298.06 432.75,298.55 433.9,298.4 434.15,299.44 434.76,299.99 435.66,300.18 435.91,300.89 437.06,301.41 437.33,302.36 437.56,303.33 437.75,304.09 437.73,304.97 437.56,305.78 436.61,306.25 436.8,307.22 436.45,307.95 436.33,308.79 435.72,309.41 435.19,310.2 435.31,311.2 434.69,311.97 434.61,312.9 434.72,313.94 433.31,314.18 433.61,315.34 432.89,315.87 432.02,316.3 432.31,317.49 432,318.29 431.21,319.04 430.36,319.38 429.24,318.87 428.49,319.53 427.8,320.36 426.85,320.38 425.89,320.39 425.39,321.14 424.62,321.4 423.56,321.18 423.13,322.06 422.71,322.49 421.99,323.42 422.18,324.23 422.38,325.36 422.86,326.31 423.96,326.62 424.1,327.69 424.9,328.23 425.01,329.17 425.38,330.05 425.26,331.05 425.83,331.89 426.55,332.69 426.77,333.61 426.36,334.54 426.44,335.36 427.51,335.92 427.3,336.81 427.65,337.55 427.64,338.42 426.77,339.08 426.69,340.12 426.06,340.9 425.68,341.67 425.5,342.66 424.63,342.93 424.25,343.71 423.59,344.19 422.96,344.71 422.29,345.13 421.93,346.11 420.77,345.93 420.53,347.08 419.73,347.41 418.65,347.36 417.79,347.8 417.46,348.96 416.06,349.38 417.11,350.34 415.97,351.22 416.84,352.18 417,353.1 416.09,354.06 416.96,354.72 416.42,355.66 417.46,356.28 417.48,357.11 417.35,358.07 417.25,359.04 416.43,359.67 416.17,360.56 415.32,361.35 415.74,362.12 415.32,363.02 415.59,363.82 416.52,364.5 415.77,365.46 415.93,366.14 416.22,367.02 416.17,367.85 416.49,368.72 416.21,369.53 416.23,370.37 416.16,371.19 415.56,371.96 415.81,372.77 415.42,373.67 415.78,374.45 415.61,375.31 416.62,375.99 415.86,376.95 416.39,377.7 416.3,378.53 416.83,379.32 416.34,380.18 416.74,380.98 416.42,381.83 416.64,382.64 417.23,383.42 417.1,384.25 416.61,385.11 417.55,385.87 416.87,386.75 417.03,387.56 416.89,388.4 417.41,389.19 417.27,390.02 417.31,390.84 417.02,391.67 417.87,392.46 417.39,393.3 417.73,394.11 417.37,394.95 417.81,395.75 417.91,396.56 417.92,397.38 417.17,398.24 417.84,399.03 417.26,399.88 417.48,400.69 418.08,401.49 417.78,402.32 418.47,403.11 417.4,403.99 417.8,404.79 418.45,405.48 418.2,406.43 418.46,407.25 418.48,408.13 419.11,409.04 418.02,409.33 417.84,410.22 417.91,411.29 416.7,411.49 416.16,412.14 416.27,413.23 415.35,413.74 414.97,414.5 414.73,415.31 415.46,416.37 414.36,416.95 414.83,417.94 413.97,418.58 413.9,419.43 413.94,420.29 413.66,421.21 414,421.95 414.01,422.79 414.8,423.4" fill="none" stroke="#00ff00" stroke-width="1.4" stroke-linejoin="round" stroke-dasharray="3.6 0.6"/>
<rect x="339.2" y="253.4" width="174.3" height="30.1" fill="#fff" stroke="#8a8a8a" stroke-width="0.8"/>
<polyline points="355.6,257.5 366.6,257.5" fill="none" stroke="#000000" stroke-width="1.6" stroke-linejoin="round"/>
<text x="367.2" y="259.4" font-size="5.75" fill="#4a4a4a">Carrier flight path</text>
<polyline points="355.6,264.9 366.6,264.9" fill="none" stroke="#ff00ff" stroke-width="1.6" stroke-linejoin="round"/>
<text x="367.2" y="266.8" font-size="5.75" fill="#4a4a4a">&#160;60s SO/MSR=0.55, k=1</text>
<polyline points="355.6,272.3 366.6,272.3" fill="none" stroke="#008000" stroke-width="1.6" stroke-linejoin="round"/>
<text x="367.2" y="274.2" font-size="5.75" fill="#4a4a4a">60s SO/MSR=0.55, k=5</text>
<polyline points="355.6,279.6 366.6,279.6" fill="none" stroke="#00ffff" stroke-width="1.6" stroke-linejoin="round"/>
<text x="367.2" y="281.5" font-size="5.75" fill="#4a4a4a">60s SO/MSR=0.55, k=9</text>
<polyline points="427,257.5 438,257.5" fill="none" stroke="#ff0000" stroke-width="1.6" stroke-linejoin="round" stroke-dasharray="2.8 1.4"/>
<text x="438.6" y="259.4" font-size="5.75" fill="#4a4a4a">&#160;60s AO/MSR=0.55, k=1</text>
<polyline points="427,264.9 438,264.9" fill="none" stroke="#0000ff" stroke-width="1.6" stroke-linejoin="round" stroke-dasharray="2.8 1.4"/>
<text x="438.6" y="266.8" font-size="5.75" fill="#4a4a4a">60s AO/MSR=0.55, k=5</text>
<polyline points="427,272.3 438,272.3" fill="none" stroke="#00ff00" stroke-width="1.6" stroke-linejoin="round" stroke-dasharray="2.8 1.4"/>
<text x="438.6" y="274.2" font-size="5.75" fill="#4a4a4a">60s AO/MSR=0.55, k=9</text>
</svg>
<div class="cap" id="capa" style="left:157px;top:236px;font-size:14.8px"><span class="lab">(<b>a</b>)</span> Position, velocity and attitude error</div>
<div class="cap" id="capb" style="letter-spacing:0.165px;left:26px;top:497.9px;font-size:14.8px"><span class="lab">(<b>b</b>)</span> 3<span class="dash">&#8212;</span>dimensional trajectory error</div>
<div class="cap" id="capc" style="letter-spacing:0.145px;left:312.6px;top:497.5px;font-size:14.8px"><span class="lab">(<b>c</b>)</span> 2<span class="dash">&#8212;</span>dimensional trajectory error</div>
</body></html>
